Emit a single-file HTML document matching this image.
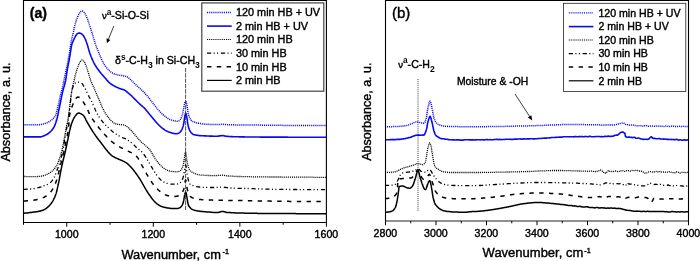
<!DOCTYPE html>
<html><head><meta charset="utf-8"><title>FTIR spectra</title>
<style>
html,body{margin:0;padding:0;background:#fff;}
body{width:700px;height:261px;overflow:hidden;}
svg{display:block;}
text{font-family:"Liberation Sans", Arial, Helvetica, sans-serif;fill:#000;stroke:#000;stroke-width:0.4px;}
</style></head><body>
<svg width="700" height="261" viewBox="0 0 700 261">
<rect width="700" height="261" fill="#fff"/>

<clipPath id="ca"><rect x="23.5" y="0.5" width="302.9" height="222.0"/></clipPath>
<g clip-path="url(#ca)" fill="none" stroke-linejoin="round">
<path d="M23.6,176.4 L24.1,176.4 L24.6,176.5 L25.1,176.5 L25.6,176.5 L26.1,176.6 L26.6,176.6 L27.1,176.6 L27.6,176.6 L28.1,176.6 L28.6,176.7 L29.1,176.7 L29.6,176.7 L30.1,176.7 L30.6,176.7 L31.1,176.7 L31.6,176.7 L32.1,176.7 L32.6,176.7 L33.1,176.7 L33.6,176.7 L34.1,176.7 L34.6,176.7 L35.1,176.7 L35.6,176.7 L36.1,176.7 L36.6,176.6 L37.1,176.6 L37.6,176.5 L38.1,176.5 L38.6,176.4 L39.1,176.4 L39.6,176.3 L40.1,176.3 L40.6,176.2 L41.1,176.1 L41.6,176.1 L42.1,176.0 L42.5,175.9 L43.0,175.8 L43.5,175.6 L44.0,175.5 L44.5,175.3 L45.0,175.2 L45.4,175.0 L45.9,174.8 L46.4,174.6 L46.8,174.4 L47.3,174.2 L47.7,174.0 L48.2,173.8 L48.6,173.5 L49.0,173.3 L49.5,173.0 L49.9,172.8 L50.3,172.5 L50.7,172.2 L51.1,171.9 L51.5,171.6 L51.9,171.3 L52.3,170.9 L52.7,170.6 L53.0,170.3 L53.4,169.9 L53.7,169.5 L54.1,169.2 L54.4,168.8 L54.7,168.4 L55.0,168.0 L55.3,167.6 L55.6,167.2 L55.9,166.8 L56.2,166.4 L56.4,165.9 L56.7,165.5 L56.9,165.1 L57.1,164.6 L57.3,164.1 L57.5,163.7 L57.8,163.2 L58.0,162.8 L58.1,162.3 L58.3,161.9 L58.5,161.4 L58.7,160.9 L58.9,160.5 L59.0,160.0 L59.2,159.5 L59.4,159.0 L59.5,158.6 L59.7,158.1 L59.8,157.6 L60.0,157.1 L60.1,156.7 L60.3,156.2 L60.5,155.7 L60.6,155.2 L60.8,154.8 L60.9,154.3 L61.1,153.8 L61.2,153.3 L61.3,152.8 L61.5,152.4 L61.6,151.9 L61.7,151.4 L61.9,150.9 L62.0,150.4 L62.1,149.9 L62.2,149.5 L62.3,149.0 L62.4,148.5 L62.5,148.0 L62.6,147.5 L62.7,147.0 L62.8,146.5 L62.9,146.0 L63.0,145.5 L63.1,145.0 L63.2,144.6 L63.3,144.1 L63.4,143.6 L63.5,143.1 L63.6,142.6 L63.6,142.1 L63.7,141.6 L63.8,141.1 L63.9,140.6 L64.0,140.1 L64.1,139.6 L64.2,139.1 L64.3,138.6 L64.4,138.2 L64.4,137.7 L64.5,137.2 L64.6,136.7 L64.7,136.2 L64.8,135.7 L64.9,135.2 L65.0,134.7 L65.1,134.2 L65.1,133.7 L65.2,133.2 L65.3,132.7 L65.4,132.2 L65.5,131.8 L65.6,131.3 L65.7,130.8 L65.8,130.3 L65.9,129.8 L65.9,129.3 L66.0,128.8 L66.1,128.3 L66.2,127.8 L66.3,127.3 L66.4,126.8 L66.5,126.4 L66.6,125.9 L66.7,125.4 L66.8,124.9 L67.0,124.4 L67.1,123.9 L67.2,123.4 L67.3,122.9 L67.4,122.4 L67.5,121.9 L67.6,121.5 L67.7,121.0 L67.8,120.5 L67.9,120.0 L68.0,119.5 L68.1,119.0 L68.2,118.5 L68.2,118.0 L68.3,117.5 L68.4,117.0 L68.5,116.5 L68.5,116.0 L68.6,115.6 L68.7,115.1 L68.7,114.6 L68.8,114.1 L68.9,113.6 L68.9,113.1 L69.0,112.6 L69.1,112.1 L69.1,111.6 L69.2,111.1 L69.2,110.6 L69.3,110.1 L69.3,109.6 L69.4,109.1 L69.5,108.6 L69.5,108.1 L69.6,107.6 L69.6,107.1 L69.7,106.6 L69.7,106.1 L69.8,105.6 L69.9,105.1 L69.9,104.6 L70.0,104.1 L70.0,103.6 L70.1,103.1 L70.2,102.6 L70.2,102.1 L70.3,101.6 L70.3,101.2 L70.4,100.7 L70.5,100.2 L70.5,99.7 L70.6,99.2 L70.6,98.7 L70.7,98.2 L70.7,97.7 L70.8,97.2 L70.9,96.7 L70.9,96.2 L71.0,95.7 L71.1,95.2 L71.1,94.7 L71.2,94.2 L71.3,93.7 L71.4,93.2 L71.4,92.7 L71.5,92.2 L71.6,91.7 L71.7,91.2 L71.8,90.7 L71.8,90.3 L71.9,89.8 L72.0,89.3 L72.1,88.8 L72.2,88.3 L72.3,87.8 L72.4,87.3 L72.5,86.8 L72.6,86.3 L72.7,85.8 L72.8,85.3 L72.9,84.9 L73.0,84.4 L73.1,83.9 L73.3,83.4 L73.4,82.9 L73.5,82.4 L73.7,82.0 L73.8,81.5 L73.9,81.0 L74.0,80.5 L74.2,80.0 L74.3,79.5 L74.4,79.0 L74.5,78.6 L74.6,78.1 L74.7,77.6 L74.8,77.1 L74.9,76.6 L75.1,76.1 L75.2,75.6 L75.3,75.1 L75.4,74.7 L75.5,74.2 L75.7,73.7 L75.8,73.2 L75.9,72.7 L76.1,72.3 L76.2,71.8 L76.4,71.3 L76.5,70.8 L76.7,70.3 L76.8,69.9 L77.0,69.4 L77.1,68.9 L77.3,68.4 L77.5,68.0 L77.6,67.5 L77.8,67.0 L78.0,66.6 L78.2,66.1 L78.3,65.6 L78.5,65.2 L78.7,64.7 L78.9,64.2 L79.1,63.8 L79.3,63.3 L79.5,62.8 L79.8,62.4 L80.0,62.0 L80.3,61.6 L80.6,61.2 L81.0,60.8 L81.4,60.4 L81.8,60.1 L82.2,60.0 L82.6,60.2 L83.0,60.5 L83.4,60.9 L83.8,61.3 L84.1,61.6 L84.3,62.0 L84.6,62.5 L84.8,62.9 L85.0,63.4 L85.2,63.9 L85.4,64.3 L85.6,64.8 L85.8,65.3 L86.0,65.7 L86.2,66.2 L86.4,66.7 L86.5,67.1 L86.7,67.6 L86.9,68.1 L87.0,68.6 L87.2,69.0 L87.3,69.5 L87.5,70.0 L87.6,70.5 L87.8,70.9 L87.9,71.4 L88.1,71.9 L88.2,72.4 L88.4,72.9 L88.5,73.3 L88.7,73.8 L88.8,74.3 L89.0,74.8 L89.1,75.2 L89.2,75.7 L89.4,76.2 L89.5,76.7 L89.7,77.2 L89.8,77.7 L90.0,78.1 L90.1,78.6 L90.3,79.1 L90.4,79.6 L90.6,80.0 L90.7,80.5 L90.9,81.0 L91.1,81.4 L91.3,81.9 L91.5,82.4 L91.7,82.8 L91.9,83.3 L92.1,83.7 L92.3,84.2 L92.5,84.6 L92.7,85.1 L92.9,85.5 L93.1,86.0 L93.3,86.5 L93.5,86.9 L93.8,87.4 L94.0,87.8 L94.2,88.3 L94.4,88.7 L94.6,89.2 L94.8,89.7 L95.0,90.1 L95.2,90.6 L95.4,91.0 L95.5,91.5 L95.7,92.0 L95.9,92.4 L96.1,92.9 L96.3,93.3 L96.5,93.8 L96.7,94.3 L96.9,94.7 L97.1,95.2 L97.3,95.6 L97.5,96.1 L97.7,96.5 L97.9,97.0 L98.1,97.5 L98.3,97.9 L98.5,98.4 L98.7,98.8 L98.9,99.3 L99.1,99.8 L99.3,100.2 L99.5,100.7 L99.7,101.1 L99.9,101.6 L100.1,102.1 L100.3,102.5 L100.5,103.0 L100.6,103.5 L100.8,103.9 L101.0,104.4 L101.2,104.8 L101.4,105.3 L101.6,105.8 L101.8,106.2 L102.0,106.7 L102.2,107.1 L102.4,107.6 L102.6,108.0 L102.9,108.5 L103.1,108.9 L103.3,109.4 L103.5,109.8 L103.7,110.3 L104.0,110.7 L104.2,111.2 L104.4,111.6 L104.7,112.0 L104.9,112.5 L105.2,112.9 L105.4,113.3 L105.7,113.8 L106.0,114.2 L106.2,114.6 L106.5,115.0 L106.8,115.4 L107.1,115.8 L107.4,116.2 L107.7,116.6 L108.0,117.0 L108.3,117.4 L108.6,117.8 L109.0,118.2 L109.3,118.6 L109.6,119.0 L109.9,119.3 L110.3,119.7 L110.6,120.1 L110.9,120.5 L111.3,120.8 L111.6,121.2 L112.0,121.5 L112.4,121.8 L112.8,122.2 L113.2,122.5 L113.6,122.8 L114.0,123.1 L114.4,123.3 L114.9,123.6 L115.3,123.7 L115.8,123.9 L116.3,124.0 L116.8,124.1 L117.3,124.2 L117.8,124.3 L118.3,124.4 L118.8,124.5 L119.2,124.5 L119.7,124.6 L120.3,124.6 L120.8,124.7 L121.3,124.7 L121.8,124.8 L122.3,124.8 L122.8,124.9 L123.2,124.9 L123.7,125.0 L124.2,125.2 L124.7,125.3 L125.1,125.5 L125.6,125.8 L126.0,126.0 L126.5,126.3 L126.9,126.5 L127.3,126.8 L127.7,127.1 L128.1,127.5 L128.4,127.8 L128.8,128.1 L129.2,128.5 L129.5,128.8 L129.9,129.2 L130.2,129.5 L130.6,129.9 L130.9,130.3 L131.2,130.6 L131.6,131.0 L131.9,131.4 L132.2,131.8 L132.6,132.1 L132.9,132.5 L133.2,132.9 L133.5,133.3 L133.9,133.7 L134.2,134.1 L134.5,134.4 L134.8,134.8 L135.2,135.2 L135.5,135.6 L135.8,135.9 L136.1,136.3 L136.5,136.7 L136.8,137.1 L137.1,137.5 L137.4,137.9 L137.8,138.2 L138.1,138.6 L138.4,139.0 L138.8,139.4 L139.1,139.7 L139.4,140.1 L139.8,140.5 L140.1,140.8 L140.5,141.2 L140.8,141.5 L141.2,141.9 L141.6,142.2 L141.9,142.5 L142.3,142.9 L142.7,143.2 L143.1,143.5 L143.4,143.8 L143.8,144.2 L144.2,144.5 L144.6,144.8 L145.0,145.1 L145.4,145.5 L145.7,145.8 L146.1,146.1 L146.5,146.5 L146.8,146.8 L147.2,147.1 L147.6,147.5 L148.0,147.8 L148.3,148.2 L148.7,148.5 L149.0,148.9 L149.4,149.2 L149.7,149.6 L150.0,150.0 L150.3,150.4 L150.6,150.8 L150.9,151.2 L151.1,151.6 L151.4,152.1 L151.6,152.5 L151.9,152.9 L152.1,153.4 L152.3,153.8 L152.5,154.3 L152.8,154.7 L153.0,155.2 L153.3,155.6 L153.5,156.0 L153.8,156.5 L154.1,156.9 L154.3,157.3 L154.6,157.7 L154.9,158.2 L155.1,158.6 L155.4,159.0 L155.7,159.4 L156.0,159.8 L156.3,160.2 L156.5,160.7 L156.8,161.1 L157.1,161.4 L157.4,161.8 L157.8,162.2 L158.1,162.6 L158.4,163.0 L158.7,163.4 L159.1,163.8 L159.4,164.1 L159.7,164.5 L160.1,164.9 L160.4,165.2 L160.8,165.6 L161.1,165.9 L161.5,166.3 L161.9,166.6 L162.2,167.0 L162.6,167.3 L163.0,167.6 L163.4,167.9 L163.8,168.2 L164.2,168.5 L164.6,168.8 L165.0,169.1 L165.5,169.3 L165.9,169.6 L166.3,169.8 L166.8,170.0 L167.3,170.2 L167.7,170.4 L168.2,170.6 L168.7,170.7 L169.1,170.9 L169.6,171.0 L170.1,171.1 L170.6,171.3 L171.1,171.4 L171.6,171.4 L172.1,171.5 L172.6,171.6 L173.1,171.6 L173.6,171.6 L174.1,171.7 L174.6,171.7 L175.1,171.7 L175.6,171.8 L176.1,171.8 L176.6,171.8 L177.1,171.8 L177.6,171.8 L178.1,171.7 L178.6,171.5 L179.1,171.4 L179.6,171.2 L180.0,171.0 L180.3,170.8 L180.7,170.5 L181.1,170.1 L181.4,169.7 L181.7,169.2 L181.9,168.7 L182.2,168.3 L182.4,167.8 L182.5,167.4 L182.7,166.9 L182.8,166.5 L183.0,166.0 L183.1,165.5 L183.2,165.0 L183.3,164.5 L183.4,164.0 L183.5,163.5 L183.6,163.0 L183.7,162.5 L183.8,162.0 L183.9,161.5 L184.0,161.0 L184.1,160.5 L184.2,160.0 L184.3,159.4 L184.4,158.7 L184.5,158.1 L184.5,157.4 L184.6,156.8 L184.7,156.1 L184.8,155.5 L184.9,154.9 L184.9,154.3 L185.0,153.8 L185.1,153.3 L185.2,153.0 L185.3,152.6 L185.3,152.4 L185.4,152.2 L185.5,152.2 L185.6,152.3 L185.7,152.4 L185.8,152.7 L185.8,153.0 L185.9,153.4 L186.0,153.9 L186.1,154.4 L186.2,155.0 L186.2,155.6 L186.3,156.2 L186.4,156.9 L186.5,157.6 L186.6,158.2 L186.6,158.8 L186.7,159.5 L186.8,160.1 L186.9,160.6 L187.0,161.1 L187.1,161.6 L187.2,162.1 L187.3,162.6 L187.4,163.1 L187.5,163.6 L187.6,164.1 L187.7,164.6 L187.8,165.1 L188.0,165.6 L188.1,166.1 L188.2,166.5 L188.4,167.0 L188.5,167.5 L188.7,167.9 L188.9,168.4 L189.1,168.8 L189.3,169.3 L189.6,169.8 L189.9,170.2 L190.2,170.6 L190.5,171.0 L190.8,171.3 L191.2,171.6 L191.5,171.9 L192.0,172.2 L192.4,172.4 L192.9,172.6 L193.3,172.8 L193.8,173.0 L194.3,173.2 L194.8,173.4 L195.2,173.6 L195.7,173.8 L196.2,174.0 L196.7,174.1 L197.1,174.3 L197.6,174.5 L198.1,174.6 L198.6,174.8 L199.1,174.9 L199.5,174.9 L200.0,175.0 L200.5,175.0 L201.0,175.1 L201.5,175.1 L202.0,175.2 L202.5,175.2 L203.0,175.2 L203.5,175.2 L204.0,175.3 L204.5,175.3 L205.0,175.3 L205.5,175.4 L206.0,175.4 L206.5,175.4 L207.0,175.4 L207.5,175.5 L208.0,175.5 L208.5,175.5 L209.0,175.5 L209.5,175.5 L210.0,175.5 L210.5,175.5 L211.0,175.6 L211.5,175.6 L212.0,175.6 L212.5,175.6 L213.0,175.6 L213.5,175.6 L214.0,175.6 L214.5,175.6 L215.0,175.6 L215.5,175.6 L216.0,175.6 L216.5,175.6 L217.0,175.5 L217.5,175.5 L218.0,175.5 L218.5,175.4 L219.0,175.4 L219.5,175.3 L220.0,175.3 L220.5,175.3 L221.0,175.2 L221.5,175.2 L222.0,175.2 L222.5,175.2 L223.0,175.2 L223.5,175.3 L224.0,175.3 L224.5,175.4 L225.0,175.5 L225.5,175.6 L226.0,175.7 L226.5,175.8 L227.0,175.9 L227.5,176.0 L228.0,176.0 L228.5,176.0 L229.0,176.1 L229.4,176.1 L229.9,176.1 L230.4,176.1 L230.9,176.2 L231.4,176.2 L231.9,176.2 L232.4,176.2 L232.9,176.3 L233.4,176.3 L233.9,176.3 L234.4,176.3 L234.9,176.4 L235.4,176.4 L235.9,176.4 L236.4,176.4 L236.9,176.4 L237.4,176.5 L237.9,176.5 L238.4,176.5 L238.9,176.5 L239.4,176.5 L239.9,176.5 L240.4,176.5 L240.9,176.6 L241.4,176.6 L241.9,176.6 L242.4,176.6 L242.9,176.6 L243.4,176.6 L243.9,176.6 L244.4,176.6 L244.9,176.7 L245.4,176.7 L245.9,176.7 L246.4,176.7 L246.9,176.7 L247.4,176.7 L247.9,176.7 L248.4,176.7 L248.9,176.7 L249.4,176.7 L249.9,176.7 L250.4,176.8 L250.9,176.8 L251.4,176.8 L251.9,176.8 L252.4,176.8 L252.9,176.8 L253.4,176.8 L253.9,176.8 L254.4,176.8 L254.9,176.8 L255.4,176.8 L255.9,176.8 L256.4,176.8 L256.9,176.8 L257.4,176.8 L257.9,176.9 L258.4,176.9 L258.9,176.9 L259.4,176.9 L259.9,176.9 L260.4,176.9 L260.9,176.9 L261.4,176.9 L261.9,176.9 L262.4,176.9 L262.9,176.9 L263.4,176.9 L263.9,176.9 L264.4,176.9 L264.9,176.9 L265.4,176.9 L265.9,176.9 L266.4,176.9 L266.9,176.9 L267.4,176.9 L267.9,176.9 L268.4,177.0 L268.9,177.0 L269.4,177.0 L269.9,177.0 L270.4,177.0 L270.9,177.0 L271.4,177.0 L271.9,177.0 L272.4,177.0 L272.9,177.0 L273.4,177.0 L273.9,177.0 L274.4,177.0 L274.9,177.0 L275.4,177.0 L275.9,177.0 L276.4,177.0 L276.9,177.0 L277.4,177.0 L277.9,177.0 L278.4,177.0 L278.9,177.0 L279.4,177.0 L279.9,177.0 L280.4,177.0 L280.9,177.0 L281.4,177.0 L281.9,177.1 L282.4,177.1 L282.9,177.1 L283.4,177.1 L283.9,177.1 L284.4,177.1 L284.9,177.1 L285.4,177.1 L285.9,177.1 L286.4,177.1 L286.9,177.1 L287.4,177.1 L287.9,177.1 L288.4,177.1 L288.9,177.1 L289.4,177.1 L289.9,177.1 L290.4,177.1 L290.9,177.1 L291.4,177.1 L291.9,177.1 L292.4,177.1 L292.9,177.1 L293.4,177.1 L293.9,177.1 L294.4,177.1 L294.9,177.1 L295.4,177.1 L295.9,177.1 L296.4,177.2 L296.9,177.2 L297.4,177.2 L297.9,177.2 L298.4,177.2 L298.9,177.2 L299.4,177.2 L299.9,177.2 L300.4,177.2 L300.9,177.2 L301.4,177.2 L301.9,177.2 L302.4,177.2 L302.9,177.2 L303.4,177.2 L303.9,177.2 L304.4,177.2 L304.9,177.2 L305.4,177.2 L305.9,177.2 L306.4,177.2 L306.9,177.2 L307.4,177.2 L307.9,177.2 L308.4,177.2 L308.9,177.2 L309.4,177.2 L309.9,177.2 L310.4,177.2 L310.9,177.2 L311.4,177.2 L311.9,177.2 L312.4,177.2 L312.9,177.2 L313.4,177.2 L313.9,177.3 L314.4,177.3 L314.9,177.3 L315.4,177.3 L315.9,177.3 L316.4,177.3 L316.9,177.3 L317.4,177.3 L317.9,177.3 L318.4,177.3 L318.9,177.3 L319.4,177.3 L319.9,177.3 L320.4,177.3 L320.9,177.3 L321.4,177.3 L321.9,177.3 L322.4,177.3 L322.9,177.3 L323.4,177.3 L323.9,177.3 L324.4,177.3 L324.9,177.3 L325.4,177.3 L325.9,177.3 L326.0,177.3" stroke="#000" stroke-width="1.3" stroke-dasharray="1.05 0.9"/>
<path d="M23.6,189.3 L24.1,189.3 L24.6,189.3 L25.1,189.3 L25.6,189.3 L26.1,189.2 L26.6,189.2 L27.1,189.2 L27.6,189.2 L28.1,189.1 L28.6,189.1 L29.1,189.1 L29.6,189.0 L30.1,189.0 L30.6,189.0 L31.1,188.9 L31.6,188.9 L32.1,188.8 L32.6,188.8 L33.1,188.7 L33.6,188.6 L34.1,188.6 L34.6,188.5 L35.1,188.4 L35.5,188.3 L36.0,188.2 L36.5,188.1 L37.0,188.0 L37.5,187.9 L38.0,187.7 L38.5,187.6 L39.0,187.5 L39.4,187.4 L39.9,187.2 L40.4,187.1 L40.9,187.0 L41.4,186.8 L41.8,186.6 L42.3,186.5 L42.8,186.3 L43.2,186.1 L43.7,185.9 L44.2,185.7 L44.6,185.6 L45.1,185.4 L45.6,185.2 L46.1,185.0 L46.5,184.8 L47.0,184.6 L47.5,184.4 L47.9,184.2 L48.4,183.9 L48.8,183.7 L49.2,183.4 L49.6,183.2 L50.0,182.9 L50.4,182.6 L50.7,182.3 L51.1,181.9 L51.4,181.6 L51.7,181.2 L52.0,180.8 L52.3,180.3 L52.6,179.9 L52.9,179.5 L53.2,179.0 L53.5,178.6 L53.7,178.2 L54.0,177.7 L54.2,177.3 L54.4,176.8 L54.6,176.4 L54.9,176.0 L55.1,175.5 L55.2,175.0 L55.4,174.6 L55.6,174.1 L55.8,173.6 L56.0,173.2 L56.1,172.7 L56.3,172.2 L56.5,171.7 L56.6,171.3 L56.8,170.8 L57.0,170.3 L57.2,169.8 L57.3,169.4 L57.5,168.9 L57.7,168.5 L57.9,168.0 L58.1,167.5 L58.3,167.1 L58.5,166.6 L58.6,166.1 L58.8,165.7 L59.0,165.2 L59.2,164.7 L59.3,164.3 L59.5,163.8 L59.6,163.3 L59.8,162.8 L59.9,162.3 L60.1,161.9 L60.2,161.4 L60.4,160.9 L60.5,160.4 L60.6,159.9 L60.8,159.5 L60.9,159.0 L61.0,158.5 L61.2,158.0 L61.3,157.5 L61.4,157.0 L61.5,156.6 L61.6,156.1 L61.8,155.6 L61.9,155.1 L62.0,154.6 L62.1,154.1 L62.2,153.6 L62.3,153.1 L62.4,152.7 L62.5,152.2 L62.6,151.7 L62.7,151.2 L62.8,150.7 L62.9,150.2 L63.0,149.7 L63.0,149.2 L63.1,148.7 L63.2,148.2 L63.3,147.7 L63.4,147.3 L63.5,146.8 L63.6,146.3 L63.7,145.8 L63.7,145.3 L63.8,144.8 L63.9,144.3 L64.0,143.8 L64.1,143.3 L64.2,142.8 L64.2,142.3 L64.3,141.8 L64.4,141.3 L64.5,140.8 L64.6,140.3 L64.7,139.9 L64.7,139.4 L64.8,138.9 L64.9,138.4 L65.0,137.9 L65.1,137.4 L65.2,136.9 L65.2,136.4 L65.3,135.9 L65.4,135.4 L65.5,134.9 L65.6,134.4 L65.7,133.9 L65.7,133.4 L65.8,133.0 L65.9,132.5 L66.0,132.0 L66.1,131.5 L66.2,131.0 L66.2,130.5 L66.3,130.0 L66.4,129.5 L66.5,129.0 L66.6,128.5 L66.7,128.0 L66.8,127.5 L66.9,127.0 L67.0,126.6 L67.1,126.1 L67.1,125.6 L67.2,125.1 L67.3,124.6 L67.4,124.1 L67.5,123.6 L67.6,123.1 L67.7,122.6 L67.8,122.1 L67.9,121.6 L68.0,121.1 L68.1,120.7 L68.2,120.2 L68.3,119.7 L68.4,119.2 L68.4,118.7 L68.5,118.2 L68.6,117.7 L68.7,117.2 L68.7,116.7 L68.8,116.2 L68.9,115.7 L68.9,115.2 L69.0,114.7 L69.1,114.2 L69.1,113.7 L69.2,113.2 L69.2,112.7 L69.3,112.2 L69.3,111.8 L69.4,111.3 L69.4,110.8 L69.5,110.3 L69.6,109.8 L69.6,109.3 L69.7,108.8 L69.7,108.3 L69.8,107.8 L69.8,107.3 L69.9,106.8 L69.9,106.3 L70.0,105.8 L70.0,105.3 L70.1,104.8 L70.2,104.3 L70.2,103.8 L70.3,103.3 L70.3,102.8 L70.4,102.3 L70.4,101.8 L70.5,101.3 L70.6,100.8 L70.6,100.3 L70.7,99.8 L70.7,99.3 L70.8,98.8 L70.8,98.3 L70.9,97.8 L71.0,97.3 L71.0,96.8 L71.1,96.3 L71.2,95.9 L71.2,95.4 L71.3,94.9 L71.4,94.4 L71.5,93.9 L71.5,93.4 L71.6,92.9 L71.7,92.4 L71.8,91.9 L71.9,91.4 L72.0,90.9 L72.1,90.4 L72.2,89.9 L72.3,89.4 L72.4,88.9 L72.5,88.4 L72.6,88.0 L72.8,87.5 L72.9,87.0 L73.1,86.5 L73.2,86.0 L73.4,85.5 L73.7,85.0 L73.9,84.5 L74.2,84.1 L74.5,83.7 L74.8,83.4 L75.1,83.1 L75.5,82.9 L75.9,82.7 L76.4,82.5 L76.9,82.4 L77.5,82.2 L78.0,82.1 L78.5,82.1 L79.0,82.1 L79.5,82.2 L80.0,82.4 L80.4,82.6 L80.9,82.8 L81.3,83.1 L81.7,83.3 L82.0,83.6 L82.4,84.0 L82.7,84.4 L83.0,84.8 L83.2,85.3 L83.5,85.7 L83.8,86.2 L84.0,86.6 L84.3,87.1 L84.5,87.5 L84.8,87.9 L85.0,88.4 L85.3,88.8 L85.5,89.2 L85.7,89.7 L85.9,90.1 L86.2,90.6 L86.4,91.0 L86.6,91.5 L86.8,91.9 L87.0,92.4 L87.2,92.9 L87.5,93.3 L87.7,93.8 L87.9,94.2 L88.1,94.7 L88.3,95.1 L88.5,95.6 L88.8,96.0 L89.0,96.5 L89.2,96.9 L89.4,97.4 L89.7,97.8 L89.9,98.2 L90.1,98.7 L90.3,99.1 L90.6,99.6 L90.8,100.0 L91.0,100.5 L91.2,100.9 L91.5,101.4 L91.7,101.8 L91.9,102.3 L92.1,102.7 L92.4,103.2 L92.6,103.6 L92.8,104.1 L93.0,104.5 L93.2,105.0 L93.4,105.4 L93.6,105.9 L93.8,106.3 L94.0,106.8 L94.2,107.3 L94.4,107.7 L94.6,108.2 L94.8,108.6 L95.0,109.1 L95.2,109.6 L95.4,110.0 L95.6,110.5 L95.8,110.9 L96.0,111.4 L96.2,111.8 L96.5,112.3 L96.7,112.7 L96.9,113.2 L97.2,113.6 L97.4,114.0 L97.6,114.5 L97.9,114.9 L98.2,115.3 L98.4,115.8 L98.7,116.2 L98.9,116.6 L99.2,117.0 L99.5,117.5 L99.8,117.9 L100.1,118.3 L100.3,118.7 L100.6,119.1 L100.9,119.5 L101.2,119.9 L101.5,120.3 L101.8,120.7 L102.1,121.1 L102.4,121.5 L102.7,121.9 L103.1,122.3 L103.4,122.7 L103.7,123.0 L104.0,123.4 L104.4,123.8 L104.7,124.1 L105.1,124.5 L105.4,124.9 L105.8,125.2 L106.1,125.6 L106.5,125.9 L106.9,126.3 L107.2,126.6 L107.6,127.0 L108.0,127.3 L108.3,127.6 L108.7,128.0 L109.0,128.3 L109.4,128.7 L109.8,129.0 L110.1,129.4 L110.5,129.7 L110.9,130.0 L111.3,130.4 L111.6,130.7 L112.0,131.0 L112.4,131.4 L112.8,131.7 L113.1,132.0 L113.5,132.3 L113.9,132.6 L114.3,132.9 L114.7,133.2 L115.1,133.5 L115.6,133.8 L116.0,134.0 L116.4,134.3 L116.8,134.6 L117.3,134.8 L117.7,135.1 L118.1,135.3 L118.6,135.6 L119.0,135.8 L119.4,136.1 L119.9,136.3 L120.3,136.6 L120.7,136.8 L121.2,137.1 L121.6,137.3 L122.1,137.5 L122.5,137.7 L123.0,137.9 L123.5,138.1 L123.9,138.2 L124.4,138.4 L124.9,138.5 L125.4,138.7 L125.8,138.9 L126.3,139.1 L126.7,139.4 L127.1,139.6 L127.5,139.9 L128.0,140.2 L128.4,140.5 L128.8,140.8 L129.2,141.1 L129.6,141.4 L130.0,141.6 L130.4,141.9 L130.8,142.2 L131.2,142.5 L131.6,142.9 L132.0,143.2 L132.4,143.5 L132.8,143.8 L133.1,144.1 L133.5,144.5 L133.9,144.8 L134.2,145.2 L134.6,145.5 L134.9,145.9 L135.3,146.3 L135.6,146.6 L135.9,147.0 L136.3,147.3 L136.6,147.7 L137.0,148.0 L137.4,148.4 L137.8,148.7 L138.2,149.0 L138.6,149.3 L139.0,149.6 L139.4,149.9 L139.8,150.2 L140.2,150.5 L140.6,150.8 L141.0,151.1 L141.4,151.4 L141.7,151.7 L142.1,152.1 L142.4,152.4 L142.7,152.8 L143.0,153.2 L143.3,153.6 L143.6,154.0 L143.9,154.4 L144.2,154.8 L144.5,155.2 L144.8,155.6 L145.1,156.1 L145.3,156.5 L145.6,156.9 L145.9,157.3 L146.1,157.8 L146.4,158.2 L146.7,158.6 L146.9,159.1 L147.2,159.5 L147.5,159.9 L147.7,160.4 L148.0,160.8 L148.2,161.2 L148.5,161.6 L148.7,162.1 L149.0,162.5 L149.2,162.9 L149.5,163.4 L149.7,163.8 L150.0,164.2 L150.2,164.7 L150.5,165.1 L150.7,165.5 L151.0,166.0 L151.2,166.4 L151.5,166.8 L151.8,167.3 L152.0,167.7 L152.3,168.1 L152.5,168.6 L152.8,169.0 L153.0,169.4 L153.3,169.8 L153.6,170.3 L153.8,170.7 L154.1,171.1 L154.4,171.5 L154.6,172.0 L154.9,172.4 L155.2,172.8 L155.5,173.2 L155.7,173.6 L156.0,174.0 L156.3,174.5 L156.6,174.9 L156.9,175.3 L157.2,175.7 L157.5,176.1 L157.8,176.5 L158.1,176.9 L158.4,177.3 L158.7,177.7 L159.0,178.0 L159.4,178.4 L159.7,178.8 L160.0,179.1 L160.4,179.5 L160.8,179.9 L161.1,180.2 L161.5,180.5 L161.9,180.8 L162.3,181.1 L162.7,181.4 L163.1,181.6 L163.6,181.9 L164.0,182.1 L164.5,182.4 L164.9,182.6 L165.4,182.8 L165.9,182.9 L166.4,183.1 L166.8,183.3 L167.3,183.4 L167.8,183.5 L168.3,183.6 L168.8,183.7 L169.2,183.8 L169.7,184.0 L170.2,184.0 L170.7,184.1 L171.2,184.2 L171.7,184.2 L172.2,184.2 L172.7,184.2 L173.2,184.2 L173.7,184.2 L174.3,184.2 L174.8,184.2 L175.3,184.1 L175.8,184.1 L176.3,184.1 L176.7,184.0 L177.2,184.0 L177.7,183.9 L178.2,183.7 L178.7,183.5 L179.2,183.3 L179.7,183.0 L180.1,182.7 L180.5,182.4 L180.9,182.1 L181.1,181.8 L181.4,181.5 L181.6,181.1 L181.9,180.7 L182.1,180.3 L182.3,179.8 L182.5,179.3 L182.7,178.8 L182.8,178.3 L183.0,177.7 L183.2,177.2 L183.3,176.7 L183.4,176.2 L183.6,175.7 L183.7,175.2 L183.8,174.7 L183.9,174.1 L184.0,173.5 L184.1,172.8 L184.2,172.2 L184.3,171.5 L184.4,170.9 L184.5,170.2 L184.6,169.6 L184.7,169.0 L184.8,168.4 L184.9,167.8 L184.9,167.3 L185.0,166.8 L185.1,166.3 L185.2,165.9 L185.3,165.6 L185.4,165.3 L185.4,165.2 L185.5,165.0 L185.6,165.0 L185.7,165.1 L185.8,165.2 L185.9,165.4 L185.9,165.7 L186.0,166.0 L186.1,166.4 L186.2,166.9 L186.3,167.4 L186.3,167.9 L186.4,168.5 L186.5,169.1 L186.6,169.7 L186.6,170.4 L186.7,171.0 L186.8,171.7 L186.9,172.4 L187.0,173.0 L187.1,173.6 L187.2,174.2 L187.3,174.8 L187.4,175.4 L187.5,175.9 L187.6,176.4 L187.7,176.9 L187.8,177.4 L187.9,178.0 L188.0,178.5 L188.1,179.0 L188.3,179.6 L188.4,180.1 L188.5,180.7 L188.7,181.2 L188.8,181.7 L189.0,182.1 L189.1,182.6 L189.3,183.0 L189.5,183.4 L189.7,183.7 L190.0,184.1 L190.2,184.3 L190.6,184.6 L191.0,184.8 L191.5,185.0 L192.0,185.2 L192.6,185.4 L193.1,185.6 L193.6,185.7 L194.0,185.9 L194.5,186.1 L195.0,186.2 L195.5,186.4 L196.0,186.5 L196.4,186.6 L196.9,186.7 L197.4,186.8 L197.9,186.8 L198.4,186.9 L198.9,187.0 L199.4,187.0 L199.9,187.1 L200.4,187.1 L200.9,187.2 L201.4,187.2 L201.9,187.2 L202.4,187.3 L202.9,187.3 L203.4,187.3 L203.9,187.4 L204.4,187.4 L204.9,187.4 L205.4,187.4 L205.9,187.4 L206.4,187.4 L206.9,187.4 L207.4,187.4 L207.9,187.4 L208.4,187.5 L208.9,187.5 L209.4,187.5 L209.9,187.5 L210.4,187.5 L210.9,187.5 L211.4,187.5 L211.9,187.5 L212.4,187.5 L212.9,187.5 L213.4,187.5 L213.9,187.5 L214.4,187.5 L214.9,187.5 L215.4,187.5 L215.9,187.5 L216.4,187.5 L216.9,187.4 L217.4,187.4 L217.9,187.4 L218.4,187.3 L218.9,187.3 L219.4,187.2 L219.9,187.2 L220.4,187.2 L220.9,187.1 L221.4,187.1 L221.9,187.1 L222.4,187.1 L222.9,187.1 L223.4,187.1 L223.9,187.2 L224.4,187.3 L224.9,187.3 L225.4,187.4 L225.9,187.5 L226.4,187.6 L226.9,187.7 L227.3,187.7 L227.8,187.8 L228.3,187.8 L228.8,187.9 L229.3,187.9 L229.8,187.9 L230.3,187.9 L230.8,188.0 L231.3,188.0 L231.8,188.0 L232.3,188.0 L232.8,188.1 L233.3,188.1 L233.8,188.1 L234.3,188.1 L234.8,188.1 L235.3,188.2 L235.8,188.2 L236.3,188.2 L236.8,188.2 L237.3,188.2 L237.8,188.3 L238.3,188.3 L238.8,188.3 L239.3,188.3 L239.8,188.3 L240.3,188.3 L240.8,188.3 L241.3,188.4 L241.8,188.4 L242.3,188.4 L242.8,188.4 L243.3,188.4 L243.8,188.4 L244.3,188.4 L244.8,188.5 L245.3,188.5 L245.8,188.5 L246.3,188.5 L246.8,188.5 L247.3,188.5 L247.8,188.5 L248.3,188.5 L248.8,188.6 L249.3,188.6 L249.8,188.6 L250.3,188.6 L250.8,188.6 L251.3,188.6 L251.8,188.7 L252.3,188.7 L252.8,188.7 L253.3,188.7 L253.8,188.7 L254.3,188.7 L254.8,188.8 L255.3,188.8 L255.8,188.8 L256.3,188.8 L256.8,188.8 L257.3,188.8 L257.8,188.9 L258.3,188.9 L258.8,188.9 L259.3,188.9 L259.8,188.9 L260.3,188.9 L260.8,189.0 L261.3,189.0 L261.8,189.0 L262.3,189.0 L262.8,189.0 L263.3,189.0 L263.8,189.0 L264.3,189.1 L264.8,189.1 L265.3,189.1 L265.8,189.1 L266.3,189.1 L266.8,189.1 L267.3,189.1 L267.8,189.2 L268.3,189.2 L268.8,189.2 L269.3,189.2 L269.8,189.2 L270.3,189.2 L270.8,189.2 L271.3,189.2 L271.8,189.2 L272.3,189.3 L272.8,189.3 L273.3,189.3 L273.8,189.3 L274.3,189.3 L274.8,189.3 L275.3,189.3 L275.8,189.3 L276.3,189.3 L276.8,189.3 L277.3,189.3 L277.8,189.3 L278.3,189.3 L278.8,189.3 L279.3,189.4 L279.8,189.4 L280.3,189.4 L280.8,189.4 L281.3,189.4 L281.8,189.4 L282.3,189.4 L282.8,189.4 L283.3,189.4 L283.8,189.4 L284.3,189.4 L284.8,189.4 L285.3,189.4 L285.8,189.4 L286.3,189.4 L286.8,189.4 L287.3,189.5 L287.8,189.5 L288.3,189.5 L288.8,189.5 L289.3,189.5 L289.8,189.5 L290.3,189.5 L290.8,189.5 L291.3,189.5 L291.8,189.5 L292.3,189.5 L292.8,189.5 L293.3,189.5 L293.8,189.5 L294.3,189.5 L294.8,189.5 L295.3,189.5 L295.8,189.5 L296.3,189.5 L296.8,189.6 L297.3,189.6 L297.8,189.6 L298.3,189.6 L298.8,189.6 L299.3,189.6 L299.8,189.6 L300.3,189.6 L300.8,189.6 L301.3,189.6 L301.8,189.6 L302.3,189.6 L302.8,189.6 L303.3,189.6 L303.8,189.6 L304.3,189.6 L304.8,189.6 L305.3,189.6 L305.8,189.6 L306.3,189.6 L306.8,189.6 L307.3,189.6 L307.8,189.6 L308.3,189.6 L308.8,189.6 L309.3,189.6 L309.8,189.7 L310.3,189.7 L310.8,189.7 L311.3,189.7 L311.8,189.7 L312.3,189.7 L312.8,189.7 L313.3,189.7 L313.8,189.7 L314.3,189.7 L314.8,189.7 L315.3,189.7 L315.8,189.7 L316.3,189.7 L316.8,189.7 L317.3,189.7 L317.8,189.7 L318.3,189.7 L318.8,189.7 L319.3,189.7 L319.8,189.7 L320.3,189.7 L320.8,189.7 L321.3,189.7 L321.8,189.7 L322.3,189.7 L322.8,189.7 L323.3,189.7 L323.8,189.7 L324.3,189.7 L324.8,189.7 L325.3,189.7 L325.8,189.7 L326.0,189.7" stroke="#000" stroke-width="1.3" stroke-dasharray="4.2 2.4 1.1 2.3 1.1 2.8"/>
<path d="M23.6,201.0 L24.1,201.0 L24.6,201.0 L25.1,200.9 L25.6,200.9 L26.1,200.9 L26.6,200.8 L27.1,200.8 L27.6,200.8 L28.1,200.7 L28.6,200.7 L29.1,200.6 L29.6,200.6 L30.1,200.5 L30.6,200.5 L31.1,200.4 L31.6,200.4 L32.1,200.3 L32.6,200.3 L33.1,200.2 L33.6,200.2 L34.1,200.1 L34.6,200.0 L35.1,199.9 L35.6,199.9 L36.1,199.8 L36.6,199.7 L37.0,199.6 L37.5,199.5 L38.0,199.4 L38.5,199.3 L39.0,199.2 L39.5,199.1 L39.9,198.9 L40.4,198.8 L40.9,198.6 L41.4,198.4 L41.8,198.2 L42.3,198.0 L42.8,197.8 L43.2,197.6 L43.7,197.4 L44.1,197.2 L44.6,197.0 L45.0,196.7 L45.4,196.5 L45.9,196.2 L46.3,196.0 L46.7,195.7 L47.2,195.4 L47.6,195.1 L48.0,194.8 L48.3,194.5 L48.7,194.2 L49.1,193.9 L49.4,193.5 L49.7,193.1 L50.1,192.8 L50.4,192.4 L50.7,192.0 L51.0,191.6 L51.3,191.2 L51.6,190.7 L51.9,190.3 L52.2,189.9 L52.4,189.5 L52.7,189.1 L52.9,188.6 L53.2,188.2 L53.4,187.8 L53.7,187.3 L53.9,186.9 L54.1,186.4 L54.3,186.0 L54.5,185.5 L54.7,185.1 L54.9,184.6 L55.1,184.1 L55.3,183.7 L55.5,183.2 L55.7,182.7 L55.9,182.3 L56.0,181.8 L56.2,181.3 L56.4,180.9 L56.5,180.4 L56.7,179.9 L56.8,179.4 L57.0,179.0 L57.1,178.5 L57.3,178.0 L57.4,177.5 L57.6,177.0 L57.7,176.6 L57.8,176.1 L57.9,175.6 L58.1,175.1 L58.2,174.6 L58.3,174.1 L58.4,173.6 L58.5,173.2 L58.7,172.7 L58.8,172.2 L58.9,171.7 L59.0,171.2 L59.1,170.7 L59.2,170.2 L59.4,169.8 L59.5,169.3 L59.6,168.8 L59.7,168.3 L59.8,167.8 L60.0,167.3 L60.1,166.8 L60.2,166.4 L60.3,165.9 L60.4,165.4 L60.5,164.9 L60.7,164.4 L60.8,163.9 L60.9,163.4 L61.0,163.0 L61.1,162.5 L61.3,162.0 L61.4,161.5 L61.5,161.0 L61.6,160.5 L61.7,160.0 L61.9,159.6 L62.0,159.1 L62.1,158.6 L62.2,158.1 L62.4,157.6 L62.5,157.1 L62.6,156.7 L62.8,156.2 L62.9,155.7 L63.0,155.2 L63.1,154.7 L63.3,154.2 L63.4,153.8 L63.5,153.3 L63.6,152.8 L63.8,152.3 L63.9,151.8 L64.0,151.3 L64.1,150.8 L64.2,150.4 L64.3,149.9 L64.4,149.4 L64.5,148.9 L64.6,148.4 L64.8,147.9 L64.9,147.4 L65.0,146.9 L65.1,146.4 L65.1,146.0 L65.2,145.5 L65.3,145.0 L65.4,144.5 L65.5,144.0 L65.6,143.5 L65.7,143.0 L65.8,142.5 L65.9,142.0 L66.0,141.5 L66.1,141.0 L66.2,140.6 L66.3,140.1 L66.4,139.6 L66.5,139.1 L66.6,138.6 L66.7,138.1 L66.8,137.6 L66.9,137.1 L67.0,136.6 L67.1,136.1 L67.2,135.7 L67.4,135.2 L67.5,134.7 L67.6,134.2 L67.7,133.7 L67.8,133.2 L67.9,132.7 L68.0,132.2 L68.1,131.7 L68.2,131.2 L68.3,130.8 L68.3,130.3 L68.4,129.8 L68.5,129.3 L68.5,128.8 L68.6,128.3 L68.6,127.8 L68.6,127.3 L68.7,126.8 L68.7,126.3 L68.7,125.8 L68.8,125.3 L68.8,124.8 L68.8,124.3 L68.9,123.8 L68.9,123.3 L68.9,122.8 L68.9,122.3 L68.9,121.8 L69.0,121.3 L69.0,120.8 L69.0,120.3 L69.1,119.8 L69.1,119.3 L69.1,118.8 L69.2,118.3 L69.2,117.8 L69.3,117.3 L69.3,116.8 L69.4,116.3 L69.5,115.8 L69.5,115.3 L69.6,114.8 L69.8,114.4 L69.9,113.9 L70.0,113.4 L70.1,112.9 L70.2,112.4 L70.4,111.9 L70.5,111.4 L70.7,111.0 L70.8,110.5 L71.0,110.0 L71.1,109.5 L71.3,109.0 L71.4,108.6 L71.6,108.1 L71.7,107.6 L71.9,107.1 L72.0,106.7 L72.2,106.2 L72.4,105.7 L72.5,105.2 L72.7,104.7 L72.9,104.3 L73.1,103.8 L73.3,103.4 L73.5,102.9 L73.7,102.5 L74.0,102.0 L74.2,101.6 L74.4,101.2 L74.7,100.7 L75.0,100.2 L75.3,99.7 L75.6,99.2 L75.9,98.7 L76.2,98.2 L76.5,97.8 L76.9,97.5 L77.3,97.3 L77.6,97.1 L78.0,97.1 L78.5,97.2 L79.0,97.3 L79.5,97.5 L80.0,97.7 L80.4,98.0 L80.8,98.2 L81.1,98.5 L81.4,98.9 L81.7,99.4 L82.0,99.8 L82.2,100.3 L82.5,100.7 L82.8,101.2 L83.0,101.6 L83.3,102.0 L83.6,102.5 L83.8,102.9 L84.1,103.3 L84.4,103.7 L84.6,104.2 L84.9,104.6 L85.1,105.0 L85.4,105.5 L85.6,105.9 L85.9,106.3 L86.1,106.8 L86.4,107.2 L86.6,107.6 L86.8,108.1 L87.1,108.5 L87.3,109.0 L87.5,109.4 L87.7,109.9 L87.9,110.3 L88.1,110.8 L88.3,111.3 L88.5,111.7 L88.7,112.2 L88.9,112.6 L89.1,113.1 L89.3,113.6 L89.5,114.0 L89.7,114.5 L89.9,114.9 L90.2,115.3 L90.4,115.8 L90.7,116.2 L90.9,116.6 L91.2,117.1 L91.5,117.5 L91.7,117.9 L92.0,118.3 L92.3,118.7 L92.5,119.2 L92.8,119.6 L93.1,120.0 L93.4,120.4 L93.7,120.8 L94.0,121.2 L94.3,121.6 L94.6,122.0 L94.9,122.4 L95.2,122.9 L95.4,123.3 L95.7,123.7 L96.0,124.1 L96.3,124.5 L96.6,124.9 L96.9,125.3 L97.2,125.7 L97.6,126.0 L97.9,126.4 L98.2,126.8 L98.5,127.2 L98.8,127.6 L99.1,128.0 L99.4,128.4 L99.8,128.8 L100.1,129.2 L100.4,129.5 L100.7,129.9 L101.1,130.3 L101.4,130.7 L101.7,131.1 L102.0,131.4 L102.4,131.8 L102.7,132.2 L103.0,132.6 L103.3,133.0 L103.7,133.3 L104.0,133.7 L104.3,134.1 L104.7,134.5 L105.0,134.8 L105.3,135.2 L105.7,135.6 L106.0,135.9 L106.4,136.3 L106.7,136.7 L107.0,137.0 L107.4,137.4 L107.7,137.7 L108.1,138.1 L108.4,138.4 L108.8,138.8 L109.2,139.1 L109.5,139.5 L109.9,139.8 L110.2,140.2 L110.6,140.5 L111.0,140.9 L111.4,141.2 L111.7,141.5 L112.1,141.9 L112.5,142.2 L112.9,142.5 L113.3,142.8 L113.7,143.1 L114.1,143.4 L114.5,143.7 L114.9,144.0 L115.3,144.3 L115.7,144.6 L116.1,144.8 L116.5,145.1 L117.0,145.4 L117.4,145.6 L117.8,145.9 L118.3,146.1 L118.7,146.4 L119.1,146.6 L119.6,146.9 L120.0,147.1 L120.4,147.3 L120.9,147.6 L121.3,147.8 L121.8,148.0 L122.2,148.2 L122.7,148.4 L123.2,148.6 L123.6,148.8 L124.1,149.0 L124.5,149.3 L125.0,149.5 L125.4,149.7 L125.9,149.9 L126.3,150.2 L126.7,150.4 L127.2,150.7 L127.6,150.9 L128.1,151.1 L128.5,151.4 L129.0,151.6 L129.4,151.8 L129.9,152.0 L130.3,152.2 L130.8,152.4 L131.3,152.6 L131.7,152.8 L132.2,153.0 L132.6,153.3 L133.0,153.5 L133.4,153.8 L133.8,154.1 L134.2,154.4 L134.6,154.7 L135.0,155.0 L135.4,155.3 L135.8,155.7 L136.2,156.0 L136.5,156.4 L136.9,156.8 L137.2,157.1 L137.5,157.5 L137.8,157.9 L138.1,158.3 L138.4,158.7 L138.6,159.1 L138.9,159.5 L139.1,159.9 L139.4,160.4 L139.6,160.8 L139.8,161.3 L140.1,161.7 L140.3,162.2 L140.5,162.6 L140.8,163.1 L141.0,163.5 L141.2,164.0 L141.4,164.4 L141.7,164.9 L141.9,165.3 L142.2,165.8 L142.4,166.2 L142.6,166.7 L142.9,167.1 L143.1,167.5 L143.3,168.0 L143.6,168.4 L143.8,168.9 L144.0,169.3 L144.3,169.8 L144.5,170.2 L144.7,170.6 L145.0,171.1 L145.2,171.5 L145.5,171.9 L145.7,172.4 L146.0,172.8 L146.2,173.2 L146.5,173.7 L146.7,174.1 L147.0,174.5 L147.2,175.0 L147.5,175.4 L147.8,175.8 L148.0,176.2 L148.3,176.7 L148.5,177.1 L148.8,177.5 L149.1,178.0 L149.3,178.4 L149.6,178.8 L149.9,179.2 L150.1,179.7 L150.4,180.1 L150.7,180.5 L150.9,180.9 L151.2,181.3 L151.5,181.8 L151.8,182.2 L152.0,182.6 L152.3,183.0 L152.6,183.4 L152.9,183.8 L153.2,184.2 L153.5,184.6 L153.8,185.0 L154.2,185.4 L154.5,185.8 L154.8,186.1 L155.1,186.5 L155.4,186.9 L155.8,187.3 L156.1,187.6 L156.4,188.0 L156.8,188.4 L157.1,188.7 L157.5,189.1 L157.8,189.5 L158.2,189.8 L158.6,190.1 L158.9,190.5 L159.3,190.8 L159.7,191.1 L160.1,191.5 L160.5,191.8 L160.9,192.1 L161.3,192.4 L161.7,192.7 L162.1,193.0 L162.5,193.3 L162.9,193.5 L163.3,193.8 L163.8,194.0 L164.2,194.2 L164.7,194.5 L165.1,194.7 L165.6,194.9 L166.0,195.1 L166.5,195.3 L167.0,195.5 L167.5,195.6 L167.9,195.7 L168.4,195.8 L168.9,195.9 L169.4,196.1 L169.9,196.2 L170.4,196.3 L170.9,196.3 L171.4,196.4 L171.9,196.5 L172.4,196.5 L172.9,196.5 L173.4,196.5 L173.9,196.5 L174.4,196.5 L174.9,196.4 L175.4,196.4 L175.9,196.3 L176.4,196.3 L176.9,196.2 L177.3,196.1 L177.8,196.0 L178.3,195.8 L178.7,195.5 L179.2,195.2 L179.6,194.9 L180.0,194.6 L180.4,194.3 L180.7,194.0 L181.1,193.6 L181.4,193.2 L181.7,192.8 L182.0,192.4 L182.3,192.0 L182.6,191.6 L182.9,191.2 L183.2,190.8 L183.4,190.3 L183.5,189.9 L183.7,189.4 L183.8,188.8 L184.0,188.2 L184.1,187.6 L184.2,187.0 L184.3,186.4 L184.4,185.7 L184.5,185.1 L184.6,184.4 L184.7,183.8 L184.8,183.2 L184.9,182.6 L185.0,182.1 L185.1,181.6 L185.1,181.1 L185.2,180.8 L185.3,180.4 L185.4,180.2 L185.5,180.1 L185.6,180.0 L185.7,180.0 L185.8,180.2 L185.9,180.4 L186.0,180.7 L186.0,181.0 L186.1,181.4 L186.2,181.9 L186.3,182.4 L186.4,183.0 L186.4,183.6 L186.5,184.2 L186.6,184.9 L186.7,185.5 L186.8,186.2 L186.9,186.8 L187.0,187.5 L187.1,188.1 L187.2,188.7 L187.3,189.2 L187.4,189.8 L187.6,190.2 L187.7,190.7 L187.8,191.2 L188.0,191.7 L188.2,192.2 L188.3,192.7 L188.5,193.2 L188.7,193.7 L188.9,194.1 L189.1,194.6 L189.4,195.0 L189.6,195.4 L189.9,195.8 L190.1,196.2 L190.5,196.5 L190.9,196.9 L191.3,197.2 L191.7,197.5 L192.2,197.7 L192.6,197.9 L193.1,198.1 L193.6,198.3 L194.0,198.4 L194.5,198.6 L195.0,198.7 L195.5,198.8 L196.0,198.9 L196.5,199.0 L197.0,199.1 L197.5,199.2 L198.0,199.2 L198.4,199.3 L198.9,199.4 L199.4,199.4 L199.9,199.5 L200.4,199.5 L200.9,199.6 L201.4,199.6 L201.9,199.7 L202.4,199.7 L202.9,199.7 L203.4,199.8 L203.9,199.8 L204.4,199.8 L204.9,199.9 L205.4,199.9 L205.9,199.9 L206.4,199.9 L206.9,200.0 L207.4,200.0 L207.9,200.0 L208.4,200.0 L208.9,200.0 L209.4,200.1 L209.9,200.1 L210.4,200.1 L210.9,200.1 L211.4,200.1 L211.9,200.1 L212.4,200.1 L212.9,200.2 L213.4,200.2 L213.9,200.2 L214.4,200.2 L214.9,200.2 L215.4,200.2 L215.9,200.2 L216.4,200.2 L216.9,200.2 L217.4,200.2 L217.9,200.2 L218.4,200.2 L218.9,200.2 L219.4,200.2 L219.9,200.3 L220.4,200.3 L220.9,200.3 L221.4,200.3 L221.9,200.3 L222.4,200.3 L222.9,200.3 L223.4,200.3 L223.9,200.3 L224.4,200.3 L224.9,200.3 L225.4,200.3 L225.9,200.3 L226.4,200.3 L226.9,200.3 L227.4,200.3 L227.9,200.3 L228.4,200.4 L228.9,200.4 L229.4,200.4 L229.9,200.4 L230.4,200.4 L230.9,200.4 L231.4,200.4 L231.9,200.4 L232.4,200.4 L232.9,200.4 L233.4,200.4 L233.9,200.5 L234.4,200.5 L234.9,200.5 L235.4,200.5 L235.9,200.5 L236.4,200.5 L236.9,200.5 L237.4,200.5 L237.9,200.5 L238.4,200.6 L238.9,200.6 L239.4,200.6 L239.9,200.6 L240.4,200.6 L240.9,200.6 L241.4,200.6 L241.9,200.6 L242.4,200.6 L242.9,200.7 L243.4,200.7 L243.9,200.7 L244.4,200.7 L244.9,200.7 L245.4,200.7 L245.9,200.7 L246.4,200.7 L246.9,200.7 L247.4,200.8 L247.9,200.8 L248.4,200.8 L248.9,200.8 L249.4,200.8 L249.9,200.8 L250.4,200.8 L250.9,200.8 L251.4,200.8 L251.9,200.8 L252.4,200.8 L252.9,200.9 L253.4,200.9 L253.9,200.9 L254.4,200.9 L254.9,200.9 L255.4,200.9 L255.9,200.9 L256.4,200.9 L256.9,200.9 L257.4,200.9 L257.9,200.9 L258.4,201.0 L258.9,201.0 L259.4,201.0 L259.9,201.0 L260.4,201.0 L260.9,201.0 L261.4,201.0 L261.9,201.0 L262.4,201.0 L262.9,201.0 L263.4,201.0 L263.9,201.0 L264.4,201.1 L264.9,201.1 L265.4,201.1 L265.9,201.1 L266.4,201.1 L266.9,201.1 L267.4,201.1 L267.9,201.1 L268.4,201.1 L268.9,201.1 L269.4,201.1 L269.9,201.1 L270.4,201.1 L270.9,201.2 L271.4,201.2 L271.9,201.2 L272.4,201.2 L272.9,201.2 L273.4,201.2 L273.9,201.2 L274.4,201.2 L274.9,201.2 L275.4,201.2 L275.9,201.2 L276.4,201.2 L276.9,201.2 L277.4,201.2 L277.9,201.2 L278.4,201.2 L278.9,201.2 L279.4,201.2 L279.9,201.3 L280.4,201.3 L280.9,201.3 L281.4,201.3 L281.9,201.3 L282.4,201.3 L282.9,201.3 L283.4,201.3 L283.9,201.3 L284.4,201.3 L284.9,201.3 L285.4,201.3 L285.9,201.3 L286.4,201.3 L286.9,201.3 L287.4,201.3 L287.9,201.3 L288.4,201.3 L288.9,201.3 L289.4,201.4 L289.9,201.4 L290.4,201.4 L290.9,201.4 L291.4,201.4 L291.9,201.4 L292.4,201.4 L292.9,201.4 L293.4,201.4 L293.9,201.4 L294.4,201.4 L294.9,201.4 L295.4,201.4 L295.9,201.4 L296.4,201.4 L296.9,201.4 L297.4,201.4 L297.9,201.4 L298.4,201.4 L298.9,201.4 L299.4,201.4 L299.9,201.4 L300.4,201.5 L300.9,201.5 L301.4,201.5 L301.9,201.5 L302.4,201.5 L302.9,201.5 L303.4,201.5 L303.9,201.5 L304.4,201.5 L304.9,201.5 L305.4,201.5 L305.9,201.5 L306.4,201.5 L306.9,201.5 L307.4,201.5 L307.9,201.5 L308.4,201.5 L308.9,201.5 L309.4,201.5 L309.9,201.5 L310.4,201.5 L310.9,201.5 L311.4,201.5 L311.9,201.5 L312.4,201.5 L312.9,201.5 L313.4,201.5 L313.9,201.6 L314.4,201.6 L314.9,201.6 L315.4,201.6 L315.9,201.6 L316.4,201.6 L316.9,201.6 L317.4,201.6 L317.9,201.6 L318.4,201.6 L318.9,201.6 L319.4,201.6 L319.9,201.6 L320.4,201.6 L320.9,201.6 L321.4,201.6 L321.9,201.6 L322.4,201.6 L322.9,201.6 L323.4,201.6 L323.9,201.6 L324.4,201.6 L324.9,201.6 L325.4,201.6 L325.9,201.6 L326.0,201.6" stroke="#000" stroke-width="1.5" stroke-dasharray="4.4 5.4"/>
<path d="M23.6,213.3 L24.1,213.2 L24.6,213.2 L25.1,213.1 L25.6,213.1 L26.1,213.0 L26.6,213.0 L27.1,212.9 L27.6,212.9 L28.1,212.8 L28.6,212.7 L29.1,212.7 L29.6,212.6 L30.1,212.6 L30.6,212.5 L31.1,212.4 L31.5,212.4 L32.0,212.3 L32.5,212.3 L33.0,212.2 L33.5,212.1 L34.0,212.1 L34.5,212.0 L35.0,212.0 L35.5,211.9 L36.0,211.8 L36.5,211.8 L37.0,211.7 L37.5,211.6 L38.0,211.5 L38.5,211.4 L39.0,211.3 L39.5,211.2 L39.9,211.1 L40.4,211.0 L40.9,210.8 L41.4,210.7 L41.9,210.5 L42.4,210.4 L42.9,210.2 L43.3,210.0 L43.8,209.8 L44.2,209.6 L44.6,209.4 L45.1,209.2 L45.5,208.9 L45.9,208.7 L46.3,208.4 L46.7,208.0 L47.1,207.7 L47.5,207.4 L47.9,207.0 L48.3,206.7 L48.6,206.4 L49.0,206.0 L49.3,205.7 L49.7,205.3 L50.0,204.9 L50.3,204.5 L50.6,204.1 L51.0,203.7 L51.3,203.3 L51.5,202.9 L51.8,202.5 L52.1,202.1 L52.4,201.7 L52.6,201.3 L52.9,200.8 L53.1,200.4 L53.4,199.9 L53.6,199.5 L53.8,199.1 L54.0,198.6 L54.2,198.1 L54.5,197.7 L54.7,197.2 L54.9,196.8 L55.0,196.3 L55.2,195.8 L55.4,195.4 L55.6,194.9 L55.7,194.4 L55.9,194.0 L56.1,193.5 L56.2,193.0 L56.4,192.5 L56.5,192.0 L56.6,191.6 L56.8,191.1 L56.9,190.6 L57.0,190.1 L57.1,189.6 L57.2,189.1 L57.3,188.7 L57.4,188.2 L57.5,187.7 L57.6,187.2 L57.8,186.7 L57.9,186.2 L58.0,185.7 L58.1,185.2 L58.2,184.7 L58.3,184.3 L58.4,183.8 L58.5,183.3 L58.6,182.8 L58.7,182.3 L58.8,181.8 L58.9,181.3 L59.0,180.8 L59.1,180.3 L59.2,179.9 L59.3,179.4 L59.4,178.9 L59.5,178.4 L59.6,177.9 L59.7,177.4 L59.7,176.9 L59.8,176.4 L59.9,175.9 L60.0,175.4 L60.1,174.9 L60.2,174.4 L60.2,173.9 L60.3,173.4 L60.4,173.0 L60.5,172.5 L60.6,172.0 L60.7,171.5 L60.8,171.0 L60.9,170.5 L61.0,170.0 L61.1,169.5 L61.2,169.0 L61.3,168.5 L61.4,168.1 L61.5,167.6 L61.6,167.1 L61.7,166.6 L61.8,166.1 L61.9,165.6 L62.0,165.1 L62.2,164.6 L62.3,164.1 L62.4,163.7 L62.5,163.2 L62.6,162.7 L62.7,162.2 L62.8,161.7 L62.9,161.2 L63.1,160.7 L63.2,160.2 L63.3,159.8 L63.4,159.3 L63.5,158.8 L63.6,158.3 L63.8,157.8 L63.9,157.3 L64.0,156.8 L64.1,156.4 L64.2,155.9 L64.4,155.4 L64.5,154.9 L64.6,154.4 L64.7,153.9 L64.8,153.4 L64.9,153.0 L65.1,152.5 L65.2,152.0 L65.3,151.5 L65.4,151.0 L65.5,150.5 L65.6,150.0 L65.7,149.6 L65.8,149.1 L65.9,148.6 L66.0,148.1 L66.2,147.6 L66.3,147.1 L66.4,146.6 L66.5,146.1 L66.6,145.6 L66.7,145.2 L66.8,144.7 L66.9,144.2 L67.0,143.7 L67.1,143.2 L67.2,142.7 L67.3,142.2 L67.4,141.7 L67.5,141.2 L67.6,140.7 L67.7,140.3 L67.8,139.8 L67.9,139.3 L68.0,138.8 L68.1,138.3 L68.2,137.8 L68.3,137.3 L68.4,136.8 L68.5,136.3 L68.6,135.8 L68.7,135.4 L68.8,134.9 L68.9,134.4 L69.0,133.9 L69.1,133.4 L69.2,132.9 L69.3,132.4 L69.4,131.9 L69.5,131.4 L69.6,130.9 L69.7,130.5 L69.8,130.0 L70.0,129.5 L70.1,129.0 L70.2,128.5 L70.3,128.0 L70.4,127.5 L70.6,127.1 L70.7,126.6 L70.8,126.1 L71.0,125.6 L71.1,125.1 L71.2,124.6 L71.4,124.2 L71.5,123.7 L71.7,123.2 L71.9,122.7 L72.0,122.3 L72.2,121.8 L72.4,121.4 L72.6,120.9 L72.8,120.4 L73.0,119.9 L73.2,119.5 L73.4,119.0 L73.7,118.6 L73.9,118.1 L74.1,117.7 L74.4,117.3 L74.7,116.9 L74.9,116.5 L75.2,116.1 L75.6,115.6 L75.9,115.2 L76.3,114.7 L76.6,114.3 L77.0,113.9 L77.4,113.6 L77.8,113.3 L78.2,113.2 L78.6,113.1 L79.1,113.1 L79.5,113.2 L80.0,113.4 L80.5,113.6 L81.0,113.8 L81.5,114.1 L82.0,114.4 L82.4,114.6 L82.8,114.9 L83.1,115.2 L83.4,115.5 L83.7,115.8 L84.0,116.2 L84.3,116.6 L84.5,117.0 L84.8,117.5 L85.0,117.9 L85.3,118.4 L85.5,118.9 L85.7,119.4 L85.9,119.8 L86.2,120.3 L86.4,120.8 L86.6,121.3 L86.9,121.7 L87.1,122.2 L87.4,122.6 L87.6,123.0 L87.9,123.5 L88.2,123.9 L88.4,124.3 L88.7,124.7 L88.9,125.2 L89.2,125.6 L89.4,126.0 L89.7,126.5 L89.9,126.9 L90.2,127.3 L90.4,127.8 L90.7,128.2 L91.0,128.6 L91.2,129.0 L91.5,129.5 L91.8,129.9 L92.0,130.3 L92.3,130.7 L92.6,131.1 L92.8,131.6 L93.1,132.0 L93.4,132.4 L93.7,132.8 L93.9,133.2 L94.2,133.7 L94.5,134.1 L94.8,134.5 L95.1,134.9 L95.4,135.3 L95.6,135.7 L95.9,136.1 L96.2,136.5 L96.5,136.9 L96.8,137.3 L97.1,137.7 L97.4,138.1 L97.7,138.5 L98.0,138.9 L98.3,139.3 L98.6,139.7 L98.9,140.1 L99.2,140.5 L99.5,140.9 L99.9,141.3 L100.2,141.7 L100.5,142.1 L100.8,142.5 L101.1,142.9 L101.4,143.3 L101.7,143.7 L102.0,144.1 L102.3,144.5 L102.6,144.9 L102.9,145.3 L103.2,145.7 L103.5,146.1 L103.8,146.5 L104.1,146.9 L104.4,147.3 L104.7,147.7 L105.0,148.1 L105.3,148.5 L105.6,148.9 L105.9,149.3 L106.2,149.7 L106.5,150.0 L106.8,150.4 L107.2,150.8 L107.5,151.2 L107.8,151.6 L108.1,152.0 L108.5,152.3 L108.8,152.7 L109.1,153.1 L109.5,153.5 L109.8,153.8 L110.2,154.2 L110.5,154.5 L110.9,154.9 L111.3,155.2 L111.7,155.5 L112.1,155.8 L112.5,156.1 L112.9,156.3 L113.3,156.6 L113.8,156.8 L114.2,157.1 L114.7,157.3 L115.1,157.6 L115.5,157.8 L116.0,158.0 L116.4,158.2 L116.9,158.4 L117.4,158.6 L117.8,158.8 L118.3,159.0 L118.8,159.2 L119.2,159.4 L119.7,159.6 L120.1,159.8 L120.6,160.0 L121.1,160.2 L121.5,160.4 L122.0,160.5 L122.4,160.7 L122.9,161.0 L123.3,161.2 L123.8,161.4 L124.2,161.6 L124.7,161.9 L125.1,162.1 L125.5,162.4 L126.0,162.7 L126.4,162.9 L126.8,163.2 L127.2,163.5 L127.6,163.8 L128.0,164.1 L128.3,164.4 L128.7,164.8 L129.1,165.1 L129.4,165.5 L129.8,165.8 L130.1,166.2 L130.5,166.6 L130.8,166.9 L131.1,167.3 L131.5,167.7 L131.8,168.1 L132.1,168.5 L132.5,168.8 L132.8,169.2 L133.1,169.6 L133.4,170.0 L133.7,170.4 L134.0,170.8 L134.3,171.2 L134.6,171.6 L134.9,172.0 L135.2,172.4 L135.5,172.8 L135.8,173.2 L136.1,173.6 L136.4,174.0 L136.7,174.4 L137.0,174.8 L137.3,175.2 L137.6,175.6 L137.9,176.0 L138.1,176.4 L138.4,176.9 L138.7,177.3 L139.0,177.7 L139.3,178.1 L139.6,178.5 L139.8,178.9 L140.1,179.3 L140.4,179.8 L140.6,180.2 L140.9,180.6 L141.1,181.1 L141.4,181.5 L141.6,181.9 L141.9,182.4 L142.1,182.8 L142.3,183.2 L142.6,183.7 L142.8,184.1 L143.1,184.6 L143.3,185.0 L143.6,185.4 L143.8,185.9 L144.1,186.3 L144.3,186.7 L144.6,187.2 L144.8,187.6 L145.1,188.0 L145.3,188.5 L145.6,188.9 L145.8,189.3 L146.1,189.8 L146.3,190.2 L146.6,190.6 L146.8,191.0 L147.1,191.5 L147.4,191.9 L147.6,192.3 L147.9,192.7 L148.2,193.2 L148.5,193.6 L148.7,194.0 L149.0,194.4 L149.3,194.8 L149.6,195.2 L149.9,195.6 L150.2,196.0 L150.5,196.4 L150.8,196.8 L151.0,197.3 L151.3,197.7 L151.6,198.1 L151.9,198.5 L152.2,198.9 L152.6,199.3 L152.9,199.7 L153.2,200.0 L153.5,200.4 L153.8,200.8 L154.2,201.2 L154.5,201.5 L154.9,201.9 L155.2,202.2 L155.6,202.6 L156.0,202.9 L156.3,203.2 L156.7,203.6 L157.1,203.9 L157.5,204.2 L157.9,204.5 L158.3,204.7 L158.8,205.0 L159.2,205.3 L159.6,205.5 L160.1,205.8 L160.5,206.0 L161.0,206.2 L161.4,206.4 L161.9,206.6 L162.4,206.8 L162.8,206.9 L163.3,207.1 L163.8,207.2 L164.3,207.3 L164.8,207.4 L165.2,207.6 L165.7,207.6 L166.2,207.7 L166.7,207.8 L167.2,207.9 L167.7,208.0 L168.2,208.0 L168.7,208.1 L169.2,208.2 L169.7,208.3 L170.2,208.3 L170.7,208.4 L171.2,208.5 L171.7,208.5 L172.2,208.6 L172.7,208.6 L173.2,208.6 L173.7,208.6 L174.2,208.6 L174.7,208.6 L175.2,208.6 L175.7,208.6 L176.2,208.6 L176.7,208.6 L177.2,208.6 L177.7,208.5 L178.2,208.4 L178.7,208.2 L179.1,208.0 L179.6,207.8 L180.0,207.6 L180.4,207.3 L180.8,207.0 L181.2,206.6 L181.5,206.2 L181.8,205.8 L182.1,205.4 L182.3,205.0 L182.5,204.5 L182.7,204.1 L182.9,203.6 L183.0,203.1 L183.2,202.6 L183.3,202.1 L183.4,201.7 L183.5,201.2 L183.7,200.7 L183.8,200.2 L183.9,199.7 L184.0,199.2 L184.0,198.7 L184.1,198.2 L184.2,197.7 L184.3,197.2 L184.4,196.7 L184.4,196.2 L184.5,195.7 L184.6,195.3 L184.8,194.7 L184.9,194.2 L185.0,193.5 L185.2,192.9 L185.3,192.4 L185.5,192.1 L185.6,192.0 L185.8,192.2 L185.9,192.6 L186.1,193.2 L186.2,193.8 L186.4,194.4 L186.5,195.0 L186.6,195.5 L186.7,196.0 L186.8,196.4 L186.9,196.9 L186.9,197.4 L187.0,197.9 L187.1,198.4 L187.2,198.9 L187.2,199.4 L187.3,199.9 L187.4,200.4 L187.5,200.9 L187.6,201.4 L187.7,201.9 L187.8,202.4 L187.9,202.9 L188.0,203.4 L188.1,203.9 L188.2,204.4 L188.4,204.8 L188.5,205.3 L188.7,205.7 L188.9,206.2 L189.2,206.6 L189.6,207.0 L189.9,207.4 L190.2,207.7 L190.6,208.1 L191.0,208.4 L191.3,208.8 L191.8,209.1 L192.2,209.3 L192.6,209.5 L193.0,209.7 L193.5,209.9 L194.0,210.1 L194.4,210.2 L194.9,210.4 L195.4,210.5 L195.9,210.6 L196.4,210.7 L196.9,210.8 L197.4,210.9 L197.9,211.0 L198.4,211.1 L198.9,211.1 L199.4,211.2 L199.9,211.3 L200.4,211.3 L200.9,211.4 L201.4,211.4 L201.9,211.5 L202.4,211.5 L202.9,211.6 L203.4,211.6 L203.9,211.7 L204.4,211.7 L204.9,211.7 L205.4,211.8 L205.9,211.8 L206.4,211.9 L206.9,211.9 L207.4,211.9 L207.9,212.0 L208.4,212.0 L208.9,212.1 L209.4,212.1 L209.9,212.1 L210.4,212.2 L210.9,212.2 L211.4,212.3 L211.9,212.3 L212.4,212.3 L212.9,212.4 L213.4,212.4 L213.9,212.4 L214.4,212.4 L214.9,212.4 L215.4,212.5 L215.9,212.5 L216.4,212.5 L216.9,212.5 L217.4,212.5 L217.9,212.5 L218.3,212.4 L218.8,212.3 L219.3,212.2 L219.8,212.0 L220.3,211.9 L220.8,211.7 L221.3,211.6 L221.8,211.5 L222.2,211.4 L222.7,211.4 L223.2,211.5 L223.7,211.6 L224.2,211.7 L224.7,211.8 L225.2,212.0 L225.7,212.1 L226.1,212.3 L226.6,212.4 L227.1,212.4 L227.6,212.4 L228.1,212.5 L228.6,212.5 L229.1,212.5 L229.6,212.6 L230.1,212.6 L230.6,212.6 L231.1,212.7 L231.6,212.7 L232.1,212.7 L232.6,212.8 L233.1,212.8 L233.6,212.8 L234.1,212.8 L234.6,212.8 L235.1,212.9 L235.6,212.9 L236.1,212.9 L236.6,212.9 L237.1,212.9 L237.6,213.0 L238.1,213.0 L238.6,213.0 L239.1,213.0 L239.6,213.0 L240.1,213.0 L240.6,213.1 L241.1,213.1 L241.6,213.1 L242.1,213.1 L242.6,213.1 L243.1,213.1 L243.6,213.1 L244.1,213.1 L244.6,213.2 L245.1,213.2 L245.6,213.2 L246.1,213.2 L246.6,213.2 L247.1,213.2 L247.6,213.2 L248.1,213.2 L248.6,213.2 L249.1,213.2 L249.6,213.2 L250.1,213.3 L250.6,213.3 L251.1,213.3 L251.6,213.3 L252.1,213.3 L252.6,213.3 L253.1,213.3 L253.6,213.3 L254.1,213.3 L254.6,213.3 L255.1,213.3 L255.6,213.3 L256.1,213.3 L256.6,213.3 L257.1,213.3 L257.6,213.4 L258.1,213.4 L258.6,213.4 L259.1,213.4 L259.6,213.4 L260.1,213.4 L260.6,213.4 L261.1,213.4 L261.6,213.4 L262.1,213.4 L262.6,213.4 L263.1,213.4 L263.6,213.4 L264.1,213.4 L264.6,213.4 L265.1,213.4 L265.6,213.4 L266.1,213.4 L266.6,213.4 L267.1,213.4 L267.6,213.4 L268.1,213.4 L268.6,213.5 L269.1,213.5 L269.6,213.5 L270.1,213.5 L270.6,213.5 L271.1,213.5 L271.6,213.5 L272.1,213.5 L272.6,213.5 L273.1,213.5 L273.6,213.5 L274.1,213.5 L274.6,213.5 L275.1,213.5 L275.6,213.5 L276.1,213.5 L276.6,213.5 L277.1,213.5 L277.6,213.5 L278.1,213.5 L278.6,213.5 L279.1,213.5 L279.6,213.5 L280.1,213.5 L280.6,213.5 L281.1,213.5 L281.6,213.5 L282.1,213.6 L282.6,213.6 L283.1,213.6 L283.6,213.6 L284.1,213.6 L284.6,213.6 L285.1,213.6 L285.6,213.6 L286.1,213.6 L286.6,213.6 L287.1,213.6 L287.6,213.6 L288.1,213.6 L288.6,213.6 L289.1,213.6 L289.6,213.6 L290.1,213.6 L290.6,213.6 L291.1,213.6 L291.6,213.6 L292.1,213.6 L292.6,213.6 L293.1,213.6 L293.6,213.6 L294.1,213.6 L294.6,213.6 L295.1,213.6 L295.6,213.6 L296.1,213.7 L296.6,213.7 L297.1,213.7 L297.6,213.7 L298.1,213.7 L298.6,213.7 L299.1,213.7 L299.6,213.7 L300.1,213.7 L300.6,213.7 L301.1,213.7 L301.6,213.7 L302.1,213.7 L302.6,213.7 L303.1,213.7 L303.6,213.7 L304.1,213.7 L304.6,213.7 L305.1,213.7 L305.6,213.7 L306.1,213.7 L306.6,213.7 L307.1,213.7 L307.6,213.7 L308.1,213.7 L308.6,213.7 L309.1,213.7 L309.6,213.7 L310.1,213.7 L310.6,213.7 L311.1,213.7 L311.6,213.7 L312.1,213.7 L312.6,213.7 L313.1,213.7 L313.6,213.8 L314.1,213.8 L314.6,213.8 L315.1,213.8 L315.6,213.8 L316.1,213.8 L316.6,213.8 L317.1,213.8 L317.6,213.8 L318.1,213.8 L318.6,213.8 L319.1,213.8 L319.6,213.8 L320.1,213.8 L320.6,213.8 L321.1,213.8 L321.6,213.8 L322.1,213.8 L322.6,213.8 L323.1,213.8 L323.6,213.8 L324.1,213.8 L324.6,213.8 L325.1,213.8 L325.6,213.8 L326.0,213.8" stroke="#000" stroke-width="1.5"/>
<path d="M23.5,124.7 L24.0,124.7 L24.5,124.7 L25.0,124.7 L25.5,124.7 L26.0,124.7 L26.5,124.7 L27.0,124.7 L27.5,124.7 L28.0,124.7 L28.5,124.7 L29.0,124.7 L29.5,124.7 L30.0,124.7 L30.5,124.7 L31.0,124.7 L31.5,124.7 L32.0,124.7 L32.5,124.7 L33.0,124.7 L33.5,124.7 L34.0,124.7 L34.5,124.7 L35.0,124.7 L35.5,124.7 L36.0,124.7 L36.5,124.7 L37.0,124.7 L37.5,124.7 L38.0,124.7 L38.5,124.7 L39.0,124.7 L39.5,124.7 L40.0,124.6 L40.5,124.6 L41.0,124.5 L41.5,124.4 L42.0,124.3 L42.5,124.2 L43.0,124.1 L43.5,123.9 L44.0,123.8 L44.4,123.7 L44.9,123.5 L45.4,123.4 L45.9,123.3 L46.3,123.1 L46.8,122.9 L47.2,122.7 L47.7,122.5 L48.2,122.3 L48.6,122.0 L49.1,121.8 L49.5,121.5 L49.9,121.2 L50.3,121.0 L50.7,120.7 L51.1,120.4 L51.5,120.1 L51.9,119.8 L52.2,119.4 L52.6,119.0 L52.9,118.7 L53.3,118.3 L53.6,117.9 L53.9,117.5 L54.3,117.1 L54.6,116.8 L54.9,116.4 L55.2,115.9 L55.4,115.5 L55.7,115.1 L55.8,114.6 L56.0,114.2 L56.1,113.7 L56.3,113.2 L56.4,112.7 L56.5,112.2 L56.6,111.7 L56.7,111.2 L56.8,110.7 L56.9,110.2 L57.1,109.8 L57.2,109.3 L57.3,108.8 L57.4,108.3 L57.6,107.8 L57.7,107.3 L57.8,106.9 L57.9,106.4 L58.0,105.9 L58.2,105.4 L58.3,104.9 L58.4,104.4 L58.5,103.9 L58.6,103.5 L58.7,103.0 L58.8,102.5 L59.0,102.0 L59.1,101.5 L59.2,101.0 L59.3,100.5 L59.4,100.0 L59.5,99.5 L59.6,99.1 L59.7,98.6 L59.8,98.1 L59.9,97.6 L60.0,97.1 L60.1,96.6 L60.2,96.1 L60.3,95.6 L60.5,95.2 L60.6,94.7 L60.7,94.2 L60.8,93.7 L60.9,93.2 L61.1,92.7 L61.2,92.2 L61.3,91.8 L61.5,91.3 L61.6,90.8 L61.7,90.3 L61.8,89.8 L62.0,89.3 L62.1,88.9 L62.2,88.4 L62.3,87.9 L62.4,87.4 L62.5,86.9 L62.7,86.4 L62.8,85.9 L62.9,85.4 L63.0,85.0 L63.1,84.5 L63.2,84.0 L63.3,83.5 L63.4,83.0 L63.5,82.5 L63.6,82.0 L63.7,81.5 L63.8,81.0 L63.9,80.6 L64.0,80.1 L64.1,79.6 L64.2,79.1 L64.3,78.6 L64.4,78.1 L64.5,77.6 L64.6,77.1 L64.7,76.6 L64.8,76.2 L64.9,75.7 L65.0,75.2 L65.1,74.7 L65.3,74.2 L65.4,73.7 L65.5,73.2 L65.6,72.7 L65.7,72.2 L65.8,71.8 L65.9,71.3 L66.0,70.8 L66.1,70.3 L66.2,69.8 L66.3,69.3 L66.4,68.8 L66.5,68.3 L66.6,67.8 L66.7,67.3 L66.8,66.9 L66.9,66.4 L67.0,65.9 L67.1,65.4 L67.2,64.9 L67.3,64.4 L67.4,63.9 L67.5,63.4 L67.6,62.9 L67.7,62.4 L67.8,62.0 L67.9,61.5 L68.0,61.0 L68.1,60.5 L68.2,60.0 L68.3,59.5 L68.4,59.0 L68.4,58.5 L68.5,58.0 L68.6,57.5 L68.7,57.0 L68.8,56.6 L68.9,56.1 L69.0,55.6 L69.1,55.1 L69.1,54.6 L69.2,54.1 L69.3,53.6 L69.4,53.1 L69.5,52.6 L69.6,52.1 L69.6,51.6 L69.7,51.1 L69.8,50.6 L69.9,50.1 L70.0,49.6 L70.0,49.2 L70.1,48.7 L70.2,48.2 L70.3,47.7 L70.4,47.2 L70.4,46.7 L70.5,46.2 L70.6,45.7 L70.7,45.2 L70.7,44.7 L70.8,44.2 L70.9,43.7 L71.0,43.2 L71.1,42.7 L71.2,42.2 L71.3,41.8 L71.3,41.3 L71.4,40.8 L71.5,40.3 L71.6,39.8 L71.7,39.3 L71.8,38.8 L71.9,38.3 L72.0,37.8 L72.1,37.3 L72.2,36.9 L72.3,36.4 L72.4,35.9 L72.6,35.4 L72.7,34.9 L72.8,34.4 L72.9,33.9 L73.0,33.4 L73.1,33.0 L73.2,32.5 L73.3,32.0 L73.5,31.5 L73.6,31.0 L73.7,30.5 L73.8,30.0 L73.9,29.5 L74.0,29.1 L74.1,28.6 L74.2,28.1 L74.4,27.6 L74.5,27.1 L74.6,26.6 L74.7,26.1 L74.8,25.6 L74.9,25.1 L75.0,24.7 L75.2,24.2 L75.3,23.7 L75.4,23.2 L75.6,22.7 L75.7,22.3 L75.9,21.8 L76.0,21.3 L76.2,20.8 L76.3,20.4 L76.5,19.9 L76.7,19.4 L76.8,18.9 L77.0,18.5 L77.2,18.0 L77.4,17.5 L77.6,17.1 L77.8,16.6 L78.0,16.1 L78.2,15.7 L78.4,15.2 L78.6,14.8 L78.8,14.3 L79.1,13.9 L79.3,13.4 L79.6,13.0 L79.9,12.6 L80.2,12.2 L80.5,11.9 L80.9,11.5 L81.4,11.2 L81.8,11.0 L82.3,11.0 L82.7,11.2 L83.2,11.5 L83.6,11.8 L84.0,12.2 L84.3,12.5 L84.6,12.9 L84.9,13.3 L85.1,13.8 L85.4,14.2 L85.6,14.7 L85.9,15.1 L86.1,15.6 L86.3,16.0 L86.5,16.5 L86.7,16.9 L86.9,17.4 L87.0,17.8 L87.2,18.3 L87.4,18.8 L87.6,19.3 L87.7,19.7 L87.9,20.2 L88.0,20.7 L88.2,21.2 L88.4,21.6 L88.5,22.1 L88.7,22.6 L88.9,23.1 L89.0,23.5 L89.2,24.0 L89.3,24.5 L89.5,25.0 L89.7,25.4 L89.8,25.9 L90.0,26.4 L90.1,26.9 L90.3,27.3 L90.4,27.8 L90.6,28.3 L90.7,28.8 L90.9,29.2 L91.0,29.7 L91.2,30.2 L91.3,30.7 L91.5,31.1 L91.6,31.6 L91.8,32.1 L91.9,32.6 L92.1,33.1 L92.2,33.5 L92.4,34.0 L92.5,34.5 L92.7,35.0 L92.8,35.4 L93.0,35.9 L93.1,36.4 L93.3,36.9 L93.4,37.4 L93.5,37.8 L93.7,38.3 L93.8,38.8 L94.0,39.3 L94.1,39.8 L94.3,40.2 L94.4,40.7 L94.5,41.2 L94.7,41.7 L94.8,42.2 L94.9,42.6 L95.1,43.1 L95.2,43.6 L95.4,44.1 L95.5,44.5 L95.7,45.0 L95.9,45.5 L96.0,46.0 L96.2,46.4 L96.4,46.9 L96.6,47.4 L96.8,47.8 L97.0,48.3 L97.2,48.7 L97.4,49.2 L97.6,49.7 L97.8,50.1 L98.0,50.6 L98.2,51.0 L98.3,51.5 L98.5,52.0 L98.7,52.4 L98.9,52.9 L99.1,53.4 L99.3,53.8 L99.5,54.3 L99.7,54.7 L99.9,55.2 L100.0,55.7 L100.2,56.1 L100.4,56.6 L100.6,57.1 L100.8,57.5 L101.0,58.0 L101.2,58.5 L101.4,58.9 L101.6,59.4 L101.8,59.8 L102.0,60.3 L102.2,60.7 L102.4,61.2 L102.7,61.6 L102.9,62.1 L103.1,62.5 L103.4,62.9 L103.6,63.4 L103.9,63.8 L104.1,64.2 L104.4,64.7 L104.7,65.1 L104.9,65.5 L105.2,65.9 L105.5,66.3 L105.8,66.7 L106.1,67.1 L106.4,67.5 L106.7,67.9 L107.1,68.3 L107.4,68.7 L107.7,69.0 L108.1,69.4 L108.4,69.8 L108.8,70.1 L109.2,70.4 L109.5,70.8 L109.9,71.1 L110.3,71.4 L110.7,71.8 L111.1,72.1 L111.5,72.4 L111.9,72.7 L112.3,72.9 L112.7,73.2 L113.2,73.4 L113.6,73.6 L114.1,73.8 L114.5,74.0 L115.0,74.2 L115.5,74.3 L116.0,74.5 L116.5,74.6 L116.9,74.8 L117.4,74.9 L117.9,75.0 L118.4,75.1 L118.9,75.1 L119.4,75.2 L119.9,75.3 L120.4,75.4 L120.9,75.4 L121.4,75.5 L121.9,75.5 L122.4,75.6 L122.9,75.7 L123.4,75.8 L123.9,75.9 L124.4,76.0 L124.8,76.1 L125.3,76.2 L125.8,76.3 L126.3,76.5 L126.7,76.7 L127.2,76.9 L127.6,77.2 L128.0,77.5 L128.4,77.8 L128.8,78.0 L129.2,78.4 L129.6,78.7 L130.0,79.0 L130.3,79.4 L130.7,79.7 L131.1,80.1 L131.4,80.4 L131.8,80.8 L132.1,81.1 L132.5,81.5 L132.8,81.8 L133.2,82.2 L133.5,82.5 L133.9,82.9 L134.2,83.3 L134.6,83.6 L135.0,84.0 L135.3,84.3 L135.7,84.6 L136.1,85.0 L136.4,85.3 L136.8,85.6 L137.2,86.0 L137.6,86.3 L137.9,86.6 L138.3,87.0 L138.7,87.3 L139.1,87.6 L139.4,88.0 L139.8,88.3 L140.2,88.6 L140.5,89.0 L140.9,89.3 L141.2,89.7 L141.6,90.0 L142.0,90.4 L142.3,90.7 L142.7,91.1 L143.1,91.4 L143.4,91.8 L143.8,92.1 L144.1,92.5 L144.5,92.8 L144.8,93.2 L145.2,93.5 L145.5,93.9 L145.8,94.3 L146.2,94.6 L146.5,95.0 L146.8,95.4 L147.2,95.8 L147.5,96.2 L147.8,96.5 L148.1,96.9 L148.4,97.3 L148.7,97.7 L149.0,98.1 L149.3,98.5 L149.6,98.9 L149.9,99.3 L150.2,99.7 L150.5,100.1 L150.8,100.5 L151.2,100.9 L151.5,101.3 L151.8,101.7 L152.1,102.1 L152.4,102.5 L152.7,102.9 L153.0,103.3 L153.3,103.7 L153.6,104.1 L153.9,104.5 L154.2,104.9 L154.5,105.2 L154.8,105.6 L155.2,106.0 L155.5,106.4 L155.8,106.8 L156.1,107.2 L156.4,107.6 L156.7,108.0 L157.1,108.4 L157.4,108.7 L157.7,109.1 L158.0,109.5 L158.4,109.9 L158.7,110.2 L159.0,110.6 L159.4,111.0 L159.7,111.3 L160.1,111.7 L160.4,112.1 L160.7,112.4 L161.1,112.8 L161.4,113.2 L161.8,113.5 L162.1,113.9 L162.5,114.2 L162.9,114.5 L163.3,114.9 L163.6,115.2 L164.0,115.5 L164.4,115.8 L164.8,116.1 L165.2,116.4 L165.6,116.7 L166.0,117.1 L166.4,117.4 L166.8,117.7 L167.2,118.0 L167.6,118.3 L168.0,118.5 L168.4,118.8 L168.9,119.0 L169.3,119.2 L169.8,119.4 L170.3,119.6 L170.7,119.8 L171.2,120.0 L171.7,120.1 L172.1,120.3 L172.6,120.5 L173.1,120.6 L173.6,120.7 L174.1,120.9 L174.6,120.9 L175.1,121.0 L175.6,121.1 L176.1,121.2 L176.6,121.2 L177.1,121.3 L177.6,121.3 L178.0,121.3 L178.4,121.1 L178.9,120.9 L179.3,120.6 L179.7,120.2 L180.1,119.8 L180.5,119.3 L180.8,118.9 L181.0,118.5 L181.2,118.1 L181.4,117.7 L181.6,117.2 L181.8,116.8 L181.9,116.3 L182.1,115.8 L182.2,115.3 L182.3,114.8 L182.5,114.3 L182.6,113.8 L182.7,113.3 L182.8,112.8 L182.9,112.3 L183.0,111.8 L183.2,111.3 L183.2,110.8 L183.3,110.3 L183.4,109.8 L183.5,109.3 L183.6,108.8 L183.7,108.3 L183.7,107.8 L183.8,107.3 L183.9,106.8 L184.0,106.3 L184.1,105.9 L184.2,105.4 L184.3,104.9 L184.4,104.4 L184.5,103.9 L184.7,103.4 L184.9,102.8 L185.1,102.2 L185.3,101.8 L185.5,101.5 L185.7,101.6 L186.0,101.9 L186.2,102.4 L186.4,103.0 L186.6,103.6 L186.7,104.1 L186.8,104.6 L186.9,105.1 L187.0,105.5 L187.1,106.0 L187.2,106.5 L187.3,107.0 L187.3,107.5 L187.4,108.0 L187.5,108.5 L187.5,109.0 L187.6,109.5 L187.7,110.0 L187.7,110.5 L187.8,111.0 L187.9,111.5 L188.0,112.0 L188.1,112.5 L188.2,113.0 L188.3,113.5 L188.5,114.0 L188.6,114.5 L188.7,115.0 L188.9,115.5 L189.0,115.9 L189.2,116.4 L189.3,116.9 L189.5,117.4 L189.7,117.8 L189.9,118.2 L190.1,118.7 L190.3,119.1 L190.6,119.6 L190.9,120.0 L191.3,120.4 L191.6,120.7 L192.0,121.0 L192.4,121.2 L192.8,121.5 L193.2,121.7 L193.7,121.9 L194.2,122.1 L194.7,122.2 L195.2,122.4 L195.7,122.5 L196.2,122.7 L196.7,122.8 L197.1,122.9 L197.6,123.1 L198.1,123.2 L198.6,123.3 L199.1,123.3 L199.6,123.4 L200.1,123.5 L200.6,123.6 L201.1,123.7 L201.6,123.8 L202.1,123.9 L202.6,123.9 L203.1,124.0 L203.6,124.1 L204.1,124.1 L204.5,124.2 L205.0,124.2 L205.5,124.2 L206.0,124.2 L206.5,124.3 L207.0,124.3 L207.5,124.3 L208.0,124.3 L208.5,124.3 L209.0,124.4 L209.5,124.4 L210.0,124.4 L210.5,124.4 L211.0,124.4 L211.5,124.4 L212.0,124.4 L212.5,124.5 L213.0,124.5 L213.5,124.5 L214.0,124.5 L214.5,124.5 L215.0,124.5 L215.5,124.5 L216.0,124.5 L216.5,124.5 L217.0,124.5 L217.5,124.5 L218.0,124.5 L218.5,124.5 L219.0,124.4 L219.5,124.4 L220.0,124.4 L220.5,124.4 L221.0,124.3 L221.5,124.3 L222.0,124.3 L222.5,124.3 L223.0,124.3 L223.5,124.3 L224.0,124.4 L224.5,124.5 L225.0,124.5 L225.5,124.6 L226.0,124.6 L226.5,124.7 L227.0,124.7 L227.5,124.7 L228.0,124.7 L228.5,124.7 L229.0,124.8 L229.5,124.8 L230.0,124.8 L230.5,124.8 L231.0,124.8 L231.5,124.8 L232.0,124.8 L232.5,124.8 L233.0,124.8 L233.5,124.8 L234.0,124.8 L234.5,124.8 L235.0,124.9 L235.5,124.9 L236.0,124.9 L236.5,124.9 L237.0,124.9 L237.5,124.9 L238.0,124.9 L238.5,124.9 L239.0,124.9 L239.5,124.9 L240.0,124.9 L240.5,124.9 L241.0,124.9 L241.5,124.9 L242.0,124.9 L242.5,124.9 L243.0,124.9 L243.5,124.9 L244.0,124.9 L244.5,124.9 L245.0,124.9 L245.5,125.0 L246.0,125.0 L246.5,125.0 L247.0,125.0 L247.5,125.0 L248.0,125.0 L248.5,125.0 L249.0,125.0 L249.5,125.0 L250.0,125.0 L250.5,125.0 L251.0,125.0 L251.5,125.0 L252.0,125.0 L252.5,125.0 L253.0,125.0 L253.5,125.0 L254.0,125.1 L254.5,125.1 L255.0,125.1 L255.5,125.1 L256.0,125.1 L256.5,125.1 L257.0,125.1 L257.5,125.1 L258.0,125.1 L258.5,125.1 L259.0,125.1 L259.5,125.1 L260.0,125.1 L260.5,125.1 L261.0,125.1 L261.5,125.2 L262.0,125.2 L262.5,125.2 L263.0,125.2 L263.5,125.2 L264.0,125.2 L264.5,125.2 L265.0,125.2 L265.5,125.2 L266.0,125.2 L266.5,125.2 L267.0,125.2 L267.5,125.2 L268.0,125.2 L268.5,125.2 L269.0,125.2 L269.5,125.3 L270.0,125.3 L270.5,125.3 L271.0,125.3 L271.5,125.3 L272.0,125.3 L272.5,125.3 L273.0,125.3 L273.5,125.3 L274.0,125.3 L274.5,125.3 L275.0,125.3 L275.5,125.3 L276.0,125.3 L276.5,125.3 L277.0,125.3 L277.5,125.3 L278.0,125.3 L278.5,125.3 L279.0,125.3 L279.5,125.3 L280.0,125.3 L280.5,125.3 L281.0,125.3 L281.5,125.3 L282.0,125.3 L282.5,125.3 L283.0,125.3 L283.5,125.4 L284.0,125.4 L284.5,125.4 L285.0,125.4 L285.5,125.4 L286.0,125.4 L286.5,125.4 L287.0,125.4 L287.5,125.4 L288.0,125.4 L288.5,125.4 L289.0,125.4 L289.5,125.4 L290.0,125.4 L290.5,125.4 L291.0,125.4 L291.5,125.4 L292.0,125.4 L292.5,125.4 L293.0,125.4 L293.5,125.4 L294.0,125.4 L294.5,125.4 L295.0,125.4 L295.5,125.4 L296.0,125.4 L296.5,125.4 L297.0,125.4 L297.5,125.4 L298.0,125.4 L298.5,125.4 L299.0,125.4 L299.5,125.4 L300.0,125.4 L300.5,125.4 L301.0,125.4 L301.5,125.4 L302.0,125.4 L302.5,125.4 L303.0,125.5 L303.5,125.5 L304.0,125.5 L304.5,125.5 L305.0,125.5 L305.5,125.5 L306.0,125.5 L306.5,125.5 L307.0,125.5 L307.5,125.5 L308.0,125.5 L308.5,125.5 L309.0,125.5 L309.5,125.5 L310.0,125.5 L310.5,125.5 L311.0,125.5 L311.5,125.5 L312.0,125.5 L312.5,125.5 L313.0,125.5 L313.5,125.5 L314.0,125.5 L314.5,125.5 L315.0,125.5 L315.5,125.5 L316.0,125.5 L316.5,125.5 L317.0,125.5 L317.5,125.5 L318.0,125.5 L318.5,125.5 L319.0,125.5 L319.5,125.5 L320.0,125.5 L320.5,125.5 L321.0,125.5 L321.5,125.5 L322.0,125.5 L322.5,125.5 L323.0,125.5 L323.5,125.5 L324.0,125.5 L324.5,125.5 L325.0,125.5 L325.5,125.5 L326.0,125.5" stroke="#0a0af2" stroke-width="1.5" stroke-dasharray="1.05 0.9"/>
<path d="M23.5,136.9 L24.0,136.9 L24.5,136.9 L25.1,136.9 L25.6,136.9 L26.1,136.9 L26.6,136.9 L27.1,136.9 L27.6,136.9 L28.1,136.9 L28.6,136.9 L29.1,136.9 L29.6,136.9 L30.1,136.9 L30.6,136.9 L31.1,136.9 L31.6,136.9 L32.1,136.9 L32.6,136.9 L33.1,136.9 L33.6,136.9 L34.1,136.9 L34.6,136.9 L35.1,136.9 L35.6,136.9 L36.1,136.9 L36.6,136.9 L37.1,136.9 L37.6,136.9 L38.1,136.9 L38.5,136.9 L39.0,136.9 L39.5,136.9 L40.0,136.9 L40.5,136.9 L41.0,136.8 L41.5,136.7 L41.9,136.6 L42.4,136.4 L42.9,136.3 L43.4,136.1 L43.9,135.9 L44.3,135.6 L44.8,135.4 L45.2,135.2 L45.7,135.0 L46.1,134.8 L46.6,134.6 L47.0,134.3 L47.4,134.0 L47.9,133.8 L48.3,133.5 L48.7,133.2 L49.1,132.8 L49.5,132.5 L49.9,132.2 L50.2,131.9 L50.6,131.5 L50.9,131.2 L51.3,130.8 L51.6,130.4 L51.9,130.1 L52.2,129.7 L52.5,129.3 L52.8,128.8 L53.1,128.4 L53.4,128.0 L53.7,127.6 L53.9,127.1 L54.2,126.7 L54.4,126.3 L54.6,125.8 L54.8,125.4 L55.0,124.9 L55.2,124.4 L55.3,124.0 L55.5,123.5 L55.7,123.0 L55.8,122.5 L56.0,122.0 L56.1,121.6 L56.3,121.1 L56.4,120.6 L56.6,120.1 L56.7,119.7 L56.9,119.2 L57.0,118.7 L57.1,118.2 L57.3,117.7 L57.4,117.2 L57.5,116.8 L57.6,116.3 L57.7,115.8 L57.8,115.3 L57.9,114.8 L58.0,114.3 L58.1,113.8 L58.2,113.3 L58.3,112.8 L58.3,112.3 L58.4,111.8 L58.5,111.4 L58.6,110.9 L58.7,110.4 L58.8,109.9 L59.0,109.4 L59.1,108.9 L59.2,108.4 L59.3,107.9 L59.4,107.5 L59.5,107.0 L59.6,106.5 L59.7,106.0 L59.8,105.5 L59.9,105.0 L60.0,104.5 L60.1,104.0 L60.2,103.5 L60.3,103.0 L60.4,102.6 L60.5,102.1 L60.6,101.6 L60.7,101.1 L60.8,100.6 L60.9,100.1 L61.0,99.6 L61.1,99.1 L61.2,98.6 L61.3,98.1 L61.4,97.7 L61.5,97.2 L61.6,96.7 L61.7,96.2 L61.8,95.7 L61.9,95.2 L62.0,94.7 L62.1,94.2 L62.2,93.7 L62.3,93.2 L62.4,92.8 L62.6,92.3 L62.7,91.8 L62.8,91.3 L62.9,90.8 L63.0,90.3 L63.1,89.8 L63.3,89.4 L63.4,88.9 L63.5,88.4 L63.7,87.9 L63.8,87.4 L64.0,87.0 L64.1,86.5 L64.2,86.0 L64.4,85.5 L64.5,85.0 L64.6,84.5 L64.7,84.1 L64.9,83.6 L65.0,83.1 L65.1,82.6 L65.2,82.1 L65.4,81.6 L65.5,81.1 L65.6,80.7 L65.7,80.2 L65.8,79.7 L65.8,79.2 L65.9,78.7 L66.0,78.2 L66.1,77.7 L66.2,77.2 L66.2,76.7 L66.3,76.2 L66.4,75.7 L66.4,75.2 L66.5,74.7 L66.6,74.2 L66.6,73.7 L66.7,73.2 L66.8,72.8 L66.9,72.3 L66.9,71.8 L67.0,71.3 L67.1,70.8 L67.2,70.3 L67.3,69.8 L67.3,69.3 L67.4,68.8 L67.5,68.3 L67.6,67.8 L67.7,67.3 L67.8,66.8 L67.9,66.4 L68.0,65.9 L68.1,65.4 L68.2,64.9 L68.3,64.4 L68.4,63.9 L68.5,63.4 L68.6,62.9 L68.7,62.4 L68.8,61.9 L68.9,61.5 L69.0,61.0 L69.1,60.5 L69.2,60.0 L69.3,59.5 L69.4,59.0 L69.4,58.5 L69.5,58.0 L69.6,57.5 L69.7,57.0 L69.8,56.5 L69.8,56.0 L69.9,55.5 L70.0,55.0 L70.1,54.6 L70.2,54.1 L70.2,53.6 L70.3,53.1 L70.4,52.6 L70.5,52.1 L70.6,51.6 L70.6,51.1 L70.7,50.6 L70.8,50.1 L70.9,49.6 L71.0,49.1 L71.0,48.6 L71.1,48.1 L71.2,47.6 L71.3,47.1 L71.4,46.6 L71.4,46.2 L71.5,45.7 L71.7,45.2 L71.8,44.7 L71.9,44.2 L72.1,43.7 L72.2,43.3 L72.4,42.8 L72.6,42.3 L72.8,41.9 L73.0,41.4 L73.2,40.9 L73.4,40.5 L73.6,40.0 L73.8,39.6 L74.0,39.1 L74.2,38.7 L74.4,38.2 L74.6,37.8 L74.9,37.3 L75.1,36.9 L75.4,36.4 L75.6,36.0 L75.9,35.6 L76.2,35.1 L76.5,34.7 L76.8,34.3 L77.1,33.9 L77.5,33.6 L77.9,33.4 L78.3,33.2 L78.8,33.1 L79.3,33.0 L79.8,33.1 L80.3,33.2 L80.8,33.4 L81.2,33.6 L81.6,33.9 L82.0,34.2 L82.4,34.6 L82.8,34.9 L83.1,35.3 L83.4,35.7 L83.6,36.1 L83.9,36.5 L84.2,37.0 L84.4,37.4 L84.7,37.8 L84.9,38.3 L85.1,38.8 L85.3,39.2 L85.5,39.7 L85.7,40.1 L85.9,40.6 L86.1,41.1 L86.3,41.5 L86.4,42.0 L86.6,42.5 L86.7,43.0 L86.9,43.4 L87.1,43.9 L87.2,44.4 L87.4,44.9 L87.5,45.3 L87.7,45.8 L87.8,46.3 L87.9,46.8 L88.1,47.3 L88.2,47.7 L88.4,48.2 L88.5,48.7 L88.6,49.2 L88.8,49.7 L88.9,50.2 L89.1,50.6 L89.2,51.1 L89.3,51.6 L89.5,52.1 L89.6,52.5 L89.8,53.0 L90.0,53.5 L90.1,54.0 L90.3,54.4 L90.5,54.9 L90.6,55.4 L90.8,55.8 L91.0,56.3 L91.2,56.8 L91.4,57.2 L91.6,57.7 L91.8,58.2 L91.9,58.6 L92.1,59.1 L92.3,59.6 L92.6,60.0 L92.8,60.5 L93.0,60.9 L93.2,61.4 L93.4,61.8 L93.6,62.3 L93.8,62.7 L94.1,63.2 L94.3,63.6 L94.5,64.0 L94.8,64.5 L95.0,64.9 L95.3,65.3 L95.5,65.8 L95.8,66.2 L96.1,66.6 L96.3,67.0 L96.6,67.4 L96.9,67.9 L97.2,68.3 L97.5,68.7 L97.8,69.1 L98.1,69.5 L98.4,69.9 L98.7,70.3 L99.0,70.7 L99.3,71.1 L99.6,71.5 L99.9,71.9 L100.2,72.3 L100.5,72.7 L100.8,73.1 L101.1,73.5 L101.4,73.8 L101.8,74.2 L102.1,74.6 L102.4,75.0 L102.8,75.3 L103.1,75.7 L103.4,76.1 L103.8,76.4 L104.1,76.8 L104.4,77.2 L104.8,77.6 L105.1,77.9 L105.4,78.3 L105.8,78.7 L106.1,79.1 L106.4,79.5 L106.7,79.9 L107.0,80.2 L107.4,80.6 L107.7,81.0 L108.0,81.4 L108.4,81.8 L108.7,82.1 L109.1,82.4 L109.4,82.8 L109.8,83.1 L110.2,83.4 L110.6,83.7 L111.0,84.0 L111.4,84.3 L111.8,84.6 L112.3,84.8 L112.7,85.1 L113.1,85.3 L113.5,85.6 L114.0,85.8 L114.4,86.1 L114.9,86.3 L115.3,86.5 L115.8,86.8 L116.2,87.0 L116.7,87.2 L117.1,87.4 L117.6,87.6 L118.1,87.8 L118.5,88.0 L119.0,88.2 L119.5,88.4 L119.9,88.6 L120.4,88.7 L120.9,88.9 L121.3,89.1 L121.8,89.2 L122.3,89.3 L122.8,89.5 L123.3,89.6 L123.8,89.8 L124.2,89.9 L124.7,90.1 L125.1,90.4 L125.5,90.6 L125.9,91.0 L126.3,91.3 L126.6,91.7 L127.0,92.0 L127.4,92.3 L127.8,92.6 L128.2,93.0 L128.6,93.3 L128.9,93.6 L129.3,93.9 L129.7,94.2 L130.1,94.5 L130.5,94.8 L130.9,95.2 L131.2,95.5 L131.6,95.9 L132.0,96.2 L132.3,96.6 L132.7,96.9 L133.0,97.3 L133.4,97.6 L133.7,98.0 L134.1,98.4 L134.4,98.7 L134.8,99.1 L135.1,99.4 L135.5,99.8 L135.8,100.1 L136.2,100.5 L136.5,100.8 L136.9,101.2 L137.2,101.5 L137.6,101.9 L137.9,102.2 L138.3,102.6 L138.7,102.9 L139.0,103.3 L139.4,103.6 L139.7,104.0 L140.1,104.3 L140.5,104.7 L140.8,105.0 L141.2,105.3 L141.6,105.7 L142.0,106.0 L142.4,106.3 L142.7,106.6 L143.1,106.9 L143.5,107.3 L143.9,107.6 L144.2,107.9 L144.6,108.3 L144.9,108.7 L145.3,109.0 L145.6,109.4 L145.9,109.8 L146.2,110.2 L146.5,110.6 L146.9,111.0 L147.2,111.4 L147.5,111.7 L147.8,112.1 L148.1,112.5 L148.4,112.9 L148.7,113.3 L149.1,113.7 L149.4,114.1 L149.7,114.5 L150.0,114.8 L150.3,115.2 L150.7,115.6 L151.0,116.0 L151.3,116.4 L151.6,116.8 L151.9,117.1 L152.3,117.5 L152.6,117.9 L152.9,118.3 L153.2,118.7 L153.5,119.1 L153.9,119.5 L154.2,119.8 L154.5,120.2 L154.8,120.6 L155.1,121.0 L155.5,121.4 L155.8,121.8 L156.1,122.1 L156.4,122.5 L156.8,122.9 L157.1,123.2 L157.5,123.6 L157.8,124.0 L158.1,124.3 L158.5,124.7 L158.8,125.1 L159.2,125.4 L159.6,125.7 L159.9,126.1 L160.3,126.4 L160.7,126.8 L161.0,127.1 L161.4,127.4 L161.8,127.7 L162.2,128.1 L162.6,128.4 L163.0,128.7 L163.4,129.0 L163.8,129.3 L164.2,129.5 L164.6,129.8 L165.0,130.1 L165.5,130.4 L165.9,130.6 L166.3,130.9 L166.8,131.1 L167.2,131.3 L167.7,131.5 L168.1,131.7 L168.6,131.9 L169.1,132.1 L169.6,132.2 L170.0,132.4 L170.5,132.5 L171.0,132.7 L171.5,132.8 L171.9,133.0 L172.4,133.2 L172.9,133.3 L173.4,133.4 L173.9,133.5 L174.4,133.5 L174.9,133.6 L175.4,133.7 L175.9,133.7 L176.4,133.7 L176.9,133.7 L177.4,133.6 L177.9,133.4 L178.4,133.3 L178.8,133.1 L179.2,132.9 L179.6,132.6 L180.0,132.2 L180.3,131.8 L180.7,131.4 L181.0,131.1 L181.2,130.6 L181.5,130.2 L181.7,129.8 L181.9,129.3 L182.2,128.8 L182.3,128.4 L182.5,127.9 L182.7,127.5 L182.9,127.0 L183.0,126.5 L183.2,126.0 L183.3,125.5 L183.4,125.0 L183.5,124.6 L183.6,124.1 L183.7,123.6 L183.8,123.1 L183.9,122.6 L184.0,122.1 L184.0,121.6 L184.1,121.1 L184.2,120.6 L184.2,120.1 L184.3,119.6 L184.4,119.1 L184.4,118.6 L184.5,118.1 L184.6,117.6 L184.7,117.1 L184.8,116.6 L184.9,116.0 L185.0,115.4 L185.1,114.8 L185.3,114.2 L185.4,113.7 L185.5,113.4 L185.7,113.2 L185.8,113.3 L186.0,113.6 L186.1,114.0 L186.3,114.5 L186.4,115.2 L186.6,115.8 L186.7,116.4 L186.8,117.0 L186.9,117.5 L187.0,117.9 L187.1,118.4 L187.1,118.9 L187.2,119.4 L187.3,119.9 L187.3,120.4 L187.4,120.9 L187.4,121.4 L187.5,121.9 L187.6,122.4 L187.6,122.9 L187.7,123.4 L187.8,123.9 L187.9,124.4 L188.0,124.9 L188.1,125.4 L188.2,125.9 L188.3,126.4 L188.4,126.9 L188.6,127.4 L188.7,127.9 L188.9,128.3 L189.0,128.8 L189.2,129.3 L189.4,129.8 L189.6,130.2 L189.8,130.6 L190.0,131.0 L190.3,131.4 L190.6,131.9 L190.9,132.3 L191.2,132.7 L191.6,133.1 L192.0,133.5 L192.4,133.8 L192.8,134.1 L193.2,134.4 L193.6,134.6 L194.1,134.7 L194.5,134.8 L195.0,134.9 L195.5,135.0 L196.0,135.1 L196.5,135.2 L197.0,135.3 L197.5,135.3 L198.0,135.4 L198.5,135.5 L199.0,135.5 L199.5,135.6 L200.0,135.6 L200.5,135.6 L201.0,135.7 L201.5,135.7 L202.0,135.7 L202.5,135.8 L203.0,135.8 L203.5,135.8 L204.0,135.9 L204.5,135.9 L205.0,135.9 L205.5,135.9 L206.0,135.9 L206.5,136.0 L207.0,136.0 L207.5,136.0 L208.0,136.0 L208.5,136.0 L209.0,136.0 L209.5,136.1 L210.0,136.1 L210.5,136.1 L211.0,136.1 L211.5,136.1 L212.0,136.1 L212.5,136.1 L213.0,136.2 L213.5,136.2 L214.0,136.2 L214.5,136.2 L215.0,136.2 L215.5,136.2 L216.0,136.2 L216.5,136.2 L217.0,136.2 L217.5,136.2 L218.0,136.1 L218.5,136.1 L219.0,136.0 L219.5,135.9 L220.0,135.9 L220.5,135.8 L221.0,135.7 L221.5,135.7 L222.0,135.6 L222.5,135.6 L223.0,135.6 L223.5,135.7 L224.0,135.8 L224.4,135.9 L224.9,136.0 L225.4,136.1 L225.9,136.2 L226.4,136.3 L226.9,136.4 L227.4,136.4 L227.9,136.4 L228.4,136.5 L228.9,136.5 L229.4,136.5 L229.9,136.5 L230.4,136.6 L230.9,136.6 L231.4,136.6 L231.9,136.6 L232.4,136.6 L232.9,136.7 L233.4,136.7 L233.9,136.7 L234.4,136.7 L234.9,136.7 L235.4,136.8 L235.9,136.8 L236.4,136.8 L236.9,136.8 L237.4,136.8 L237.9,136.8 L238.4,136.8 L238.9,136.8 L239.4,136.9 L239.9,136.9 L240.4,136.9 L240.9,136.9 L241.4,136.9 L241.9,136.9 L242.4,136.9 L242.9,136.9 L243.4,136.9 L243.9,136.9 L244.4,136.9 L244.9,137.0 L245.4,137.0 L245.9,137.0 L246.4,137.0 L246.9,137.0 L247.4,137.0 L247.9,137.0 L248.4,137.0 L248.9,137.0 L249.4,137.0 L249.9,137.0 L250.4,137.0 L250.9,137.0 L251.4,137.0 L251.9,137.0 L252.4,137.0 L252.9,137.0 L253.4,137.0 L253.9,137.0 L254.4,137.0 L254.9,137.0 L255.4,137.0 L255.9,137.0 L256.4,137.0 L256.9,137.0 L257.4,137.0 L257.9,137.0 L258.4,137.0 L258.9,137.0 L259.4,137.0 L259.9,137.1 L260.4,137.1 L260.9,137.1 L261.4,137.1 L261.9,137.1 L262.4,137.1 L262.9,137.1 L263.4,137.1 L263.9,137.1 L264.4,137.1 L264.9,137.1 L265.4,137.1 L265.9,137.1 L266.4,137.1 L266.9,137.1 L267.4,137.1 L267.9,137.1 L268.4,137.1 L268.9,137.1 L269.4,137.1 L269.9,137.1 L270.4,137.1 L270.9,137.1 L271.4,137.1 L271.9,137.1 L272.4,137.1 L272.9,137.1 L273.4,137.1 L273.9,137.1 L274.4,137.1 L274.9,137.1 L275.4,137.1 L275.9,137.1 L276.4,137.1 L276.9,137.1 L277.4,137.1 L277.9,137.1 L278.4,137.1 L278.9,137.1 L279.4,137.1 L279.9,137.1 L280.4,137.1 L280.9,137.1 L281.4,137.1 L281.9,137.1 L282.4,137.1 L282.9,137.1 L283.4,137.1 L283.9,137.1 L284.4,137.1 L284.9,137.1 L285.4,137.1 L285.9,137.1 L286.4,137.1 L286.9,137.1 L287.4,137.1 L287.9,137.2 L288.4,137.2 L288.9,137.2 L289.4,137.2 L289.9,137.2 L290.4,137.2 L290.9,137.2 L291.4,137.2 L291.9,137.2 L292.4,137.2 L292.9,137.2 L293.4,137.2 L293.9,137.2 L294.4,137.2 L294.9,137.2 L295.4,137.2 L295.9,137.2 L296.4,137.2 L296.9,137.2 L297.4,137.2 L297.9,137.2 L298.4,137.2 L298.9,137.2 L299.4,137.2 L299.9,137.2 L300.4,137.2 L300.9,137.2 L301.4,137.2 L301.9,137.2 L302.4,137.2 L302.9,137.2 L303.4,137.2 L303.9,137.2 L304.4,137.2 L304.9,137.2 L305.4,137.2 L305.9,137.2 L306.4,137.2 L306.9,137.2 L307.4,137.2 L307.9,137.2 L308.4,137.2 L308.9,137.2 L309.4,137.2 L309.9,137.2 L310.4,137.2 L310.9,137.2 L311.4,137.2 L311.9,137.2 L312.4,137.2 L312.9,137.2 L313.4,137.3 L313.9,137.3 L314.4,137.3 L314.9,137.3 L315.4,137.3 L315.9,137.3 L316.4,137.3 L316.9,137.3 L317.4,137.3 L317.9,137.3 L318.4,137.3 L318.9,137.3 L319.4,137.3 L319.9,137.3 L320.4,137.3 L320.9,137.3 L321.4,137.3 L321.9,137.3 L322.4,137.3 L322.9,137.3 L323.4,137.3 L323.9,137.3 L324.4,137.3 L324.9,137.3 L325.4,137.3 L325.9,137.3 L326.0,137.3" stroke="#0a0af2" stroke-width="1.6"/>
</g>
<path d="M23.5,223.0 L23.5,0.5 L326.4,0.5 L326.4,223.0" fill="none" stroke="#000" stroke-width="1.1"/>
<line x1="23.0" y1="222.5" x2="326.9" y2="222.5" stroke="#000" stroke-width="1.0"/>
<clipPath id="cb"><rect x="385.5" y="0.5" width="303.0" height="220.5"/></clipPath>
<g clip-path="url(#cb)" fill="none" stroke-linejoin="round">
<path d="M385.0,172.4 L385.5,172.4 L386.0,172.4 L386.5,172.4 L387.1,172.4 L387.6,172.4 L388.1,172.4 L388.6,172.4 L389.1,172.3 L389.6,172.3 L390.1,172.3 L390.6,172.3 L391.1,172.3 L391.6,172.2 L392.0,172.2 L392.5,172.2 L393.0,172.2 L393.5,172.1 L394.0,172.1 L394.5,172.0 L395.0,171.9 L395.4,171.7 L395.9,171.5 L396.4,171.3 L396.8,171.2 L397.3,171.0 L397.7,170.7 L398.2,170.5 L398.6,170.3 L399.1,170.1 L399.5,169.8 L400.0,169.6 L400.4,169.4 L400.9,169.1 L401.3,168.9 L401.8,168.7 L402.2,168.6 L402.7,168.4 L403.2,168.2 L403.7,168.0 L404.1,167.9 L404.6,167.7 L405.1,167.6 L405.6,167.4 L406.0,167.3 L406.5,167.2 L407.0,167.0 L407.5,166.9 L408.0,166.8 L408.5,166.6 L408.9,166.5 L409.4,166.4 L409.9,166.2 L410.4,166.1 L410.9,166.0 L411.3,165.8 L411.8,165.7 L412.3,165.5 L412.8,165.4 L413.3,165.2 L413.7,165.1 L414.2,164.9 L414.7,164.7 L415.1,164.5 L415.6,164.2 L416.1,164.0 L416.5,163.8 L417.0,163.7 L417.5,163.6 L417.9,163.6 L418.4,163.7 L418.9,163.8 L419.4,163.9 L419.9,164.1 L420.4,164.2 L420.9,164.3 L421.4,164.4 L421.9,164.5 L422.4,164.6 L422.9,164.6 L423.3,164.5 L423.8,164.3 L424.2,163.9 L424.6,163.5 L424.9,163.1 L425.1,162.8 L425.3,162.3 L425.4,161.9 L425.5,161.4 L425.7,160.9 L425.8,160.4 L425.9,159.9 L425.9,159.4 L426.0,158.8 L426.1,158.3 L426.2,157.8 L426.3,157.3 L426.4,156.8 L426.5,156.4 L426.6,155.9 L426.6,155.4 L426.7,154.9 L426.8,154.4 L426.9,153.9 L427.0,153.4 L427.0,152.9 L427.1,152.4 L427.2,151.9 L427.3,151.4 L427.4,150.9 L427.5,150.4 L427.6,149.9 L427.6,149.4 L427.7,148.9 L427.8,148.4 L427.9,148.0 L428.0,147.5 L428.1,147.0 L428.3,146.5 L428.4,146.0 L428.5,145.5 L428.7,144.9 L428.9,144.3 L429.1,143.7 L429.3,143.3 L429.5,143.0 L429.7,142.9 L429.9,143.1 L430.2,143.5 L430.4,144.0 L430.6,144.6 L430.8,145.2 L430.9,145.7 L431.1,146.2 L431.2,146.7 L431.3,147.2 L431.4,147.7 L431.4,148.2 L431.5,148.7 L431.6,149.2 L431.7,149.7 L431.7,150.2 L431.8,150.7 L431.9,151.2 L431.9,151.7 L432.0,152.2 L432.1,152.7 L432.2,153.2 L432.3,153.6 L432.4,154.1 L432.4,154.6 L432.5,155.1 L432.6,155.6 L432.7,156.1 L432.8,156.6 L432.9,157.1 L432.9,157.6 L433.0,158.1 L433.1,158.6 L433.2,159.1 L433.3,159.6 L433.4,160.1 L433.4,160.6 L433.5,161.0 L433.6,161.5 L433.7,162.0 L433.8,162.5 L433.9,163.0 L434.0,163.5 L434.1,164.0 L434.3,164.5 L434.4,165.0 L434.6,165.4 L434.8,165.9 L435.0,166.3 L435.2,166.8 L435.5,167.2 L435.9,167.6 L436.2,167.9 L436.6,168.2 L437.0,168.5 L437.4,168.8 L437.8,169.1 L438.2,169.3 L438.7,169.6 L439.1,169.9 L439.5,170.2 L439.9,170.4 L440.4,170.7 L440.8,170.9 L441.3,171.1 L441.7,171.3 L442.2,171.4 L442.7,171.5 L443.2,171.7 L443.7,171.8 L444.2,171.9 L444.7,172.0 L445.2,172.0 L445.7,172.1 L446.2,172.1 L446.7,172.2 L447.2,172.2 L447.7,172.3 L448.2,172.3 L448.7,172.4 L449.2,172.4 L449.7,172.5 L450.2,172.5 L450.7,172.5 L451.2,172.5 L451.7,172.5 L452.2,172.5 L452.7,172.5 L453.2,172.5 L453.7,172.5 L454.2,172.5 L454.6,172.5 L455.1,172.5 L455.6,172.5 L456.1,172.5 L456.6,172.5 L457.1,172.5 L457.6,172.5 L458.1,172.5 L458.6,172.5 L459.1,172.5 L459.6,172.5 L460.1,172.5 L460.6,172.5 L461.1,172.5 L461.7,172.5 L462.2,172.5 L462.7,172.5 L463.2,172.5 L463.7,172.5 L464.2,172.5 L464.7,172.5 L465.2,172.5 L465.7,172.5 L466.2,172.5 L466.7,172.5 L467.2,172.5 L467.7,172.5 L468.2,172.5 L468.7,172.5 L469.2,172.5 L469.7,172.5 L470.2,172.5 L470.7,172.5 L471.2,172.5 L471.7,172.5 L472.2,172.5 L472.7,172.5 L473.2,172.5 L473.7,172.5 L474.2,172.5 L474.7,172.5 L475.2,172.5 L475.7,172.5 L476.2,172.5 L476.7,172.5 L477.2,172.5 L477.7,172.5 L478.2,172.5 L478.7,172.5 L479.2,172.5 L479.7,172.5 L480.2,172.5 L480.7,172.5 L481.2,172.4 L481.7,172.4 L482.2,172.4 L482.7,172.4 L483.2,172.4 L483.7,172.4 L484.2,172.4 L484.7,172.4 L485.2,172.4 L485.7,172.4 L486.2,172.4 L486.7,172.4 L487.2,172.4 L487.7,172.4 L488.2,172.4 L488.7,172.4 L489.2,172.3 L489.7,172.3 L490.2,172.3 L490.7,172.3 L491.2,172.3 L491.7,172.3 L492.2,172.3 L492.7,172.3 L493.2,172.3 L493.7,172.3 L494.2,172.3 L494.7,172.3 L495.2,172.3 L495.7,172.2 L496.2,172.2 L496.7,172.2 L497.2,172.2 L497.7,172.2 L498.2,172.2 L498.7,172.2 L499.2,172.2 L499.7,172.2 L500.2,172.2 L500.7,172.2 L501.2,172.1 L501.7,172.1 L502.2,172.1 L502.7,172.1 L503.2,172.1 L503.7,172.1 L504.2,172.1 L504.7,172.1 L505.2,172.1 L505.7,172.1 L506.2,172.0 L506.7,172.0 L507.2,172.0 L507.7,172.0 L508.2,172.0 L508.7,172.0 L509.2,172.0 L509.7,172.0 L510.2,172.0 L510.7,171.9 L511.2,171.9 L511.7,171.9 L512.2,171.9 L512.7,171.9 L513.1,171.9 L513.6,171.9 L514.1,171.9 L514.6,171.9 L515.1,171.9 L515.6,171.8 L516.1,171.8 L516.6,171.8 L517.1,171.8 L517.6,171.8 L518.1,171.8 L518.6,171.8 L519.1,171.8 L519.6,171.8 L520.1,171.7 L520.6,171.7 L521.1,171.7 L521.6,171.7 L522.1,171.7 L522.6,171.7 L523.1,171.7 L523.6,171.7 L524.1,171.6 L524.6,171.6 L525.1,171.6 L525.6,171.6 L526.1,171.6 L526.6,171.6 L527.1,171.5 L527.6,171.5 L528.1,171.5 L528.6,171.5 L529.1,171.5 L529.6,171.4 L530.1,171.4 L530.6,171.4 L531.1,171.4 L531.6,171.3 L532.1,171.3 L532.6,171.3 L533.1,171.3 L533.6,171.3 L534.1,171.2 L534.6,171.2 L535.1,171.2 L535.6,171.2 L536.1,171.1 L536.6,171.1 L537.1,171.1 L537.6,171.1 L538.1,171.1 L538.6,171.0 L539.1,171.0 L539.6,171.0 L540.1,171.0 L540.6,170.9 L541.1,170.9 L541.6,170.9 L542.1,170.9 L542.6,170.9 L543.1,170.8 L543.6,170.8 L544.1,170.8 L544.6,170.8 L545.1,170.8 L545.6,170.7 L546.1,170.7 L546.6,170.7 L547.1,170.7 L547.6,170.7 L548.1,170.7 L548.6,170.6 L549.1,170.6 L549.6,170.6 L550.1,170.6 L550.6,170.6 L551.1,170.6 L551.6,170.6 L552.1,170.6 L552.6,170.5 L553.1,170.5 L553.6,170.5 L554.1,170.5 L554.6,170.5 L555.1,170.5 L555.6,170.5 L556.1,170.5 L556.6,170.5 L557.1,170.5 L557.6,170.5 L558.1,170.5 L558.6,170.5 L559.1,170.5 L559.6,170.5 L560.1,170.5 L560.6,170.5 L561.1,170.5 L561.6,170.5 L562.1,170.5 L562.6,170.5 L563.1,170.6 L563.6,170.6 L564.1,170.6 L564.6,170.6 L565.1,170.6 L565.6,170.6 L566.1,170.6 L566.6,170.6 L567.1,170.6 L567.6,170.7 L568.1,170.7 L568.6,170.7 L569.1,170.7 L569.6,170.7 L570.1,170.7 L570.6,170.7 L571.1,170.8 L571.6,170.8 L572.1,170.8 L572.6,170.8 L573.1,170.8 L573.6,170.8 L574.1,170.9 L574.6,170.9 L575.1,170.9 L575.6,170.9 L576.1,170.9 L576.6,170.9 L577.1,170.9 L577.6,171.0 L578.1,171.0 L578.6,171.0 L579.1,171.0 L579.6,171.0 L580.1,171.0 L580.6,171.1 L581.1,171.1 L581.6,171.1 L582.1,171.1 L582.6,171.1 L583.1,171.1 L583.6,171.1 L584.1,171.2 L584.6,171.2 L585.1,171.2 L585.6,171.2 L586.1,171.2 L586.6,171.2 L587.1,171.2 L587.6,171.3 L588.1,171.3 L588.6,171.2 L589.1,171.2 L589.6,171.1 L590.1,171.1 L590.6,171.1 L591.1,171.1 L591.6,171.1 L592.1,171.2 L592.7,171.4 L593.2,171.4 L593.7,171.3 L594.2,171.2 L594.7,171.4 L595.2,171.5 L595.7,171.5 L596.2,171.4 L596.7,171.3 L597.2,171.3 L597.6,171.3 L598.1,171.3 L598.6,171.1 L599.0,170.7 L599.4,170.3 L599.9,170.1 L600.3,170.0 L600.8,170.2 L601.3,170.4 L601.7,170.7 L602.2,171.1 L602.6,171.6 L603.1,172.2 L603.5,172.4 L604.0,172.3 L604.4,172.2 L604.9,172.6 L605.3,173.0 L605.7,173.3 L606.1,173.1 L606.5,172.7 L606.9,172.2 L607.3,171.7 L607.7,171.2 L608.1,170.9 L608.5,170.7 L609.0,170.9 L609.4,171.2 L609.9,171.4 L610.4,171.4 L610.9,171.4 L611.4,171.4 L611.9,171.5 L612.4,171.5 L612.9,171.5 L613.4,171.5 L613.9,171.4 L614.4,171.3 L614.9,171.2 L615.4,171.1 L615.9,170.9 L616.4,171.0 L616.9,171.2 L617.4,171.5 L617.9,171.6 L618.4,171.6 L618.9,171.5 L619.4,171.2 L619.9,170.8 L620.4,170.7 L620.9,170.8 L621.4,170.8 L621.9,170.7 L622.4,170.6 L622.9,170.7 L623.4,171.0 L623.9,171.2 L624.4,171.3 L624.9,171.3 L625.4,171.3 L625.9,171.0 L626.4,170.8 L626.9,170.7 L627.4,170.8 L627.9,170.8 L628.4,170.7 L628.9,170.7 L629.4,170.7 L629.9,170.9 L630.4,171.1 L630.9,170.8 L631.4,170.5 L631.9,170.3 L632.4,170.5 L632.9,170.7 L633.4,170.7 L633.9,170.7 L634.4,170.7 L634.9,170.6 L635.4,170.5 L635.9,170.4 L636.4,170.3 L636.9,170.2 L637.4,170.4 L637.9,170.7 L638.4,170.9 L638.9,170.9 L639.4,171.0 L639.9,171.0 L640.3,171.0 L640.8,171.0 L641.3,171.2 L641.8,171.4 L642.3,171.6 L642.7,171.9 L643.2,172.1 L643.7,172.4 L644.2,172.7 L644.7,173.0 L645.1,173.1 L645.6,173.1 L646.1,173.1 L646.6,173.0 L647.0,172.8 L647.5,172.5 L648.0,172.3 L648.4,172.1 L648.9,171.9 L649.4,171.8 L649.8,171.7 L650.3,171.6 L650.8,171.6 L651.3,171.6 L651.8,171.8 L652.3,172.0 L652.8,172.1 L653.3,172.1 L653.8,172.0 L654.3,172.0 L654.8,171.9 L655.3,171.8 L655.8,171.6 L656.3,171.4 L656.8,171.4 L657.3,171.6 L657.8,171.8 L658.3,171.9 L658.8,172.0 L659.3,171.9 L659.8,171.6 L660.3,171.4 L660.8,171.5 L661.3,171.8 L661.8,172.1 L662.3,172.1 L662.8,172.2 L663.3,172.1 L663.8,172.0 L664.3,171.9 L664.8,172.0 L665.3,172.1 L665.8,172.2 L666.3,172.2 L666.8,172.2 L667.3,172.2 L667.8,172.2 L668.3,172.1 L668.8,171.9 L669.3,171.7 L669.8,171.8 L670.3,171.9 L670.8,172.1 L671.3,172.3 L671.8,172.5 L672.3,172.6 L672.8,172.6 L673.3,172.7 L673.8,172.8 L674.3,172.8 L674.8,172.8 L675.3,172.3 L675.8,171.9 L676.3,171.9 L676.8,172.1 L677.3,172.3 L677.8,172.3 L678.3,172.3 L678.8,172.4 L679.3,172.7 L679.8,173.0 L680.3,172.9 L680.8,172.7 L681.3,172.6 L681.8,172.4 L682.3,172.3 L682.8,172.3 L683.3,172.3 L683.8,172.4 L684.3,172.5 L684.8,172.6 L685.3,172.7 L685.8,172.7 L686.3,172.7 L686.8,172.6 L687.3,172.4 L687.8,172.3 L688.3,172.5 L688.8,172.7 L689.0,172.8" stroke="#000" stroke-width="1.3" stroke-dasharray="1.05 0.9"/>
<path d="M385.0,185.4 L385.6,185.4 L386.2,185.4 L386.7,185.4 L387.3,185.4 L387.8,185.4 L388.4,185.4 L388.9,185.4 L389.4,185.3 L389.9,185.3 L390.4,185.3 L390.9,185.3 L391.4,185.3 L391.8,185.2 L392.3,185.2 L392.7,185.2 L393.2,185.1 L393.6,185.1 L394.0,185.0 L394.5,185.0 L394.9,184.7 L395.3,184.4 L395.6,184.0 L396.0,183.6 L396.2,183.2 L396.5,182.8 L396.8,182.3 L397.0,181.9 L397.2,181.4 L397.4,181.0 L397.7,180.5 L397.9,180.1 L398.1,179.6 L398.3,179.1 L398.5,178.7 L398.7,178.2 L398.9,177.8 L399.1,177.3 L399.3,176.9 L399.5,176.4 L399.8,176.0 L400.0,175.5 L400.3,175.0 L400.5,174.6 L400.8,174.2 L401.1,173.8 L401.5,173.5 L401.9,173.3 L402.3,173.1 L402.8,172.9 L403.3,172.7 L403.8,172.6 L404.3,172.5 L404.8,172.5 L405.3,172.4 L405.8,172.4 L406.3,172.3 L406.8,172.3 L407.3,172.2 L407.8,172.2 L408.3,172.1 L408.8,172.1 L409.3,172.0 L409.8,171.9 L410.3,171.8 L410.8,171.7 L411.3,171.6 L411.8,171.5 L412.3,171.4 L412.8,171.2 L413.2,171.1 L413.7,170.9 L414.2,170.8 L414.6,170.6 L415.0,170.3 L415.4,170.0 L415.9,169.7 L416.3,169.4 L416.7,169.2 L417.2,168.9 L417.6,168.7 L418.0,168.6 L418.5,168.8 L418.9,169.2 L419.2,169.6 L419.6,169.9 L420.0,170.3 L420.4,170.6 L420.7,171.0 L421.1,171.3 L421.6,171.5 L422.0,171.7 L422.5,171.8 L423.0,171.9 L423.5,172.0 L424.0,172.0 L424.5,172.1 L425.0,172.1 L425.5,172.1 L426.0,172.1 L426.4,171.8 L426.7,171.4 L427.1,171.0 L427.5,170.7 L427.9,170.3 L428.3,169.9 L428.7,169.6 L429.1,169.3 L429.5,169.3 L429.9,169.6 L430.2,170.0 L430.6,170.4 L430.9,170.9 L431.2,171.3 L431.5,171.7 L431.7,172.1 L431.9,172.6 L432.2,173.0 L432.4,173.5 L432.7,173.9 L432.9,174.3 L433.2,174.7 L433.5,175.2 L433.7,175.6 L434.0,176.0 L434.3,176.4 L434.6,176.8 L434.9,177.2 L435.2,177.6 L435.5,178.0 L435.8,178.4 L436.1,178.8 L436.4,179.2 L436.7,179.6 L437.1,180.0 L437.4,180.3 L437.8,180.7 L438.1,181.0 L438.5,181.4 L438.9,181.7 L439.3,182.0 L439.7,182.3 L440.1,182.6 L440.5,182.8 L440.9,183.1 L441.4,183.3 L441.8,183.6 L442.3,183.8 L442.8,184.0 L443.2,184.1 L443.7,184.3 L444.2,184.4 L444.7,184.5 L445.2,184.7 L445.6,184.8 L446.1,184.9 L446.6,184.9 L447.1,185.0 L447.6,185.1 L448.1,185.1 L448.6,185.2 L449.1,185.2 L449.6,185.3 L450.1,185.3 L450.6,185.4 L451.1,185.4 L451.6,185.4 L452.1,185.4 L452.6,185.4 L453.1,185.5 L453.6,185.5 L454.1,185.5 L454.6,185.5 L455.1,185.5 L455.6,185.5 L456.1,185.6 L456.6,185.6 L457.1,185.6 L457.6,185.6 L458.1,185.6 L458.6,185.6 L459.1,185.6 L459.6,185.6 L460.1,185.6 L460.6,185.7 L461.1,185.7 L461.6,185.7 L462.1,185.7 L462.6,185.7 L463.1,185.7 L463.6,185.7 L464.1,185.7 L464.6,185.7 L465.1,185.7 L465.6,185.7 L466.1,185.7 L466.6,185.7 L467.1,185.7 L467.6,185.7 L468.1,185.7 L468.6,185.7 L469.1,185.7 L469.6,185.7 L470.1,185.7 L470.6,185.7 L471.1,185.7 L471.6,185.7 L472.1,185.7 L472.6,185.7 L473.1,185.7 L473.6,185.7 L474.1,185.7 L474.6,185.7 L475.1,185.7 L475.6,185.7 L476.1,185.6 L476.6,185.6 L477.1,185.6 L477.6,185.6 L478.1,185.6 L478.6,185.6 L479.1,185.5 L479.6,185.5 L480.1,185.5 L480.6,185.5 L481.1,185.4 L481.6,185.4 L482.1,185.4 L482.6,185.4 L483.1,185.3 L483.6,185.3 L484.1,185.3 L484.6,185.2 L485.1,185.2 L485.6,185.2 L486.1,185.1 L486.6,185.1 L487.1,185.1 L487.6,185.0 L488.1,185.0 L488.6,185.0 L489.1,184.9 L489.6,184.9 L490.1,184.9 L490.6,184.8 L491.1,184.8 L491.6,184.8 L492.1,184.7 L492.6,184.7 L493.1,184.7 L493.6,184.6 L494.1,184.6 L494.6,184.6 L495.1,184.5 L495.6,184.5 L496.1,184.5 L496.6,184.4 L497.1,184.4 L497.6,184.3 L498.1,184.3 L498.6,184.3 L499.1,184.2 L499.6,184.2 L500.1,184.2 L500.6,184.1 L501.1,184.1 L501.6,184.1 L502.1,184.0 L502.6,184.0 L503.1,184.0 L503.6,184.0 L504.1,183.9 L504.6,183.9 L505.1,183.9 L505.6,183.8 L506.1,183.8 L506.6,183.8 L507.1,183.8 L507.6,183.7 L508.1,183.7 L508.6,183.7 L509.1,183.7 L509.6,183.7 L510.1,183.6 L510.6,183.6 L511.1,183.6 L511.6,183.5 L512.1,183.5 L512.6,183.5 L513.1,183.5 L513.6,183.4 L514.0,183.4 L514.5,183.4 L515.0,183.4 L515.5,183.3 L516.0,183.3 L516.5,183.3 L517.0,183.2 L517.5,183.2 L518.0,183.2 L518.5,183.2 L519.0,183.1 L519.5,183.1 L520.0,183.1 L520.5,183.1 L521.0,183.0 L521.5,183.0 L522.0,183.0 L522.5,182.9 L523.0,182.9 L523.5,182.9 L524.0,182.9 L524.5,182.9 L525.0,182.8 L525.5,182.8 L526.0,182.8 L526.5,182.8 L527.0,182.7 L527.5,182.7 L528.0,182.7 L528.5,182.7 L529.0,182.7 L529.5,182.6 L530.0,182.6 L530.5,182.6 L531.0,182.6 L531.5,182.6 L532.0,182.6 L532.5,182.6 L533.0,182.5 L533.5,182.5 L534.0,182.5 L534.5,182.5 L535.0,182.5 L535.5,182.5 L536.0,182.5 L536.5,182.5 L537.0,182.5 L537.5,182.5 L538.0,182.5 L538.5,182.5 L539.0,182.5 L539.5,182.5 L540.0,182.5 L540.5,182.5 L541.0,182.5 L541.5,182.5 L542.0,182.5 L542.5,182.5 L543.0,182.5 L543.5,182.5 L544.0,182.5 L544.5,182.5 L545.0,182.5 L545.5,182.5 L546.0,182.5 L546.5,182.6 L547.0,182.6 L547.5,182.6 L548.0,182.6 L548.5,182.6 L549.0,182.6 L549.5,182.6 L550.0,182.6 L550.5,182.6 L551.0,182.6 L551.5,182.6 L552.0,182.6 L552.5,182.6 L553.0,182.6 L553.5,182.6 L554.0,182.7 L554.5,182.7 L555.0,182.7 L555.5,182.7 L556.0,182.7 L556.5,182.7 L557.0,182.7 L557.5,182.7 L558.0,182.7 L558.5,182.7 L559.0,182.8 L559.5,182.8 L560.0,182.8 L560.5,182.8 L561.0,182.8 L561.5,182.8 L562.0,182.8 L562.5,182.8 L563.0,182.8 L563.5,182.8 L564.0,182.9 L564.5,182.9 L565.0,182.9 L565.5,182.9 L566.0,182.9 L566.5,182.9 L567.0,182.9 L567.5,182.9 L568.0,183.0 L568.5,183.0 L569.0,183.0 L569.5,183.0 L570.0,183.0 L570.5,183.0 L571.0,183.0 L571.5,183.0 L572.0,183.1 L572.5,183.1 L573.0,183.1 L573.5,183.1 L574.0,183.1 L574.5,183.1 L575.0,183.1 L575.5,183.2 L576.0,183.2 L576.5,183.2 L577.0,183.2 L577.5,183.2 L578.0,183.2 L578.5,183.3 L579.0,183.3 L579.5,183.3 L580.0,183.3 L580.5,183.3 L581.0,183.4 L581.5,183.4 L582.0,183.4 L582.5,183.4 L583.0,183.5 L583.5,183.5 L584.0,183.5 L584.5,183.5 L585.0,183.6 L585.5,183.6 L586.0,183.6 L586.5,183.6 L587.0,183.7 L587.5,183.7 L588.0,183.7 L588.5,183.8 L589.0,183.8 L589.5,183.8 L590.0,183.9 L590.5,183.9 L591.0,183.9 L591.5,183.9 L592.0,184.0 L592.5,184.1 L593.0,184.1 L593.5,184.2 L594.0,184.2 L594.5,184.2 L595.0,184.1 L595.5,184.2 L596.0,184.3 L596.5,184.4 L597.0,184.5 L597.5,184.7 L598.0,184.8 L598.5,184.8 L599.0,184.8 L599.5,184.9 L599.9,184.9 L600.4,184.9 L600.9,184.8 L601.4,184.7 L601.9,184.6 L602.3,184.5 L602.8,184.5 L603.3,184.3 L603.8,183.9 L604.2,183.6 L604.7,183.3 L605.2,183.1 L605.7,182.9 L606.2,182.8 L606.6,182.8 L607.1,182.8 L607.6,182.8 L608.1,182.9 L608.6,183.1 L609.1,183.3 L609.6,183.5 L610.1,183.3 L610.6,183.2 L611.1,183.1 L611.6,183.1 L612.1,183.0 L612.6,183.3 L613.1,183.7 L613.6,183.8 L614.1,183.6 L614.6,183.4 L615.1,183.4 L615.6,183.5 L616.1,183.5 L616.6,183.6 L617.2,183.7 L617.7,183.7 L618.2,183.8 L618.7,183.9 L619.2,183.8 L619.7,183.7 L620.2,183.7 L620.6,183.7 L621.1,183.7 L621.6,183.9 L622.1,184.1 L622.6,184.4 L623.1,184.6 L623.6,184.7 L624.1,185.0 L624.5,185.3 L625.0,185.6 L625.3,185.7 L625.7,185.6 L625.9,185.3 L626.1,184.7 L626.3,184.0 L626.5,183.3 L626.7,182.9 L627.0,182.8 L627.3,183.0 L627.7,183.4 L628.1,183.6 L628.6,183.8 L629.1,184.0 L629.7,184.0 L630.2,184.1 L630.7,184.1 L631.2,184.1 L631.7,184.2 L632.2,184.4 L632.7,184.7 L633.2,184.8 L633.7,184.7 L634.1,184.7 L634.6,184.8 L635.1,184.9 L635.6,185.0 L636.1,185.1 L636.6,185.1 L637.1,185.2 L637.6,185.3 L638.1,185.4 L638.6,185.6 L639.1,185.8 L639.6,185.9 L640.1,185.8 L640.6,185.8 L641.1,185.8 L641.7,185.8 L642.2,185.8 L642.7,185.9 L643.2,185.9 L643.7,185.9 L644.2,185.9 L644.7,185.8 L645.2,185.7 L645.7,185.6 L646.1,185.4 L646.6,185.0 L647.1,184.7 L647.5,184.6 L647.9,184.5 L648.3,184.3 L648.7,183.9 L649.1,183.5 L649.5,183.2 L649.9,183.0 L650.4,183.1 L650.8,183.4 L651.2,183.6 L651.7,183.7 L652.2,183.8 L652.6,184.1 L653.1,184.4 L653.6,184.7 L654.1,184.7 L654.6,184.4 L655.1,184.2 L655.6,184.3 L656.1,184.3 L656.6,184.3 L657.1,184.5 L657.6,184.6 L658.1,184.7 L658.6,184.9 L659.1,184.9 L659.6,184.7 L660.1,184.4 L660.6,184.4 L661.1,184.4 L661.6,184.5 L662.1,184.8 L662.6,185.2 L663.1,185.4 L663.6,185.3 L664.1,185.2 L664.6,185.3 L665.1,185.5 L665.6,185.6 L666.1,185.6 L666.6,185.6 L667.1,185.4 L667.6,185.1 L668.1,184.8 L668.6,185.1 L669.1,185.4 L669.6,185.6 L670.1,185.6 L670.6,185.6 L671.1,185.5 L671.6,185.3 L672.1,185.3 L672.6,185.6 L673.1,185.9 L673.6,185.8 L674.1,185.7 L674.6,185.5 L675.1,185.4 L675.6,185.2 L676.1,185.3 L676.6,185.5 L677.1,185.8 L677.6,185.8 L678.1,185.9 L678.6,185.9 L679.1,185.8 L679.6,185.8 L680.1,185.8 L680.6,185.8 L681.1,185.8 L681.6,185.9 L682.1,185.9 L682.6,186.0 L683.1,186.1 L683.6,186.2 L684.1,185.9 L684.6,185.7 L685.1,185.6 L685.6,185.9 L686.1,186.1 L686.6,186.0 L687.1,185.8 L687.6,185.6 L688.1,185.8 L688.6,186.1 L689.0,186.2" stroke="#000" stroke-width="1.3" stroke-dasharray="4.2 2.4 1.1 2.3 1.1 2.8"/>
<path d="M385.0,198.7 L385.5,198.7 L386.0,198.6 L386.5,198.5 L387.0,198.5 L387.5,198.4 L388.0,198.3 L388.5,198.3 L389.0,198.2 L389.5,198.1 L390.0,198.0 L390.4,197.9 L391.0,197.8 L391.5,197.7 L392.0,197.6 L392.4,197.5 L392.9,197.3 L393.3,197.1 L393.7,196.8 L394.1,196.5 L394.4,196.1 L394.8,195.7 L395.1,195.4 L395.5,195.0 L395.8,194.6 L396.1,194.2 L396.4,193.8 L396.5,193.3 L396.7,192.9 L396.8,192.4 L396.9,191.9 L397.0,191.4 L397.1,190.9 L397.2,190.4 L397.3,189.9 L397.4,189.4 L397.4,188.9 L397.5,188.4 L397.5,187.9 L397.5,187.4 L397.6,186.8 L397.6,186.2 L397.6,185.6 L397.6,185.0 L397.6,184.4 L397.7,183.8 L397.7,183.2 L397.7,182.6 L397.7,182.1 L397.7,181.5 L397.7,181.0 L397.7,180.6 L397.8,180.2 L397.8,179.8 L397.8,179.6 L397.9,179.3 L398.1,179.2 L398.5,179.0 L399.1,178.9 L399.7,178.8 L400.2,178.8 L400.7,178.7 L401.2,178.7 L401.7,178.7 L402.2,178.6 L402.7,178.6 L403.2,178.6 L403.7,178.5 L404.2,178.5 L404.7,178.5 L405.2,178.4 L405.7,178.4 L406.2,178.4 L406.7,178.3 L407.2,178.3 L407.7,178.2 L408.3,178.2 L408.8,178.2 L409.3,178.1 L409.8,178.1 L410.3,178.1 L410.8,178.0 L411.2,177.9 L411.7,177.8 L412.1,177.6 L412.4,177.2 L412.8,176.8 L413.2,176.4 L413.5,176.0 L413.8,175.6 L414.1,175.2 L414.4,174.8 L414.7,174.4 L415.0,174.0 L415.2,173.6 L415.5,173.2 L415.8,172.7 L416.1,172.3 L416.4,171.7 L416.7,171.2 L417.0,170.7 L417.4,170.3 L417.6,170.1 L417.9,170.0 L418.2,170.2 L418.4,170.5 L418.7,171.0 L418.9,171.6 L419.2,172.2 L419.4,172.7 L419.6,173.1 L419.8,173.6 L420.0,174.0 L420.2,174.5 L420.4,175.0 L420.6,175.4 L420.8,175.9 L421.0,176.3 L421.3,176.7 L421.5,177.2 L421.8,177.6 L422.1,178.0 L422.5,178.4 L422.8,178.9 L423.2,179.2 L423.6,179.3 L424.1,179.2 L424.5,179.0 L425.0,178.8 L425.5,178.5 L425.9,178.3 L426.3,177.9 L426.6,177.6 L427.0,177.2 L427.3,176.8 L427.7,176.4 L428.0,175.8 L428.3,175.3 L428.6,174.9 L428.9,174.5 L429.2,174.3 L429.4,174.3 L429.7,174.6 L429.9,175.0 L430.1,175.5 L430.3,176.1 L430.4,176.7 L430.6,177.3 L430.8,177.8 L431.0,178.2 L431.2,178.7 L431.3,179.2 L431.5,179.6 L431.7,180.1 L431.8,180.6 L432.0,181.1 L432.1,181.5 L432.3,182.0 L432.4,182.5 L432.6,183.0 L432.7,183.4 L432.9,183.9 L433.0,184.4 L433.2,184.9 L433.3,185.4 L433.4,185.8 L433.6,186.3 L433.7,186.8 L433.9,187.3 L434.0,187.8 L434.2,188.3 L434.3,188.7 L434.5,189.2 L434.6,189.7 L434.8,190.1 L435.0,190.6 L435.3,191.0 L435.5,191.4 L435.8,191.8 L436.2,192.2 L436.5,192.6 L436.8,193.0 L437.1,193.4 L437.4,193.8 L437.8,194.2 L438.1,194.5 L438.5,194.9 L438.8,195.2 L439.2,195.5 L439.7,195.7 L440.1,196.0 L440.6,196.2 L441.0,196.4 L441.5,196.6 L441.9,196.8 L442.4,197.0 L442.9,197.2 L443.3,197.4 L443.8,197.6 L444.3,197.7 L444.8,197.8 L445.3,197.9 L445.7,198.0 L446.2,198.1 L446.7,198.1 L447.2,198.2 L447.7,198.3 L448.2,198.3 L448.7,198.4 L449.2,198.4 L449.7,198.5 L450.2,198.5 L450.7,198.5 L451.2,198.6 L451.7,198.6 L452.2,198.6 L452.7,198.7 L453.2,198.7 L453.7,198.7 L454.2,198.7 L454.7,198.7 L455.2,198.7 L455.7,198.7 L456.2,198.7 L456.7,198.7 L457.2,198.7 L457.7,198.7 L458.2,198.7 L458.7,198.7 L459.2,198.7 L459.7,198.7 L460.2,198.7 L460.7,198.7 L461.2,198.7 L461.7,198.7 L462.2,198.7 L462.7,198.7 L463.2,198.7 L463.7,198.7 L464.2,198.7 L464.7,198.7 L465.2,198.7 L465.7,198.7 L466.2,198.7 L466.7,198.7 L467.2,198.7 L467.7,198.7 L468.2,198.7 L468.7,198.7 L469.2,198.7 L469.7,198.7 L470.2,198.7 L470.7,198.7 L471.2,198.7 L471.7,198.7 L472.2,198.7 L472.7,198.7 L473.2,198.7 L473.7,198.7 L474.2,198.7 L474.7,198.7 L475.2,198.6 L475.7,198.6 L476.2,198.6 L476.7,198.6 L477.2,198.5 L477.7,198.5 L478.2,198.5 L478.7,198.4 L479.2,198.4 L479.7,198.4 L480.2,198.3 L480.7,198.3 L481.2,198.3 L481.7,198.2 L482.2,198.2 L482.7,198.1 L483.2,198.1 L483.7,198.1 L484.2,198.0 L484.7,198.0 L485.2,197.9 L485.7,197.9 L486.2,197.8 L486.7,197.8 L487.2,197.7 L487.7,197.7 L488.2,197.6 L488.7,197.6 L489.2,197.6 L489.7,197.5 L490.2,197.5 L490.7,197.4 L491.2,197.4 L491.7,197.3 L492.2,197.3 L492.7,197.2 L493.2,197.2 L493.7,197.1 L494.2,197.1 L494.7,197.0 L495.2,197.0 L495.7,196.9 L496.2,196.9 L496.7,196.8 L497.1,196.8 L497.6,196.7 L498.1,196.7 L498.6,196.6 L499.1,196.5 L499.6,196.5 L500.1,196.4 L500.6,196.3 L501.1,196.3 L501.6,196.2 L502.1,196.1 L502.6,196.0 L503.1,196.0 L503.6,195.9 L504.1,195.8 L504.6,195.7 L505.1,195.7 L505.6,195.6 L506.1,195.5 L506.6,195.4 L507.1,195.4 L507.6,195.3 L508.0,195.2 L508.5,195.1 L509.0,195.0 L509.5,195.0 L510.0,194.9 L510.5,194.8 L511.0,194.7 L511.5,194.7 L512.0,194.6 L512.5,194.5 L513.0,194.5 L513.5,194.4 L514.0,194.3 L514.5,194.3 L515.0,194.2 L515.5,194.2 L516.0,194.1 L516.5,194.0 L517.0,194.0 L517.5,194.0 L518.0,193.9 L518.5,193.9 L519.0,193.8 L519.5,193.8 L520.0,193.8 L520.5,193.7 L520.9,193.7 L521.4,193.7 L521.9,193.6 L522.4,193.6 L522.9,193.6 L523.4,193.5 L523.9,193.5 L524.4,193.5 L524.9,193.4 L525.4,193.4 L525.9,193.4 L526.4,193.4 L526.9,193.3 L527.4,193.3 L527.9,193.3 L528.4,193.3 L528.9,193.2 L529.4,193.2 L529.9,193.2 L530.4,193.2 L530.9,193.1 L531.4,193.1 L531.9,193.1 L532.4,193.1 L532.9,193.1 L533.4,193.1 L533.9,193.0 L534.4,193.0 L534.9,193.0 L535.4,193.0 L535.9,193.0 L536.4,193.0 L536.9,193.0 L537.4,193.0 L537.9,193.0 L538.4,193.0 L538.9,193.0 L539.4,193.0 L539.9,193.0 L540.4,193.0 L540.9,193.0 L541.4,193.0 L541.9,193.1 L542.4,193.1 L542.9,193.1 L543.4,193.1 L543.9,193.1 L544.4,193.1 L544.9,193.1 L545.4,193.2 L545.9,193.2 L546.4,193.2 L546.9,193.2 L547.4,193.2 L547.9,193.2 L548.4,193.3 L548.9,193.3 L549.4,193.3 L549.9,193.3 L550.4,193.4 L550.9,193.4 L551.4,193.4 L551.9,193.4 L552.4,193.5 L552.9,193.5 L553.4,193.5 L553.9,193.5 L554.4,193.6 L554.9,193.6 L555.4,193.6 L555.9,193.7 L556.4,193.7 L556.9,193.7 L557.4,193.7 L557.9,193.8 L558.4,193.8 L558.9,193.8 L559.4,193.9 L559.9,193.9 L560.4,194.0 L560.9,194.0 L561.4,194.1 L561.9,194.1 L562.4,194.2 L562.9,194.2 L563.4,194.3 L563.9,194.4 L564.4,194.4 L564.9,194.5 L565.4,194.6 L565.9,194.6 L566.4,194.7 L566.9,194.8 L567.4,194.8 L567.8,194.9 L568.3,195.0 L568.8,195.1 L569.3,195.1 L569.8,195.2 L570.3,195.3 L570.8,195.4 L571.3,195.4 L571.8,195.5 L572.3,195.6 L572.8,195.6 L573.3,195.7 L573.8,195.8 L574.3,195.9 L574.8,195.9 L575.3,196.0 L575.8,196.0 L576.3,196.1 L576.8,196.2 L577.3,196.2 L577.8,196.3 L578.3,196.3 L578.8,196.4 L579.3,196.5 L579.8,196.5 L580.3,196.6 L580.7,196.7 L581.2,196.7 L581.7,196.8 L582.2,196.9 L582.7,196.9 L583.2,197.0 L583.7,197.0 L584.2,197.1 L584.7,197.2 L585.2,197.2 L585.7,197.3 L586.2,197.3 L586.7,197.4 L587.2,197.4 L587.7,197.4 L588.2,197.5 L588.7,197.5 L589.2,197.5 L589.7,197.5 L590.2,197.5 L590.7,197.5 L591.2,197.5 L591.7,197.4 L592.2,197.4 L592.7,197.3 L593.2,197.3 L593.7,197.2 L594.2,197.1 L594.7,197.1 L595.2,197.0 L595.7,196.9 L596.2,196.9 L596.7,196.8 L597.2,196.8 L597.7,196.7 L598.2,196.7 L598.7,196.7 L599.2,196.6 L599.7,196.7 L600.2,196.7 L600.6,196.8 L601.1,196.9 L601.6,197.1 L602.0,197.4 L602.5,197.7 L603.0,198.0 L603.4,198.1 L603.9,198.2 L604.3,198.1 L604.8,198.0 L605.3,197.9 L605.7,197.7 L606.2,197.4 L606.6,197.2 L607.1,197.0 L607.6,196.8 L608.0,196.6 L608.5,196.6 L609.0,196.6 L609.5,196.6 L610.0,196.6 L610.5,196.5 L611.0,196.5 L611.5,196.5 L612.0,196.6 L612.5,196.5 L613.0,196.4 L613.5,196.4 L614.0,196.5 L614.5,196.6 L615.1,196.6 L615.6,196.7 L616.1,196.7 L616.6,196.8 L617.1,196.9 L617.6,196.8 L618.1,196.8 L618.6,196.8 L619.1,196.9 L619.6,197.0 L620.1,196.9 L620.6,196.8 L621.0,196.6 L621.5,196.9 L622.0,197.2 L622.4,197.6 L622.9,197.9 L623.3,198.2 L623.7,198.5 L624.2,198.6 L624.6,198.6 L625.1,198.5 L625.5,198.4 L626.0,198.1 L626.5,197.9 L626.9,197.7 L627.4,197.6 L627.9,197.4 L628.3,197.3 L628.8,197.2 L629.3,197.4 L629.8,197.5 L630.3,197.5 L630.8,197.5 L631.3,197.4 L631.8,197.4 L632.4,197.4 L632.9,197.4 L633.4,197.5 L633.8,197.7 L634.3,197.7 L634.8,197.7 L635.3,197.7 L635.8,197.7 L636.3,197.6 L636.8,197.5 L637.3,197.3 L637.8,197.1 L638.3,197.0 L638.8,196.9 L639.3,196.9 L639.8,196.8 L640.3,196.8 L640.8,196.9 L641.3,197.0 L641.8,197.2 L642.3,197.3 L642.8,197.3 L643.3,197.4 L643.8,197.4 L644.3,197.4 L644.8,197.4 L645.3,197.4 L645.7,197.5 L646.2,197.7 L646.7,197.8 L647.2,198.0 L647.6,198.3 L648.1,198.5 L648.5,198.8 L648.8,199.1 L649.2,199.5 L649.6,200.0 L649.9,200.6 L650.2,201.1 L650.5,201.6 L650.8,202.1 L651.1,202.3 L651.4,202.3 L651.7,202.1 L652.0,201.7 L652.3,201.2 L652.6,200.7 L652.8,200.1 L653.1,199.5 L653.4,198.9 L653.7,198.5 L654.0,198.3 L654.4,198.3 L654.8,198.4 L655.3,198.4 L655.8,198.4 L656.3,198.4 L656.9,198.7 L657.4,198.9 L657.9,198.8 L658.4,198.7 L658.9,198.7 L659.4,198.9 L659.9,199.1 L660.4,199.1 L660.9,199.0 L661.4,198.9 L661.9,199.0 L662.4,199.0 L662.9,199.1 L663.4,199.2 L663.9,199.3 L664.4,199.2 L664.9,199.1 L665.4,199.1 L665.9,199.1 L666.4,199.2 L666.9,199.2 L667.4,199.2 L667.9,199.1 L668.4,199.0 L668.9,198.9 L669.4,198.8 L669.9,198.8 L670.4,198.8 L670.9,198.8 L671.4,198.8 L671.9,198.8 L672.4,198.8 L672.9,198.8 L673.4,198.8 L673.9,199.0 L674.4,199.1 L674.9,199.1 L675.4,199.1 L675.9,199.1 L676.4,199.1 L676.9,199.2 L677.4,199.2 L677.9,199.2 L678.4,199.1 L678.9,199.1 L679.4,199.0 L679.9,198.9 L680.4,198.9 L680.9,198.9 L681.4,198.9 L681.9,198.8 L682.4,198.9 L682.9,199.1 L683.4,199.4 L683.9,199.2 L684.4,198.9 L684.9,198.9 L685.4,199.1 L685.9,199.3 L686.4,199.2 L686.9,199.1 L687.4,199.0 L687.9,199.1 L688.4,199.2 L688.9,199.3 L689.0,199.3" stroke="#000" stroke-width="1.5" stroke-dasharray="4.4 5.4"/>
<path d="M385.0,212.3 L385.5,212.3 L386.1,212.3 L386.6,212.2 L387.1,212.2 L387.6,212.1 L388.1,212.0 L388.6,212.0 L389.1,211.9 L389.6,211.8 L390.0,211.7 L390.5,211.5 L391.0,211.4 L391.4,211.3 L391.9,211.1 L392.3,210.9 L392.8,210.6 L393.2,210.3 L393.5,210.0 L393.9,209.6 L394.2,209.2 L394.5,208.8 L394.8,208.4 L395.0,208.0 L395.2,207.5 L395.5,207.1 L395.7,206.6 L395.8,206.1 L396.0,205.6 L396.1,205.2 L396.3,204.7 L396.4,204.2 L396.5,203.7 L396.6,203.2 L396.7,202.7 L396.8,202.3 L396.9,201.8 L397.0,201.3 L397.1,200.8 L397.2,200.3 L397.3,199.8 L397.4,199.3 L397.4,198.8 L397.5,198.3 L397.6,197.8 L397.7,197.3 L397.7,196.8 L397.8,196.3 L397.9,195.8 L398.0,195.3 L398.0,194.8 L398.1,194.4 L398.2,193.9 L398.2,193.4 L398.3,192.9 L398.4,192.4 L398.4,191.9 L398.5,191.4 L398.6,190.9 L398.6,190.4 L398.7,189.9 L398.8,189.3 L398.8,188.7 L398.9,188.1 L399.0,187.5 L399.0,187.0 L399.1,186.6 L399.3,186.4 L399.6,186.4 L400.2,186.3 L400.8,186.3 L401.2,186.2 L401.7,186.1 L402.2,186.0 L402.7,186.0 L403.2,186.1 L403.7,186.3 L404.2,186.5 L404.6,186.7 L405.1,186.9 L405.5,187.1 L406.0,187.4 L406.4,187.6 L406.9,187.8 L407.4,187.9 L407.9,188.0 L408.4,188.1 L408.9,188.2 L409.3,188.2 L409.8,188.2 L410.3,188.0 L410.8,187.7 L411.2,187.4 L411.6,187.1 L411.9,186.8 L412.2,186.4 L412.5,186.0 L412.8,185.5 L413.0,185.1 L413.2,184.7 L413.4,184.2 L413.6,183.7 L413.8,183.3 L413.9,182.8 L414.0,182.3 L414.2,181.8 L414.4,181.3 L414.5,180.9 L414.7,180.4 L414.8,179.9 L415.0,179.4 L415.1,179.0 L415.3,178.5 L415.4,178.0 L415.6,177.5 L415.7,177.0 L415.9,176.6 L416.0,176.1 L416.1,175.6 L416.2,175.1 L416.3,174.6 L416.5,174.1 L416.6,173.7 L416.7,173.2 L416.9,172.7 L417.1,172.1 L417.2,171.5 L417.4,170.9 L417.6,170.4 L417.8,170.1 L417.9,170.0 L418.1,170.2 L418.3,170.6 L418.5,171.1 L418.7,171.8 L418.8,172.4 L419.0,172.9 L419.1,173.4 L419.2,173.9 L419.4,174.4 L419.5,174.9 L419.6,175.4 L419.7,175.8 L419.8,176.3 L419.9,176.8 L420.1,177.3 L420.2,177.8 L420.3,178.3 L420.5,178.7 L420.6,179.2 L420.8,179.7 L421.0,180.2 L421.1,180.6 L421.3,181.1 L421.4,181.6 L421.6,182.1 L421.7,182.5 L421.9,183.0 L422.1,183.5 L422.2,184.0 L422.4,184.4 L422.6,184.9 L422.8,185.4 L422.9,185.8 L423.1,186.3 L423.3,186.8 L423.5,187.3 L423.7,187.7 L423.9,188.2 L424.2,188.6 L424.5,189.0 L424.9,189.4 L425.3,189.6 L425.6,189.5 L425.9,189.2 L426.1,188.8 L426.3,188.3 L426.5,187.7 L426.7,187.1 L426.9,186.6 L427.1,186.1 L427.2,185.6 L427.4,185.1 L427.5,184.7 L427.7,184.2 L427.9,183.7 L428.0,183.2 L428.2,182.8 L428.4,182.3 L428.6,181.8 L428.9,181.4 L429.2,181.0 L429.6,180.7 L429.9,180.8 L430.1,181.2 L430.3,181.7 L430.4,182.4 L430.6,182.9 L430.7,183.4 L430.8,183.9 L430.9,184.4 L431.0,184.9 L431.1,185.4 L431.2,185.9 L431.3,186.4 L431.4,186.8 L431.4,187.3 L431.5,187.8 L431.6,188.3 L431.7,188.8 L431.8,189.3 L431.9,189.8 L432.0,190.3 L432.1,190.8 L432.1,191.3 L432.2,191.8 L432.3,192.3 L432.3,192.8 L432.4,193.3 L432.5,193.8 L432.5,194.3 L432.6,194.7 L432.7,195.2 L432.8,195.7 L432.8,196.2 L432.9,196.7 L433.0,197.2 L433.1,197.7 L433.3,198.2 L433.4,198.7 L433.5,199.2 L433.6,199.6 L433.8,200.1 L433.9,200.6 L434.1,201.1 L434.2,201.6 L434.4,202.0 L434.5,202.5 L434.7,203.0 L434.9,203.4 L435.1,203.9 L435.3,204.3 L435.6,204.7 L436.0,205.1 L436.3,205.5 L436.6,205.9 L436.9,206.3 L437.3,206.7 L437.6,207.0 L437.9,207.4 L438.3,207.7 L438.7,208.1 L439.1,208.4 L439.5,208.7 L439.9,209.0 L440.3,209.2 L440.7,209.5 L441.2,209.7 L441.6,209.9 L442.1,210.1 L442.6,210.3 L443.0,210.5 L443.5,210.7 L444.0,210.8 L444.5,210.9 L444.9,211.0 L445.4,211.1 L445.9,211.2 L446.4,211.3 L446.9,211.4 L447.4,211.4 L447.9,211.5 L448.4,211.5 L448.9,211.6 L449.4,211.6 L449.9,211.7 L450.4,211.7 L450.9,211.8 L451.4,211.8 L451.9,211.9 L452.4,211.9 L452.9,211.9 L453.4,212.0 L453.9,212.0 L454.4,212.0 L454.9,212.0 L455.4,212.0 L455.9,212.1 L456.4,212.1 L456.9,212.1 L457.4,212.1 L457.9,212.1 L458.4,212.2 L458.9,212.2 L459.4,212.2 L459.9,212.2 L460.4,212.2 L460.9,212.2 L461.4,212.2 L461.9,212.3 L462.4,212.3 L462.9,212.3 L463.4,212.3 L463.9,212.3 L464.4,212.3 L464.9,212.3 L465.4,212.3 L465.9,212.3 L466.4,212.3 L466.9,212.2 L467.4,212.1 L467.9,212.1 L468.4,212.0 L468.9,211.9 L469.4,211.8 L469.9,211.8 L470.4,211.7 L470.9,211.7 L471.4,211.7 L471.9,211.6 L472.3,211.6 L472.8,211.6 L473.3,211.5 L473.8,211.5 L474.3,211.5 L474.8,211.5 L475.3,211.5 L475.8,211.4 L476.3,211.4 L476.8,211.4 L477.3,211.4 L477.8,211.3 L478.3,211.3 L478.8,211.3 L479.3,211.2 L479.8,211.2 L480.3,211.2 L480.8,211.1 L481.3,211.1 L481.8,211.0 L482.3,211.0 L482.8,210.9 L483.3,210.9 L483.8,210.8 L484.3,210.8 L484.8,210.7 L485.3,210.6 L485.8,210.6 L486.3,210.5 L486.8,210.4 L487.3,210.4 L487.8,210.3 L488.3,210.2 L488.8,210.2 L489.3,210.1 L489.8,210.0 L490.3,210.0 L490.8,209.9 L491.3,209.8 L491.8,209.7 L492.2,209.7 L492.7,209.6 L493.2,209.5 L493.7,209.4 L494.2,209.4 L494.7,209.3 L495.2,209.2 L495.7,209.1 L496.2,209.0 L496.7,209.0 L497.2,208.9 L497.7,208.8 L498.2,208.7 L498.7,208.6 L499.2,208.5 L499.6,208.4 L500.1,208.4 L500.6,208.3 L501.1,208.2 L501.6,208.1 L502.1,208.0 L502.6,207.9 L503.1,207.8 L503.6,207.7 L504.1,207.6 L504.6,207.5 L505.1,207.5 L505.5,207.4 L506.0,207.3 L506.5,207.2 L507.0,207.1 L507.5,207.0 L508.0,206.9 L508.5,206.8 L509.0,206.7 L509.5,206.6 L510.0,206.5 L510.5,206.4 L510.9,206.3 L511.4,206.2 L511.9,206.1 L512.4,206.0 L512.9,205.9 L513.4,205.7 L513.9,205.6 L514.4,205.5 L514.9,205.4 L515.3,205.3 L515.8,205.2 L516.3,205.1 L516.8,205.0 L517.3,204.9 L517.8,204.7 L518.3,204.6 L518.8,204.5 L519.3,204.4 L519.8,204.3 L520.2,204.2 L520.7,204.1 L521.2,204.1 L521.7,204.0 L522.2,203.9 L522.7,203.8 L523.2,203.7 L523.7,203.7 L524.2,203.6 L524.7,203.5 L525.2,203.5 L525.7,203.4 L526.2,203.4 L526.7,203.3 L527.1,203.3 L527.6,203.2 L528.1,203.1 L528.6,203.1 L529.1,203.0 L529.6,203.0 L530.1,202.9 L530.6,202.9 L531.1,202.8 L531.6,202.8 L532.1,202.7 L532.6,202.7 L533.1,202.7 L533.6,202.6 L534.1,202.6 L534.6,202.6 L535.1,202.6 L535.6,202.5 L536.1,202.5 L536.6,202.5 L537.1,202.5 L537.6,202.5 L538.1,202.5 L538.6,202.5 L539.1,202.5 L539.6,202.5 L540.1,202.5 L540.6,202.6 L541.1,202.6 L541.6,202.6 L542.1,202.6 L542.6,202.7 L543.1,202.7 L543.6,202.7 L544.1,202.8 L544.6,202.8 L545.1,202.8 L545.6,202.9 L546.1,202.9 L546.6,203.0 L547.1,203.0 L547.6,203.0 L548.1,203.1 L548.6,203.1 L549.1,203.2 L549.6,203.2 L550.1,203.3 L550.6,203.3 L551.1,203.4 L551.6,203.4 L552.1,203.5 L552.6,203.5 L553.1,203.6 L553.6,203.6 L554.1,203.7 L554.6,203.7 L555.1,203.8 L555.6,203.8 L556.1,203.9 L556.6,203.9 L557.1,204.0 L557.6,204.0 L558.1,204.1 L558.6,204.1 L559.1,204.2 L559.6,204.2 L560.1,204.3 L560.5,204.4 L561.0,204.4 L561.5,204.5 L562.0,204.5 L562.5,204.6 L563.0,204.6 L563.5,204.7 L564.0,204.7 L564.5,204.8 L565.0,204.8 L565.5,204.9 L566.0,205.0 L566.5,205.0 L567.0,205.2 L567.5,205.3 L568.0,205.4 L568.5,205.4 L569.0,205.5 L569.5,205.5 L570.0,205.5 L570.5,205.6 L571.0,205.6 L571.5,205.5 L572.0,205.6 L572.5,205.8 L573.0,206.0 L573.5,206.0 L574.0,205.9 L574.5,205.8 L575.0,205.9 L575.5,205.9 L576.0,206.0 L576.4,206.2 L576.9,206.4 L577.4,206.5 L577.9,206.5 L578.4,206.5 L578.9,206.4 L579.4,206.3 L579.9,206.3 L580.4,206.4 L580.9,206.5 L581.4,206.7 L581.9,206.8 L582.4,206.9 L582.9,206.9 L583.4,206.9 L583.9,207.0 L584.4,207.1 L584.9,207.1 L585.4,206.9 L585.9,206.8 L586.4,206.8 L586.9,206.8 L587.4,206.8 L587.9,207.0 L588.4,207.2 L588.9,207.3 L589.4,207.4 L589.9,207.5 L590.4,207.5 L590.9,207.5 L591.4,207.5 L591.9,207.5 L592.4,207.5 L592.9,207.6 L593.4,207.7 L593.9,207.8 L594.4,207.8 L594.9,207.9 L595.4,207.8 L595.9,207.6 L596.4,207.4 L596.9,207.5 L597.4,207.5 L597.9,207.6 L598.4,207.8 L598.9,208.0 L599.4,208.0 L599.9,208.0 L600.4,207.9 L600.9,207.8 L601.4,207.7 L601.9,207.7 L602.4,207.8 L602.9,207.9 L603.4,207.9 L603.9,207.8 L604.4,207.9 L604.9,208.0 L605.4,208.2 L605.9,208.2 L606.4,208.3 L606.9,208.3 L607.4,208.1 L607.9,208.0 L608.4,208.0 L608.9,208.2 L609.4,208.3 L609.9,208.1 L610.4,208.0 L610.9,207.9 L611.4,208.0 L611.9,208.1 L612.4,208.2 L612.9,208.2 L613.4,208.3 L613.9,208.2 L614.4,208.1 L614.9,208.2 L615.4,208.3 L615.9,208.5 L616.4,208.5 L616.9,208.6 L617.4,208.6 L617.9,208.4 L618.4,208.3 L618.9,208.4 L619.4,208.4 L619.9,208.5 L620.4,208.6 L620.9,208.7 L621.4,208.8 L621.8,208.9 L622.3,209.0 L622.8,209.2 L623.3,209.3 L623.7,209.5 L624.2,209.6 L624.7,209.7 L625.2,209.8 L625.7,210.0 L626.2,210.2 L626.6,210.3 L627.1,210.2 L627.6,210.2 L628.1,210.4 L628.6,210.6 L629.1,210.6 L629.6,210.6 L630.1,210.5 L630.6,210.6 L631.1,210.7 L631.6,210.8 L632.1,210.9 L632.6,211.0 L633.1,211.1 L633.6,211.2 L634.1,211.3 L634.6,211.3 L635.1,211.2 L635.6,211.2 L636.1,211.2 L636.6,211.1 L637.1,211.2 L637.6,211.3 L638.1,211.3 L638.6,211.3 L639.1,211.3 L639.6,211.3 L640.1,211.3 L640.6,211.4 L641.1,211.5 L641.6,211.5 L642.1,211.5 L642.6,211.4 L643.1,211.3 L643.6,211.3 L644.1,211.3 L644.6,211.4 L645.1,211.5 L645.6,211.6 L646.1,211.5 L646.6,211.4 L647.1,211.3 L647.6,211.3 L648.1,211.3 L648.6,211.4 L649.1,211.5 L649.6,211.6 L650.1,211.6 L650.6,211.5 L651.1,211.5 L651.6,211.5 L652.1,211.5 L652.6,211.6 L653.1,211.6 L653.6,211.6 L654.1,211.6 L654.6,211.5 L655.1,211.4 L655.6,211.4 L656.1,211.4 L656.6,211.4 L657.1,211.4 L657.6,211.4 L658.1,211.5 L658.6,211.5 L659.1,211.5 L659.6,211.5 L660.1,211.5 L660.6,211.5 L661.1,211.6 L661.6,211.6 L662.1,211.6 L662.6,211.6 L663.1,211.6 L663.6,211.6 L664.1,211.6 L664.6,211.7 L665.1,211.8 L665.6,211.8 L666.1,211.7 L666.6,211.6 L667.1,211.7 L667.6,211.8 L668.1,211.9 L668.6,212.0 L669.1,212.0 L669.6,212.0 L670.1,211.9 L670.6,211.8 L671.1,211.7 L671.6,211.6 L672.1,211.6 L672.6,211.6 L673.1,211.6 L673.6,211.7 L674.1,211.7 L674.6,211.8 L675.1,211.8 L675.6,211.8 L676.1,211.9 L676.6,212.0 L677.1,212.1 L677.6,211.9 L678.1,211.7 L678.6,211.7 L679.1,211.9 L679.6,212.0 L680.1,211.9 L680.6,211.8 L681.1,211.7 L681.6,211.7 L682.1,211.7 L682.6,211.8 L683.1,211.9 L683.6,212.0 L684.1,212.0 L684.6,212.1 L685.1,212.0 L685.6,211.9 L686.1,211.7 L686.6,211.8 L687.1,211.8 L687.6,211.8 L688.1,211.8 L688.6,211.7 L689.0,211.7" stroke="#000" stroke-width="1.5"/>
<path d="M385.0,126.8 L385.5,126.7 L386.0,126.7 L386.5,126.7 L387.0,126.7 L387.5,126.7 L388.0,126.7 L388.5,126.7 L389.0,126.7 L389.5,126.7 L390.0,126.7 L390.5,126.7 L391.0,126.7 L391.5,126.7 L392.0,126.6 L392.5,126.6 L393.0,126.6 L393.5,126.6 L394.0,126.6 L394.5,126.5 L395.0,126.5 L395.5,126.5 L396.0,126.5 L396.5,126.5 L397.0,126.4 L397.5,126.4 L398.0,126.4 L398.5,126.4 L399.0,126.4 L399.5,126.3 L400.0,126.3 L400.5,126.3 L401.0,126.2 L401.5,126.2 L402.0,126.2 L402.5,126.1 L403.0,126.1 L403.5,126.0 L404.0,126.0 L404.5,125.9 L405.0,125.8 L405.5,125.8 L406.0,125.7 L406.5,125.6 L406.9,125.5 L407.4,125.4 L407.9,125.3 L408.4,125.1 L408.8,124.9 L409.3,124.7 L409.8,124.5 L410.2,124.3 L410.7,124.1 L411.1,123.9 L411.6,123.7 L412.1,123.5 L412.5,123.3 L413.0,123.1 L413.5,122.8 L413.9,122.6 L414.4,122.4 L414.8,122.2 L415.3,122.1 L415.8,122.0 L416.3,122.0 L416.8,122.0 L417.3,122.1 L417.8,122.1 L418.3,122.2 L418.8,122.3 L419.3,122.4 L419.8,122.5 L420.3,122.5 L420.8,122.7 L421.3,122.8 L421.9,122.9 L422.4,123.0 L422.9,123.1 L423.3,123.2 L423.7,123.2 L424.0,123.2 L424.3,123.0 L424.6,122.6 L424.9,122.2 L425.1,121.6 L425.3,121.1 L425.5,120.5 L425.7,119.9 L425.9,119.4 L426.0,118.9 L426.2,118.4 L426.3,117.9 L426.4,117.5 L426.5,117.0 L426.6,116.5 L426.7,116.0 L426.8,115.5 L426.9,115.0 L426.9,114.5 L427.0,114.0 L427.1,113.5 L427.1,113.0 L427.2,112.5 L427.3,112.0 L427.4,111.5 L427.4,111.0 L427.5,110.5 L427.6,110.0 L427.7,109.5 L427.8,109.0 L427.9,108.5 L428.0,108.1 L428.1,107.5 L428.2,107.0 L428.4,106.4 L428.5,105.7 L428.6,105.1 L428.8,104.5 L428.9,103.9 L429.1,103.3 L429.2,102.7 L429.4,102.3 L429.5,101.9 L429.7,101.5 L429.8,101.3 L430.0,101.3 L430.1,101.3 L430.3,101.5 L430.4,101.7 L430.6,102.1 L430.7,102.6 L430.9,103.1 L431.0,103.6 L431.2,104.2 L431.3,104.9 L431.4,105.5 L431.6,106.1 L431.7,106.8 L431.8,107.3 L432.0,107.9 L432.1,108.4 L432.2,108.8 L432.3,109.3 L432.4,109.8 L432.5,110.3 L432.6,110.8 L432.7,111.3 L432.7,111.8 L432.8,112.3 L432.9,112.8 L433.0,113.3 L433.1,113.8 L433.2,114.3 L433.3,114.8 L433.3,115.3 L433.4,115.8 L433.6,116.2 L433.7,116.7 L433.8,117.2 L433.9,117.7 L434.0,118.2 L434.2,118.6 L434.4,119.1 L434.5,119.6 L434.7,120.1 L434.9,120.6 L435.1,121.0 L435.4,121.5 L435.6,121.9 L435.9,122.3 L436.1,122.7 L436.5,123.0 L436.8,123.4 L437.2,123.7 L437.6,124.0 L438.1,124.3 L438.5,124.6 L439.0,124.8 L439.4,125.0 L439.9,125.1 L440.3,125.3 L440.8,125.4 L441.3,125.6 L441.8,125.7 L442.3,125.9 L442.8,126.0 L443.3,126.1 L443.8,126.1 L444.3,126.2 L444.8,126.2 L445.3,126.3 L445.8,126.3 L446.3,126.3 L446.8,126.3 L447.3,126.3 L447.8,126.4 L448.2,126.4 L448.7,126.4 L449.2,126.4 L449.7,126.4 L450.2,126.5 L450.7,126.5 L451.2,126.5 L451.7,126.5 L452.2,126.5 L452.7,126.5 L453.2,126.5 L453.7,126.6 L454.2,126.6 L454.7,126.6 L455.2,126.6 L455.7,126.6 L456.2,126.6 L456.7,126.6 L457.2,126.6 L457.7,126.6 L458.2,126.7 L458.7,126.7 L459.2,126.7 L459.7,126.7 L460.2,126.7 L460.8,126.7 L461.3,126.7 L461.8,126.7 L462.3,126.7 L462.8,126.7 L463.3,126.7 L463.8,126.7 L464.3,126.7 L464.8,126.7 L465.3,126.7 L465.8,126.7 L466.3,126.7 L466.8,126.7 L467.3,126.7 L467.8,126.7 L468.3,126.7 L468.8,126.7 L469.3,126.7 L469.8,126.7 L470.3,126.7 L470.8,126.7 L471.3,126.7 L471.8,126.7 L472.3,126.7 L472.8,126.7 L473.3,126.7 L473.8,126.7 L474.3,126.7 L474.8,126.7 L475.3,126.7 L475.8,126.7 L476.3,126.7 L476.8,126.7 L477.3,126.7 L477.8,126.7 L478.3,126.7 L478.8,126.7 L479.3,126.7 L479.8,126.7 L480.3,126.7 L480.8,126.7 L481.3,126.7 L481.8,126.7 L482.3,126.7 L482.8,126.7 L483.3,126.7 L483.8,126.7 L484.3,126.7 L484.8,126.7 L485.3,126.7 L485.8,126.7 L486.3,126.7 L486.8,126.6 L487.3,126.6 L487.8,126.6 L488.3,126.6 L488.8,126.6 L489.3,126.6 L489.8,126.6 L490.3,126.6 L490.8,126.6 L491.3,126.6 L491.8,126.6 L492.3,126.6 L492.8,126.6 L493.3,126.6 L493.8,126.6 L494.3,126.5 L494.8,126.5 L495.3,126.5 L495.8,126.5 L496.3,126.5 L496.8,126.5 L497.3,126.5 L497.8,126.5 L498.3,126.5 L498.8,126.5 L499.3,126.5 L499.8,126.5 L500.3,126.4 L500.8,126.4 L501.3,126.4 L501.8,126.4 L502.3,126.4 L502.8,126.4 L503.3,126.4 L503.8,126.4 L504.3,126.4 L504.8,126.4 L505.3,126.3 L505.8,126.3 L506.3,126.3 L506.8,126.3 L507.3,126.3 L507.8,126.3 L508.3,126.3 L508.8,126.3 L509.3,126.3 L509.8,126.3 L510.3,126.2 L510.8,126.2 L511.3,126.2 L511.8,126.2 L512.3,126.2 L512.8,126.2 L513.3,126.2 L513.8,126.2 L514.3,126.2 L514.8,126.1 L515.3,126.1 L515.8,126.1 L516.3,126.1 L516.8,126.1 L517.3,126.1 L517.8,126.1 L518.3,126.1 L518.8,126.1 L519.3,126.0 L519.8,126.0 L520.3,126.0 L520.8,126.0 L521.3,126.0 L521.8,126.0 L522.3,126.0 L522.8,126.0 L523.3,126.0 L523.8,125.9 L524.3,125.9 L524.8,125.9 L525.3,125.9 L525.8,125.9 L526.3,125.9 L526.8,125.9 L527.3,125.9 L527.8,125.9 L528.3,125.8 L528.8,125.8 L529.3,125.8 L529.8,125.8 L530.3,125.8 L530.8,125.8 L531.3,125.8 L531.8,125.8 L532.3,125.8 L532.8,125.7 L533.3,125.7 L533.8,125.7 L534.3,125.7 L534.8,125.7 L535.3,125.7 L535.8,125.7 L536.3,125.6 L536.8,125.6 L537.3,125.6 L537.8,125.6 L538.3,125.6 L538.8,125.6 L539.3,125.5 L539.8,125.5 L540.3,125.5 L540.8,125.5 L541.3,125.5 L541.8,125.4 L542.3,125.4 L542.8,125.4 L543.3,125.4 L543.8,125.4 L544.3,125.3 L544.8,125.3 L545.3,125.3 L545.8,125.3 L546.3,125.2 L546.8,125.2 L547.3,125.2 L547.8,125.2 L548.3,125.2 L548.8,125.1 L549.3,125.1 L549.8,125.1 L550.3,125.1 L550.8,125.0 L551.3,125.0 L551.8,125.0 L552.3,125.0 L552.8,125.0 L553.3,124.9 L553.8,124.9 L554.3,124.9 L554.8,124.9 L555.3,124.8 L555.8,124.8 L556.3,124.8 L556.8,124.8 L557.3,124.8 L557.8,124.8 L558.3,124.7 L558.8,124.7 L559.3,124.7 L559.8,124.7 L560.3,124.7 L560.8,124.7 L561.3,124.6 L561.8,124.6 L562.3,124.6 L562.8,124.6 L563.3,124.6 L563.8,124.6 L564.3,124.6 L564.8,124.6 L565.3,124.5 L565.8,124.5 L566.3,124.5 L566.8,124.5 L567.3,124.5 L567.8,124.5 L568.3,124.5 L568.8,124.5 L569.3,124.5 L569.8,124.5 L570.3,124.5 L570.8,124.5 L571.3,124.5 L571.8,124.5 L572.3,124.5 L572.8,124.5 L573.3,124.5 L573.8,124.5 L574.3,124.5 L574.8,124.5 L575.3,124.5 L575.8,124.5 L576.3,124.5 L576.8,124.5 L577.3,124.5 L577.8,124.5 L578.3,124.6 L578.8,124.6 L579.3,124.6 L579.8,124.6 L580.3,124.6 L580.8,124.6 L581.3,124.6 L581.8,124.6 L582.3,124.6 L582.8,124.6 L583.3,124.6 L583.8,124.6 L584.3,124.6 L584.8,124.7 L585.3,124.7 L585.8,124.7 L586.3,124.7 L586.8,124.7 L587.3,124.7 L587.8,124.7 L588.3,124.7 L588.8,124.7 L589.3,124.7 L589.8,124.7 L590.3,124.8 L590.8,124.8 L591.3,124.8 L591.8,124.8 L592.3,124.8 L592.8,124.8 L593.3,124.8 L593.8,124.8 L594.3,124.8 L594.8,124.8 L595.3,124.8 L595.8,124.8 L596.3,124.8 L596.8,124.8 L597.3,124.8 L597.8,124.8 L598.3,124.8 L598.8,124.8 L599.3,124.8 L599.8,124.9 L600.3,124.9 L600.8,125.0 L601.3,125.0 L601.8,125.0 L602.3,125.0 L602.8,125.1 L603.3,125.1 L603.8,124.9 L604.3,124.8 L604.8,124.9 L605.3,125.1 L605.8,125.2 L606.3,125.1 L606.8,125.0 L607.3,125.0 L607.8,125.1 L608.3,125.1 L608.8,125.0 L609.3,124.9 L609.8,124.9 L610.3,124.9 L610.8,124.8 L611.3,124.9 L611.8,125.0 L612.3,125.1 L612.8,125.0 L613.3,125.0 L613.8,124.9 L614.3,124.9 L614.8,124.8 L615.2,124.7 L615.7,124.7 L616.2,124.6 L616.7,124.5 L617.2,124.5 L617.7,124.3 L618.2,124.1 L618.7,124.0 L619.2,123.9 L619.7,123.7 L620.2,123.6 L620.6,123.4 L621.1,123.2 L621.6,123.1 L622.1,123.0 L622.5,122.9 L623.0,122.9 L623.5,123.0 L623.9,123.2 L624.3,123.5 L624.8,123.8 L625.2,124.1 L625.7,124.4 L626.2,124.7 L626.6,124.8 L627.1,124.7 L627.6,124.7 L628.1,124.8 L628.6,124.9 L629.1,124.9 L629.6,124.9 L630.1,124.9 L630.6,124.9 L631.1,125.0 L631.6,125.0 L632.1,125.0 L632.6,125.0 L633.1,125.1 L633.6,125.3 L634.1,125.5 L634.6,125.5 L635.1,125.5 L635.6,125.6 L636.1,125.7 L636.6,125.8 L637.1,125.8 L637.6,125.8 L638.1,125.8 L638.6,125.8 L639.1,125.7 L639.6,125.7 L640.1,125.8 L640.6,125.8 L641.1,125.8 L641.6,125.8 L642.1,125.8 L642.6,126.0 L643.1,126.1 L643.6,126.1 L644.1,126.0 L644.6,125.8 L645.1,125.8 L645.6,125.8 L646.1,125.8 L646.6,125.8 L647.1,125.8 L647.6,126.0 L648.1,126.2 L648.6,126.3 L649.1,126.2 L649.6,126.2 L650.1,126.1 L650.6,126.0 L651.1,125.9 L651.6,126.0 L652.1,126.1 L652.6,126.2 L653.1,126.3 L653.6,126.3 L654.1,126.3 L654.6,126.3 L655.1,126.3 L655.6,126.2 L656.1,126.1 L656.6,126.1 L657.1,126.0 L657.6,126.0 L658.1,126.1 L658.6,126.2 L659.1,126.3 L659.6,126.3 L660.1,126.3 L660.6,126.3 L661.1,126.2 L661.6,126.2 L662.1,126.2 L662.6,126.3 L663.1,126.4 L663.6,126.4 L664.1,126.5 L664.6,126.3 L665.1,126.2 L665.6,126.1 L666.1,126.1 L666.6,126.0 L667.1,126.1 L667.6,126.2 L668.1,126.3 L668.6,126.4 L669.1,126.5 L669.6,126.5 L670.1,126.5 L670.6,126.5 L671.1,126.4 L671.6,126.2 L672.1,126.1 L672.6,126.2 L673.1,126.2 L673.6,126.3 L674.1,126.4 L674.6,126.5 L675.1,126.4 L675.6,126.4 L676.1,126.4 L676.6,126.4 L677.1,126.4 L677.6,126.4 L678.1,126.4 L678.6,126.3 L679.1,126.3 L679.6,126.3 L680.1,126.3 L680.6,126.4 L681.1,126.5 L681.6,126.4 L682.1,126.3 L682.6,126.3 L683.1,126.3 L683.6,126.3 L684.1,126.3 L684.6,126.4 L685.1,126.4 L685.6,126.4 L686.1,126.4 L686.6,126.5 L687.1,126.5 L687.6,126.6 L688.1,126.6 L688.6,126.6 L689.0,126.6" stroke="#0a0af2" stroke-width="1.5" stroke-dasharray="1.05 0.9"/>
<path d="M385.0,139.7 L385.5,139.7 L386.0,139.7 L386.5,139.7 L387.0,139.7 L387.5,139.7 L388.0,139.7 L388.5,139.7 L389.0,139.7 L389.5,139.7 L390.0,139.6 L390.5,139.6 L391.0,139.6 L391.5,139.7 L392.0,139.6 L392.5,139.6 L393.0,139.6 L393.5,139.6 L394.0,139.5 L394.5,139.6 L395.0,139.6 L395.5,139.6 L396.0,139.5 L396.5,139.5 L397.0,139.4 L397.5,139.4 L398.0,139.4 L398.5,139.4 L399.0,139.4 L399.5,139.4 L400.0,139.4 L400.5,139.3 L401.0,139.2 L401.5,139.1 L402.0,139.0 L402.5,139.0 L403.0,139.0 L403.5,138.9 L404.0,138.8 L404.5,138.7 L404.9,138.6 L405.4,138.5 L405.9,138.4 L406.4,138.3 L406.9,138.3 L407.4,138.1 L407.9,137.9 L408.4,137.7 L408.9,137.6 L409.3,137.6 L409.8,137.5 L410.3,137.4 L410.8,137.2 L411.3,137.1 L411.7,136.8 L412.2,136.6 L412.7,136.4 L413.1,136.3 L413.6,136.1 L414.1,135.9 L414.5,135.8 L415.0,135.6 L415.5,135.4 L416.0,135.3 L416.4,135.2 L416.9,135.1 L417.4,135.1 L417.9,135.1 L418.4,135.1 L419.0,135.1 L419.5,135.1 L420.0,135.1 L420.5,135.2 L421.0,135.2 L421.6,135.2 L422.1,135.1 L422.6,134.9 L423.1,135.0 L423.5,135.1 L423.9,135.1 L424.2,134.9 L424.5,134.5 L424.8,134.0 L425.0,133.5 L425.3,132.9 L425.5,132.3 L425.7,131.8 L425.9,131.3 L426.0,130.8 L426.2,130.4 L426.3,129.9 L426.4,129.4 L426.6,129.0 L426.7,128.5 L426.8,128.0 L426.9,127.5 L427.0,127.0 L427.1,126.5 L427.1,126.0 L427.2,125.4 L427.3,124.9 L427.4,124.4 L427.5,123.9 L427.6,123.4 L427.7,122.9 L427.8,122.4 L428.0,121.9 L428.1,121.5 L428.3,121.0 L428.4,120.4 L428.6,119.8 L428.7,119.3 L428.9,118.7 L429.1,118.2 L429.2,117.7 L429.4,117.2 L429.6,116.8 L429.8,116.6 L429.9,116.4 L430.1,116.4 L430.3,116.6 L430.4,116.8 L430.6,117.2 L430.8,117.7 L431.0,118.2 L431.1,118.8 L431.3,119.5 L431.5,120.1 L431.6,120.7 L431.8,121.3 L431.9,121.9 L432.1,122.4 L432.2,122.8 L432.3,123.3 L432.4,123.8 L432.5,124.3 L432.6,124.8 L432.7,125.3 L432.8,125.8 L432.9,126.3 L433.0,126.8 L433.1,127.3 L433.2,127.8 L433.3,128.3 L433.4,128.8 L433.5,129.3 L433.6,129.7 L433.7,130.2 L433.9,130.7 L434.0,131.2 L434.2,131.6 L434.3,132.1 L434.5,132.6 L434.7,133.1 L434.9,133.6 L435.1,134.0 L435.3,134.5 L435.5,134.9 L435.8,135.2 L436.0,135.6 L436.4,135.9 L436.7,136.2 L437.2,136.4 L437.6,136.8 L438.1,137.0 L438.5,137.3 L439.0,137.6 L439.4,137.8 L439.9,138.1 L440.3,138.3 L440.8,138.5 L441.3,138.6 L441.8,138.6 L442.3,138.7 L442.7,138.7 L443.2,138.7 L443.7,138.8 L444.2,138.9 L444.7,139.1 L445.2,139.1 L445.7,139.2 L446.2,139.2 L446.7,139.3 L447.2,139.3 L447.7,139.4 L448.2,139.5 L448.7,139.6 L449.2,139.7 L449.7,139.7 L450.2,139.7 L450.7,139.7 L451.2,139.7 L451.7,139.7 L452.2,139.8 L452.7,139.9 L453.2,139.9 L453.7,139.9 L454.2,139.9 L454.7,140.0 L455.2,140.0 L455.7,140.0 L456.2,139.9 L456.7,139.9 L457.2,139.9 L457.7,139.9 L458.2,139.9 L458.7,139.9 L459.2,139.9 L459.7,140.0 L460.2,140.1 L460.7,140.2 L461.2,140.1 L461.7,140.1 L462.2,140.1 L462.7,140.1 L463.2,140.1 L463.7,140.0 L464.2,139.8 L464.7,139.8 L465.2,139.8 L465.7,139.8 L466.2,139.8 L466.7,139.8 L467.2,139.8 L467.7,139.8 L468.2,139.8 L468.7,139.8 L469.2,139.9 L469.7,139.9 L470.2,139.9 L470.7,139.9 L471.2,139.9 L471.7,139.9 L472.2,139.8 L472.7,139.9 L473.2,139.9 L473.7,139.9 L474.2,140.0 L474.7,140.0 L475.2,139.9 L475.7,139.9 L476.2,139.9 L476.7,139.8 L477.2,139.8 L477.7,139.8 L478.2,139.7 L478.7,139.7 L479.2,139.8 L479.7,139.8 L480.2,139.9 L480.7,139.8 L481.2,139.8 L481.7,139.8 L482.2,139.8 L482.7,139.8 L483.2,139.9 L483.7,139.9 L484.2,139.9 L484.7,139.8 L485.2,139.7 L485.7,139.7 L486.2,139.6 L486.7,139.6 L487.2,139.6 L487.7,139.6 L488.2,139.7 L488.7,139.8 L489.2,139.8 L489.7,139.7 L490.2,139.6 L490.7,139.7 L491.2,139.7 L491.7,139.8 L492.2,139.8 L492.7,139.8 L493.2,139.7 L493.7,139.6 L494.2,139.4 L494.7,139.5 L495.2,139.5 L495.7,139.5 L496.2,139.4 L496.7,139.4 L497.2,139.4 L497.7,139.5 L498.2,139.6 L498.7,139.5 L499.2,139.4 L499.7,139.4 L500.2,139.5 L500.7,139.6 L501.2,139.6 L501.7,139.5 L502.2,139.5 L502.7,139.5 L503.2,139.5 L503.7,139.5 L504.2,139.5 L504.7,139.5 L505.2,139.4 L505.7,139.3 L506.2,139.2 L506.7,139.2 L507.2,139.2 L507.7,139.2 L508.2,139.2 L508.7,139.2 L509.2,139.3 L509.7,139.3 L510.2,139.4 L510.7,139.4 L511.2,139.5 L511.7,139.4 L512.2,139.4 L512.7,139.4 L513.2,139.4 L513.7,139.4 L514.2,139.3 L514.7,139.1 L515.2,139.0 L515.7,139.1 L516.2,139.1 L516.7,139.1 L517.2,139.1 L517.7,139.0 L518.2,139.0 L518.7,139.0 L519.2,139.0 L519.7,139.0 L520.2,138.9 L520.7,139.0 L521.2,139.1 L521.7,139.1 L522.2,139.1 L522.7,139.0 L523.2,138.9 L523.7,138.9 L524.2,138.8 L524.7,138.9 L525.2,139.0 L525.7,139.0 L526.2,139.0 L526.7,138.9 L527.2,138.9 L527.7,138.9 L528.2,138.9 L528.7,138.9 L529.2,138.9 L529.7,138.8 L530.2,138.7 L530.7,138.7 L531.2,138.7 L531.7,138.8 L532.2,138.8 L532.7,138.8 L533.2,138.9 L533.7,138.9 L534.2,138.9 L534.7,138.9 L535.2,138.8 L535.7,138.8 L536.2,138.7 L536.7,138.7 L537.2,138.7 L537.7,138.6 L538.2,138.5 L538.7,138.5 L539.2,138.5 L539.7,138.5 L540.2,138.5 L540.7,138.5 L541.2,138.4 L541.7,138.3 L542.2,138.2 L542.7,138.2 L543.2,138.2 L543.7,138.2 L544.2,138.1 L544.7,138.1 L545.2,138.1 L545.7,138.1 L546.2,138.1 L546.7,138.1 L547.2,138.0 L547.7,138.0 L548.2,138.0 L548.7,138.0 L549.2,137.9 L549.7,137.9 L550.2,137.8 L550.7,137.7 L551.2,137.6 L551.7,137.5 L552.2,137.5 L552.7,137.5 L553.2,137.5 L553.7,137.5 L554.2,137.5 L554.7,137.5 L555.2,137.4 L555.7,137.4 L556.2,137.4 L556.7,137.3 L557.1,137.3 L557.6,137.3 L558.1,137.2 L558.6,137.2 L559.1,137.1 L559.6,137.1 L560.1,137.1 L560.6,137.1 L561.1,137.1 L561.6,137.2 L562.1,137.1 L562.6,137.0 L563.1,136.8 L563.6,136.8 L564.1,136.8 L564.6,136.8 L565.1,136.7 L565.6,136.7 L566.1,136.7 L566.6,136.7 L567.1,136.7 L567.6,136.7 L568.1,136.7 L568.6,136.8 L569.1,136.8 L569.6,136.9 L570.1,136.8 L570.6,136.7 L571.1,136.7 L571.6,136.7 L572.1,136.7 L572.6,136.8 L573.1,136.8 L573.6,136.9 L574.1,136.7 L574.6,136.6 L575.1,136.5 L575.6,136.6 L576.1,136.6 L576.6,136.7 L577.1,136.8 L577.6,136.8 L578.1,136.7 L578.6,136.5 L579.1,136.6 L579.6,136.6 L580.1,136.6 L580.6,136.6 L581.1,136.5 L581.6,136.5 L582.1,136.6 L582.6,136.6 L583.1,136.7 L583.6,136.8 L584.1,136.8 L584.6,136.6 L585.1,136.5 L585.6,136.5 L586.1,136.5 L586.6,136.5 L587.1,136.7 L587.6,136.8 L588.1,136.7 L588.6,136.5 L589.1,136.4 L589.6,136.4 L590.1,136.3 L590.6,136.4 L591.1,136.6 L591.6,136.7 L592.1,136.7 L592.6,136.7 L593.1,136.7 L593.6,136.8 L594.1,136.8 L594.6,136.7 L595.1,136.6 L595.6,136.5 L596.1,136.5 L596.6,136.5 L597.1,136.5 L597.6,136.5 L598.1,136.5 L598.6,136.5 L599.1,136.5 L599.6,136.5 L600.1,136.6 L600.6,136.7 L601.1,136.7 L601.6,136.6 L602.1,136.5 L602.6,136.7 L603.1,136.8 L603.6,136.7 L604.1,136.5 L604.6,136.4 L605.1,136.4 L605.6,136.4 L606.1,136.5 L606.6,136.5 L607.1,136.4 L607.6,136.2 L608.1,136.0 L608.6,136.0 L609.1,136.2 L609.6,136.5 L610.1,136.5 L610.6,136.4 L611.1,136.4 L611.6,136.3 L612.1,136.2 L612.6,136.2 L613.1,136.1 L613.6,136.0 L614.1,135.7 L614.6,135.4 L615.1,135.2 L615.6,135.2 L616.0,135.2 L616.5,135.1 L617.0,135.1 L617.5,135.1 L617.9,134.8 L618.4,134.5 L618.8,134.1 L619.3,133.7 L619.7,133.3 L620.1,132.9 L620.5,132.6 L620.9,132.3 L621.3,132.2 L621.8,132.1 L622.2,132.0 L622.7,132.0 L623.3,132.3 L623.8,132.7 L624.3,132.9 L624.6,133.0 L624.8,133.3 L624.9,133.8 L625.1,134.3 L625.2,134.9 L625.3,135.5 L625.4,136.1 L625.5,136.5 L625.7,136.7 L626.0,136.9 L626.4,137.0 L626.9,137.1 L627.4,137.2 L628.0,137.2 L628.6,137.1 L629.2,137.0 L629.7,137.2 L630.2,137.3 L630.7,137.4 L631.2,137.4 L631.7,137.4 L632.2,137.5 L632.7,137.6 L633.2,137.5 L633.7,137.4 L634.2,137.2 L634.7,137.3 L635.2,137.7 L635.7,138.1 L636.2,138.2 L636.7,138.2 L637.2,138.2 L637.7,138.0 L638.1,138.0 L638.6,138.0 L639.1,138.2 L639.6,138.4 L640.0,138.6 L640.5,138.8 L641.0,139.0 L641.5,139.0 L642.0,139.1 L642.5,139.3 L643.0,139.3 L643.5,139.4 L644.0,139.4 L644.5,139.3 L645.1,139.2 L645.6,139.3 L646.1,139.3 L646.6,139.4 L647.1,139.4 L647.6,139.3 L648.0,139.3 L648.5,139.2 L648.9,139.1 L649.3,138.6 L649.7,138.1 L650.1,137.6 L650.5,137.3 L650.8,137.1 L651.1,136.8 L651.4,136.7 L651.7,136.9 L652.0,137.4 L652.2,137.9 L652.6,138.2 L653.0,138.4 L653.4,138.5 L653.9,138.3 L654.3,138.4 L654.8,138.4 L655.3,138.5 L655.8,138.6 L656.3,138.7 L656.8,138.8 L657.3,138.8 L657.8,138.7 L658.3,138.6 L658.8,138.5 L659.3,138.5 L659.8,138.7 L660.3,138.9 L660.8,139.0 L661.4,139.0 L661.9,139.0 L662.4,139.0 L662.9,139.1 L663.4,139.1 L663.9,139.1 L664.4,139.2 L664.9,139.1 L665.4,139.0 L665.9,139.0 L666.4,139.2 L666.9,139.4 L667.4,139.4 L667.9,139.4 L668.4,139.4 L668.9,139.4 L669.4,139.5 L669.9,139.5 L670.4,139.5 L670.9,139.4 L671.4,139.5 L671.9,139.6 L672.4,139.5 L672.9,139.5 L673.4,139.5 L673.9,139.6 L674.4,139.6 L674.9,139.7 L675.4,139.6 L675.9,139.4 L676.4,139.4 L676.9,139.5 L677.4,139.6 L677.9,139.8 L678.4,140.0 L678.9,140.1 L679.4,139.9 L679.9,139.7 L680.4,139.8 L680.9,139.9 L681.4,140.1 L681.9,140.2 L682.4,140.3 L682.9,140.2 L683.4,139.9 L683.9,139.7 L684.4,139.8 L684.9,140.0 L685.4,140.1 L685.9,140.1 L686.4,140.1 L686.9,140.0 L687.4,140.0 L687.9,139.9 L688.4,139.8 L688.9,139.7 L689.0,139.7" stroke="#0a0af2" stroke-width="1.6"/>
</g>
<path d="M385.5,221.5 L385.5,0.5 L688.5,0.5 L688.5,221.5" fill="none" stroke="#000" stroke-width="1.1"/>
<line x1="385.0" y1="221.0" x2="689.0" y2="221.0" stroke="#222" stroke-width="1.0"/>
<line x1="66.77" y1="222.5" x2="66.77" y2="226.7" stroke="#000" stroke-width="1"/>
<text x="66.77" y="238.3" font-size="10.6" text-anchor="middle">1000</text>
<line x1="153.31" y1="222.5" x2="153.31" y2="226.7" stroke="#000" stroke-width="1"/>
<text x="153.31" y="238.3" font-size="10.6" text-anchor="middle">1200</text>
<line x1="239.86" y1="222.5" x2="239.86" y2="226.7" stroke="#000" stroke-width="1"/>
<text x="239.86" y="238.3" font-size="10.6" text-anchor="middle">1400</text>
<line x1="326.40" y1="222.5" x2="326.40" y2="226.7" stroke="#000" stroke-width="1"/>
<text x="326.40" y="238.3" font-size="10.6" text-anchor="middle">1600</text>
<line x1="23.50" y1="222.5" x2="23.50" y2="224.8" stroke="#000" stroke-width="1"/>
<line x1="110.04" y1="222.5" x2="110.04" y2="224.8" stroke="#000" stroke-width="1"/>
<line x1="196.59" y1="222.5" x2="196.59" y2="224.8" stroke="#000" stroke-width="1"/>
<line x1="283.13" y1="222.5" x2="283.13" y2="224.8" stroke="#000" stroke-width="1"/>
<line x1="385.50" y1="221.0" x2="385.50" y2="225.2" stroke="#000" stroke-width="1"/>
<text x="385.40" y="237.2" font-size="10.6" text-anchor="middle">2800</text>
<line x1="436.00" y1="221.0" x2="436.00" y2="225.2" stroke="#000" stroke-width="1"/>
<text x="435.90" y="237.2" font-size="10.6" text-anchor="middle">3000</text>
<line x1="486.50" y1="221.0" x2="486.50" y2="225.2" stroke="#000" stroke-width="1"/>
<text x="486.40" y="237.2" font-size="10.6" text-anchor="middle">3200</text>
<line x1="537.00" y1="221.0" x2="537.00" y2="225.2" stroke="#000" stroke-width="1"/>
<text x="536.90" y="237.2" font-size="10.6" text-anchor="middle">3400</text>
<line x1="587.50" y1="221.0" x2="587.50" y2="225.2" stroke="#000" stroke-width="1"/>
<text x="587.40" y="237.2" font-size="10.6" text-anchor="middle">3600</text>
<line x1="638.00" y1="221.0" x2="638.00" y2="225.2" stroke="#000" stroke-width="1"/>
<text x="637.90" y="237.2" font-size="10.6" text-anchor="middle">3800</text>
<line x1="688.50" y1="221.0" x2="688.50" y2="225.2" stroke="#000" stroke-width="1"/>
<text x="688.40" y="237.2" font-size="10.6" text-anchor="middle">4000</text>
<line x1="410.75" y1="221.0" x2="410.75" y2="223.3" stroke="#000" stroke-width="1"/>
<line x1="461.25" y1="221.0" x2="461.25" y2="223.3" stroke="#000" stroke-width="1"/>
<line x1="511.75" y1="221.0" x2="511.75" y2="223.3" stroke="#000" stroke-width="1"/>
<line x1="562.25" y1="221.0" x2="562.25" y2="223.3" stroke="#000" stroke-width="1"/>
<line x1="612.75" y1="221.0" x2="612.75" y2="223.3" stroke="#000" stroke-width="1"/>
<line x1="663.25" y1="221.0" x2="663.25" y2="223.3" stroke="#000" stroke-width="1"/>
<text x="121.4" y="258.6" font-size="12.85">Wavenumber, cm</text>
<text x="222.6" y="254.2" font-size="7.2" stroke-width="0.15">-1</text>
<text x="482.6" y="257.2" font-size="13">Wavenumber, cm</text>
<text x="584.3" y="253.1" font-size="7.2" stroke-width="0.15">-1</text>
<text transform="translate(9.7,161.6) rotate(-90)" font-size="12.65">Absorbance, a. u.</text>
<text transform="translate(371.2,160.8) rotate(-90)" font-size="12.55">Absorbance, a. u.</text>
<text x="29.8" y="17.9" font-size="14" font-weight="bold" stroke="none">(a)</text>
<text x="392" y="17.9" font-size="15">(b)</text>
<rect x="201.8" y="2.9" width="122.0" height="88.3" fill="#fff" stroke="#444" stroke-width="1.2"/>
<line x1="207" y1="12.5" x2="231.7" y2="12.5" stroke="#0a0af2" stroke-width="1.4" stroke-dasharray="1 0.9"/>
<text x="236.0" y="16.3" font-size="10.85">120 min HB + UV</text>
<line x1="207" y1="26.1" x2="231.7" y2="26.1" stroke="#0a0af2" stroke-width="1.6"/>
<text x="236.0" y="29.900000000000002" font-size="10.85">2 min HB + UV</text>
<line x1="207" y1="39.5" x2="231.7" y2="39.5" stroke="#000" stroke-width="1.2" stroke-dasharray="1 0.9"/>
<text x="236.0" y="43.3" font-size="10.85">120 min HB</text>
<line x1="207" y1="53.1" x2="231.7" y2="53.1" stroke="#000" stroke-width="1.3" stroke-dasharray="4.2 2.4 1.1 2.3 1.1 2.8"/>
<text x="236.0" y="56.9" font-size="10.85">30 min HB</text>
<line x1="207" y1="66.7" x2="231.7" y2="66.7" stroke="#000" stroke-width="1.5" stroke-dasharray="4.4 5.4"/>
<text x="236.0" y="70.5" font-size="10.85">10 min HB</text>
<line x1="207" y1="80.4" x2="231.7" y2="80.4" stroke="#000" stroke-width="1.2"/>
<text x="236.0" y="84.2" font-size="10.85">2 min HB</text>
<rect x="563.5" y="3.3" width="122.29999999999995" height="88.10000000000001" fill="#fff" stroke="#222" stroke-width="0.8"/>
<line x1="568.8" y1="12.9" x2="593.4" y2="12.9" stroke="#0a0af2" stroke-width="1.4" stroke-dasharray="1 0.9"/>
<text x="598.4" y="16.7" font-size="10.6">120 min HB + UV</text>
<line x1="568.8" y1="26.6" x2="593.4" y2="26.6" stroke="#0a0af2" stroke-width="1.6"/>
<text x="598.4" y="30.400000000000002" font-size="10.6">2 min HB + UV</text>
<line x1="568.8" y1="40.0" x2="593.4" y2="40.0" stroke="#000" stroke-width="1.2" stroke-dasharray="1 0.9"/>
<text x="598.4" y="43.8" font-size="10.6">120 min HB</text>
<line x1="568.8" y1="53.6" x2="593.4" y2="53.6" stroke="#000" stroke-width="1.3" stroke-dasharray="4.2 2.4 1.1 2.3 1.1 2.8"/>
<text x="598.4" y="57.4" font-size="10.6">30 min HB</text>
<line x1="568.8" y1="67.0" x2="593.4" y2="67.0" stroke="#000" stroke-width="1.5" stroke-dasharray="4.4 5.4"/>
<text x="598.4" y="70.8" font-size="10.6">10 min HB</text>
<line x1="568.8" y1="80.8" x2="593.4" y2="80.8" stroke="#000" stroke-width="1.2"/>
<text x="598.4" y="84.6" font-size="10.6">2 min HB</text>
<text x="101.9" y="19.3" font-size="10.6"><tspan font-size="9.6">ν</tspan><tspan dy="-4.2" font-size="8.3" font-weight="bold" stroke="none">a</tspan><tspan dy="4.2">-Si-O-Si</tspan></text>
<line x1="113.9" y1="25.9" x2="108.2" y2="39.8" stroke="#000" stroke-width="0.75"/>
<path d="M106.9,43.2 L106.5,38.3 L110.3,39.9 Z" fill="#000"/>
<text x="115.0" y="64.3" font-size="10.6">δ<tspan dy="-4.2" font-size="8.3" font-weight="bold" stroke="none">s</tspan><tspan dy="4.2">-C-H</tspan><tspan dy="3.5" font-size="8.6" font-weight="bold" stroke="none">3</tspan><tspan dy="-3.5"> in Si-CH</tspan><tspan dy="3.5" font-size="8.6" font-weight="bold" stroke="none">3</tspan></text>
<line x1="185.6" y1="68" x2="185.6" y2="210" stroke="#222" stroke-width="0.8" stroke-dasharray="4.3 1"/>
<text x="398.2" y="68.3" font-size="10.6"><tspan font-size="9.6">ν</tspan><tspan dy="-4.9" font-size="8.3" font-weight="bold" stroke="none">a</tspan><tspan dy="4.9">-C-H</tspan><tspan dy="3.5" font-size="8.6" font-weight="bold" stroke="none">2</tspan></text>
<line x1="418" y1="79" x2="418" y2="211.5" stroke="#222" stroke-width="0.85" stroke-dasharray="1 0.95"/>
<text x="456.9" y="84.7" font-size="10.35">Moisture &amp; -OH</text>
<line x1="515" y1="94" x2="530.2" y2="117.3" stroke="#000" stroke-width="0.75"/>
<path d="M532.3,120.5 L527.8,117.5 L531.3,115.3 Z" fill="#000"/>
</svg></body></html>
